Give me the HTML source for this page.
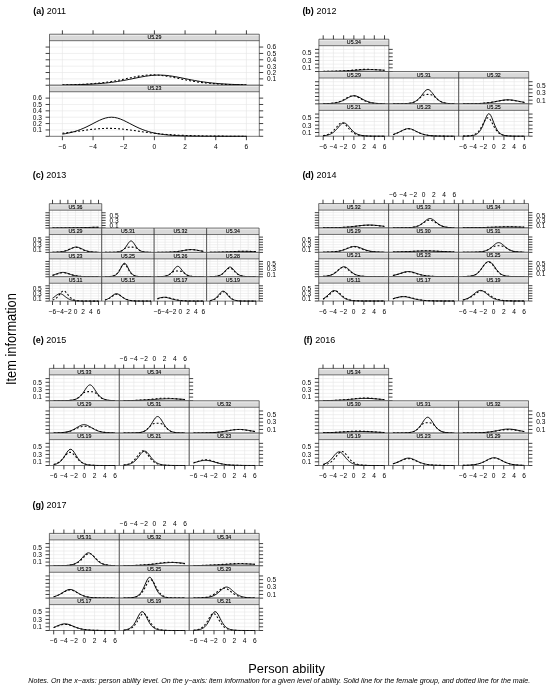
<!DOCTYPE html>
<html lang="en">
<head>
<meta charset="utf-8">
<title>Item information by person ability, 2011-2017</title>
<style>
html,body{margin:0;padding:0;background:#fff;}
body{width:550px;height:689px;overflow:hidden;}
svg{display:block;font-family:'Liberation Sans', Arial, Helvetica, sans-serif;}
</style>
</head>
<body>
<svg width="550" height="689" viewBox="0 0 550 689">
<rect width="550" height="689" fill="#fff"/>
<text x="49.6" y="13.6" font-size="9" fill="#000" text-anchor="middle"><tspan font-weight="bold">(a)</tspan> 2011</text>
<g><rect x="49.5" y="40.7" width="209.8" height="44.55" fill="#fff"/>
<path d="M62.38 40.7V85.25M93.05 40.7V85.25M123.73 40.7V85.25M154.4 40.7V85.25M185.07 40.7V85.25M215.75 40.7V85.25M246.42 40.7V85.25M49.5 78.89H259.3M49.5 72.52H259.3M49.5 66.16H259.3M49.5 59.79H259.3M49.5 53.43H259.3M49.5 47.06H259.3" stroke="#e6e6e6" stroke-width="0.6" fill="none"/>
<rect x="49.5" y="34.2" width="209.8" height="6.5" fill="#d9d9d9"/>
<rect x="49.5" y="34.2" width="209.8" height="1.7" fill="#ececec"/>
<text x="154.4" y="39.34" font-size="5.25" text-anchor="middle" fill="#000" stroke="#000" stroke-width="0.12">U5.29</text>
<polyline points="62.38,84.9 65.45,84.84 68.52,84.77 71.58,84.69 74.65,84.6 77.72,84.49 80.79,84.36 83.85,84.21 86.92,84.04 89.99,83.84 93.05,83.61 96.12,83.35 99.19,83.06 102.26,82.72 105.32,82.35 108.39,81.93 111.46,81.46 114.53,80.95 117.59,80.4 120.66,79.81 123.73,79.2 126.79,78.56 129.86,77.91 132.93,77.28 136,76.68 139.06,76.13 142.13,75.66 145.2,75.29 148.27,75.03 151.33,74.89 154.4,74.89 157.47,75.03 160.53,75.29 163.6,75.66 166.67,76.13 169.74,76.68 172.8,77.28 175.87,77.91 178.94,78.56 182.01,79.2 185.07,79.81 188.14,80.4 191.21,80.95 194.27,81.46 197.34,81.93 200.41,82.35 203.48,82.72 206.54,83.06 209.61,83.35 212.68,83.61 215.75,83.84 218.81,84.04 221.88,84.21 224.95,84.36 228.01,84.49 231.08,84.6 234.15,84.69 237.22,84.77 240.28,84.84 243.35,84.9 246.42,84.95" fill="none" stroke="#000" stroke-width="1.05" stroke-dasharray="1.9 2.1"/>
<polyline points="62.38,84.99 65.45,84.95 68.52,84.89 71.58,84.83 74.65,84.76 77.72,84.68 80.79,84.58 83.85,84.47 86.92,84.34 89.99,84.2 93.05,84.02 96.12,83.83 99.19,83.6 102.26,83.34 105.32,83.05 108.39,82.72 111.46,82.35 114.53,81.93 117.59,81.47 120.66,80.97 123.73,80.43 126.79,79.86 129.86,79.25 132.93,78.63 136,78 139.06,77.39 142.13,76.81 145.2,76.28 148.27,75.83 151.33,75.46 154.4,75.21 157.47,75.08 160.53,75.08 163.6,75.21 166.67,75.46 169.74,75.83 172.8,76.28 175.87,76.81 178.94,77.39 182.01,78 185.07,78.63 188.14,79.25 191.21,79.86 194.27,80.43 197.34,80.97 200.41,81.47 203.48,81.93 206.54,82.35 209.61,82.72 212.68,83.05 215.75,83.34 218.81,83.6 221.88,83.83 224.95,84.02 228.01,84.2 231.08,84.34 234.15,84.47 237.22,84.58 240.28,84.68 243.35,84.76 246.42,84.83" fill="none" stroke="#000" stroke-width="0.95"/>
<path d="M49.5 34.2H259.3V85.25H49.5ZM49.5 40.7H259.3" fill="none" stroke="#1a1a1a" stroke-width="0.6"/>
<text x="267" y="81.26" font-size="6.6" text-anchor="start">0.1</text>
<text x="267" y="74.9" font-size="6.6" text-anchor="start">0.2</text>
<text x="267" y="68.53" font-size="6.6" text-anchor="start">0.3</text>
<text x="267" y="62.17" font-size="6.6" text-anchor="start">0.4</text>
<text x="267" y="55.8" font-size="6.6" text-anchor="start">0.5</text>
<text x="267" y="49.44" font-size="6.6" text-anchor="start">0.6</text>
<path d="M62.38 34.2v-3.9M93.05 34.2v-3.9M123.73 34.2v-3.9M154.4 34.2v-3.9M185.07 34.2v-3.9M215.75 34.2v-3.9M246.42 34.2v-3.9M49.5 85.25h-3.9M49.5 78.89h-3.9M49.5 72.52h-3.9M49.5 66.16h-3.9M49.5 59.79h-3.9M49.5 53.43h-3.9M49.5 47.06h-3.9M259.3 85.25h3.9M259.3 78.89h3.9M259.3 72.52h3.9M259.3 66.16h3.9M259.3 59.79h3.9M259.3 53.43h3.9M259.3 47.06h3.9" fill="none" stroke="#000" stroke-width="0.75"/>
<rect x="49.5" y="91.75" width="209.8" height="44.55" fill="#fff"/>
<path d="M62.38 91.75V136.3M93.05 91.75V136.3M123.73 91.75V136.3M154.4 91.75V136.3M185.07 91.75V136.3M215.75 91.75V136.3M246.42 91.75V136.3M49.5 129.94H259.3M49.5 123.57H259.3M49.5 117.21H259.3M49.5 110.84H259.3M49.5 104.48H259.3M49.5 98.11H259.3" stroke="#e6e6e6" stroke-width="0.6" fill="none"/>
<rect x="49.5" y="85.25" width="209.8" height="6.5" fill="#d9d9d9"/>
<rect x="49.5" y="85.25" width="209.8" height="1.7" fill="#ececec"/>
<text x="154.4" y="90.39" font-size="5.25" text-anchor="middle" fill="#000" stroke="#000" stroke-width="0.12">U5.23</text>
<polyline points="62.38,133.26 65.45,132.91 68.52,132.53 71.58,132.14 74.65,131.72 77.72,131.29 80.79,130.86 83.85,130.43 86.92,130.01 89.99,129.62 93.05,129.26 96.12,128.95 99.19,128.69 102.26,128.5 105.32,128.38 108.39,128.34 111.46,128.38 114.53,128.5 117.59,128.69 120.66,128.95 123.73,129.26 126.79,129.62 129.86,130.01 132.93,130.43 136,130.86 139.06,131.29 142.13,131.72 145.2,132.14 148.27,132.53 151.33,132.91 154.4,133.26 157.47,133.58 160.53,133.88 163.6,134.15 166.67,134.4 169.74,134.62 172.8,134.82 175.87,135 178.94,135.16 182.01,135.3 185.07,135.42 188.14,135.53 191.21,135.63 194.27,135.72 197.34,135.79 200.41,135.86 203.48,135.91 206.54,135.96 209.61,136.01 212.68,136.04 215.75,136.08 218.81,136.11 221.88,136.13 224.95,136.15 228.01,136.17 231.08,136.19 234.15,136.2 237.22,136.22 240.28,136.23 243.35,136.24 246.42,136.25" fill="none" stroke="#000" stroke-width="1.05" stroke-dasharray="1.9 2.1"/>
<polyline points="62.38,134.14 65.45,133.65 68.52,133.05 71.58,132.35 74.65,131.51 77.72,130.52 80.79,129.39 83.85,128.11 86.92,126.69 89.99,125.15 93.05,123.55 96.12,121.96 99.19,120.45 102.26,119.13 105.32,118.1 108.39,117.43 111.46,117.21 114.53,117.43 117.59,118.1 120.66,119.13 123.73,120.45 126.79,121.96 129.86,123.55 132.93,125.15 136,126.69 139.06,128.11 142.13,129.39 145.2,130.52 148.27,131.51 151.33,132.35 154.4,133.05 157.47,133.65 160.53,134.14 163.6,134.54 166.67,134.88 169.74,135.15 172.8,135.37 175.87,135.55 178.94,135.69 182.01,135.81 185.07,135.91 188.14,135.98 191.21,136.05 194.27,136.1 197.34,136.14 200.41,136.17 203.48,136.19 206.54,136.21 209.61,136.23 212.68,136.24 215.75,136.26 218.81,136.26 221.88,136.27 224.95,136.28 228.01,136.28 231.08,136.29 234.15,136.29 237.22,136.29 240.28,136.29 243.35,136.29 246.42,136.3" fill="none" stroke="#000" stroke-width="0.95"/>
<path d="M49.5 85.25H259.3V136.3H49.5ZM49.5 91.75H259.3" fill="none" stroke="#1a1a1a" stroke-width="0.6"/>
<text x="62.38" y="148.95" font-size="6.6" text-anchor="middle">−6</text>
<text x="93.05" y="148.95" font-size="6.6" text-anchor="middle">−4</text>
<text x="123.73" y="148.95" font-size="6.6" text-anchor="middle">−2</text>
<text x="154.4" y="148.95" font-size="6.6" text-anchor="middle">0</text>
<text x="185.07" y="148.95" font-size="6.6" text-anchor="middle">2</text>
<text x="215.75" y="148.95" font-size="6.6" text-anchor="middle">4</text>
<text x="246.42" y="148.95" font-size="6.6" text-anchor="middle">6</text>
<text x="42" y="132.31" font-size="6.6" text-anchor="end">0.1</text>
<text x="42" y="125.95" font-size="6.6" text-anchor="end">0.2</text>
<text x="42" y="119.58" font-size="6.6" text-anchor="end">0.3</text>
<text x="42" y="113.22" font-size="6.6" text-anchor="end">0.4</text>
<text x="42" y="106.85" font-size="6.6" text-anchor="end">0.5</text>
<text x="42" y="100.49" font-size="6.6" text-anchor="end">0.6</text>
<path d="M62.38 136.3v3.9M93.05 136.3v3.9M123.73 136.3v3.9M154.4 136.3v3.9M185.07 136.3v3.9M215.75 136.3v3.9M246.42 136.3v3.9M49.5 136.3h-3.9M49.5 129.94h-3.9M49.5 123.57h-3.9M49.5 117.21h-3.9M49.5 110.84h-3.9M49.5 104.48h-3.9M49.5 98.11h-3.9M259.3 136.3h3.9M259.3 129.94h3.9M259.3 123.57h3.9M259.3 117.21h3.9M259.3 110.84h3.9M259.3 104.48h3.9M259.3 98.11h3.9" fill="none" stroke="#000" stroke-width="0.75"/></g>
<text x="319.4" y="13.6" font-size="9" fill="#000" text-anchor="middle"><tspan font-weight="bold">(b)</tspan> 2012</text>
<g><rect x="318.9" y="45.7" width="69.93" height="25.83" fill="#fff"/>
<path d="M323.19 45.7V71.53M333.42 45.7V71.53M343.64 45.7V71.53M353.87 45.7V71.53M364.09 45.7V71.53M374.32 45.7V71.53M384.54 45.7V71.53M318.9 67.84H388.83M318.9 64.15H388.83M318.9 60.46H388.83M318.9 56.77H388.83M318.9 53.08H388.83M318.9 49.39H388.83" stroke="#e6e6e6" stroke-width="0.6" fill="none"/>
<rect x="318.9" y="39.2" width="69.93" height="6.5" fill="#d9d9d9"/>
<rect x="318.9" y="39.2" width="69.93" height="1.7" fill="#ececec"/>
<text x="353.87" y="44.34" font-size="5.25" text-anchor="middle" fill="#000" stroke="#000" stroke-width="0.12">U5.34</text>
<polyline points="323.19,71.41 324.22,71.39 325.24,71.38 326.26,71.36 327.28,71.35 328.31,71.33 329.33,71.31 330.35,71.29 331.37,71.26 332.4,71.24 333.42,71.21 334.44,71.18 335.46,71.15 336.49,71.11 337.51,71.07 338.53,71.03 339.55,70.99 340.58,70.94 341.6,70.89 342.62,70.83 343.64,70.77 344.66,70.71 345.69,70.64 346.71,70.57 347.73,70.5 348.75,70.43 349.78,70.35 350.8,70.27 351.82,70.19 352.84,70.1 353.87,70.02 354.89,69.94 355.91,69.86 356.93,69.78 357.96,69.7 358.98,69.63 360,69.56 361.02,69.5 362.05,69.45 363.07,69.4 364.09,69.37 365.11,69.34 366.14,69.32 367.16,69.32 368.18,69.32 369.2,69.34 370.23,69.37 371.25,69.4 372.27,69.45 373.29,69.5 374.32,69.56 375.34,69.63 376.36,69.7 377.38,69.78 378.4,69.86 379.43,69.94 380.45,70.02 381.47,70.1 382.49,70.19 383.52,70.27 384.54,70.35" fill="none" stroke="#000" stroke-width="1.05" stroke-dasharray="1.9 2.1"/>
<polyline points="323.19,71.42 324.22,71.41 325.24,71.39 326.26,71.38 327.28,71.37 328.31,71.35 329.33,71.34 330.35,71.32 331.37,71.3 332.4,71.28 333.42,71.26 334.44,71.24 335.46,71.21 336.49,71.18 337.51,71.16 338.53,71.12 339.55,71.09 340.58,71.06 341.6,71.02 342.62,70.98 343.64,70.93 344.66,70.89 345.69,70.84 346.71,70.79 347.73,70.74 348.75,70.68 349.78,70.63 350.8,70.57 351.82,70.51 352.84,70.45 353.87,70.38 354.89,70.32 355.91,70.26 356.93,70.19 357.96,70.13 358.98,70.07 360,70.01 361.02,69.96 362.05,69.91 363.07,69.86 364.09,69.81 365.11,69.78 366.14,69.75 367.16,69.72 368.18,69.7 369.2,69.69 370.23,69.69 371.25,69.69 372.27,69.7 373.29,69.72 374.32,69.75 375.34,69.78 376.36,69.81 377.38,69.86 378.4,69.91 379.43,69.96 380.45,70.01 381.47,70.07 382.49,70.13 383.52,70.19 384.54,70.26" fill="none" stroke="#000" stroke-width="0.95"/>
<path d="M318.9 39.2H388.83V71.53H318.9ZM318.9 45.7H388.83" fill="none" stroke="#1a1a1a" stroke-width="0.6"/>
<text x="311.4" y="70.22" font-size="6.6" text-anchor="end">0.1</text>
<text x="311.4" y="62.84" font-size="6.6" text-anchor="end">0.3</text>
<text x="311.4" y="55.46" font-size="6.6" text-anchor="end">0.5</text>
<path d="M323.19 39.2v-3.9M333.42 39.2v-3.9M343.64 39.2v-3.9M353.87 39.2v-3.9M364.09 39.2v-3.9M374.32 39.2v-3.9M384.54 39.2v-3.9M318.9 71.53h-3.9M318.9 67.84h-3.9M318.9 64.15h-3.9M318.9 60.46h-3.9M318.9 56.77h-3.9M318.9 53.08h-3.9M318.9 49.39h-3.9M388.83 71.53h3.9M388.83 67.84h3.9M388.83 64.15h3.9M388.83 60.46h3.9M388.83 56.77h3.9M388.83 53.08h3.9M388.83 49.39h3.9" fill="none" stroke="#000" stroke-width="0.75"/>
<rect x="318.9" y="78.03" width="69.93" height="25.83" fill="#fff"/>
<path d="M323.19 78.03V103.87M333.42 78.03V103.87M343.64 78.03V103.87M353.87 78.03V103.87M364.09 78.03V103.87M374.32 78.03V103.87M384.54 78.03V103.87M318.9 100.18H388.83M318.9 96.49H388.83M318.9 92.8H388.83M318.9 89.1H388.83M318.9 85.41H388.83M318.9 81.72H388.83" stroke="#e6e6e6" stroke-width="0.6" fill="none"/>
<rect x="318.9" y="71.53" width="69.93" height="6.5" fill="#d9d9d9"/>
<rect x="318.9" y="71.53" width="69.93" height="1.7" fill="#ececec"/>
<text x="353.87" y="76.67" font-size="5.25" text-anchor="middle" fill="#000" stroke="#000" stroke-width="0.12">U5.29</text>
<polyline points="323.19,103.73 324.22,103.71 325.24,103.67 326.26,103.63 327.28,103.59 328.31,103.53 329.33,103.46 330.35,103.38 331.37,103.29 332.4,103.17 333.42,103.04 334.44,102.87 335.46,102.68 336.49,102.46 337.51,102.2 338.53,101.91 339.55,101.56 340.58,101.17 341.6,100.74 342.62,100.25 343.64,99.73 344.66,99.17 345.69,98.59 346.71,98 347.73,97.44 348.75,96.91 349.78,96.46 350.8,96.1 351.82,95.86 352.84,95.75 353.87,95.79 354.89,95.96 355.91,96.26 356.93,96.67 357.96,97.17 358.98,97.72 360,98.3 361.02,98.88 362.05,99.45 363.07,100 364.09,100.5 365.11,100.96 366.14,101.37 367.16,101.74 368.18,102.06 369.2,102.34 370.23,102.58 371.25,102.78 372.27,102.96 373.29,103.11 374.32,103.23 375.34,103.34 376.36,103.42 377.38,103.5 378.4,103.56 379.43,103.61 380.45,103.65 381.47,103.69 382.49,103.72 383.52,103.75 384.54,103.77" fill="none" stroke="#000" stroke-width="1.05" stroke-dasharray="1.9 2.1"/>
<polyline points="323.19,103.76 324.22,103.73 325.24,103.71 326.26,103.67 327.28,103.63 328.31,103.59 329.33,103.53 330.35,103.46 331.37,103.38 332.4,103.29 333.42,103.17 334.44,103.04 335.46,102.87 336.49,102.68 337.51,102.46 338.53,102.2 339.55,101.91 340.58,101.56 341.6,101.17 342.62,100.74 343.64,100.25 344.66,99.73 345.69,99.17 346.71,98.59 347.73,98 348.75,97.44 349.78,96.91 350.8,96.46 351.82,96.1 352.84,95.86 353.87,95.75 354.89,95.79 355.91,95.96 356.93,96.26 357.96,96.67 358.98,97.17 360,97.72 361.02,98.3 362.05,98.88 363.07,99.45 364.09,100 365.11,100.5 366.14,100.96 367.16,101.37 368.18,101.74 369.2,102.06 370.23,102.34 371.25,102.58 372.27,102.78 373.29,102.96 374.32,103.11 375.34,103.23 376.36,103.34 377.38,103.42 378.4,103.5 379.43,103.56 380.45,103.61 381.47,103.65 382.49,103.69 383.52,103.72 384.54,103.75" fill="none" stroke="#000" stroke-width="0.95"/>
<path d="M318.9 71.53H388.83V103.87H318.9ZM318.9 78.03H388.83" fill="none" stroke="#1a1a1a" stroke-width="0.6"/>
<path d="M318.9 103.87h-3.9M318.9 100.18h-3.9M318.9 96.49h-3.9M318.9 92.8h-3.9M318.9 89.1h-3.9M318.9 85.41h-3.9M318.9 81.72h-3.9" fill="none" stroke="#000" stroke-width="0.75"/>
<rect x="388.83" y="78.03" width="69.93" height="25.83" fill="#fff"/>
<path d="M393.13 78.03V103.87M403.35 78.03V103.87M413.58 78.03V103.87M423.8 78.03V103.87M434.02 78.03V103.87M444.25 78.03V103.87M454.47 78.03V103.87M388.83 100.18H458.77M388.83 96.49H458.77M388.83 92.8H458.77M388.83 89.1H458.77M388.83 85.41H458.77M388.83 81.72H458.77" stroke="#e6e6e6" stroke-width="0.6" fill="none"/>
<rect x="388.83" y="71.53" width="69.93" height="6.5" fill="#d9d9d9"/>
<rect x="388.83" y="71.53" width="69.93" height="1.7" fill="#ececec"/>
<text x="423.8" y="76.67" font-size="5.25" text-anchor="middle" fill="#000" stroke="#000" stroke-width="0.12">U5.31</text>
<polyline points="393.13,103.85 394.15,103.85 395.17,103.85 396.19,103.84 397.22,103.83 398.24,103.83 399.26,103.81 400.28,103.8 401.31,103.78 402.33,103.76 403.35,103.72 404.37,103.68 405.4,103.63 406.42,103.57 407.44,103.48 408.46,103.38 409.49,103.24 410.51,103.07 411.53,102.85 412.55,102.57 413.58,102.22 414.6,101.79 415.62,101.26 416.64,100.62 417.67,99.85 418.69,98.97 419.71,98 420.73,97.04 421.76,96.17 422.78,95.48 423.8,95.01 424.82,94.7 425.84,94.52 426.87,94.43 427.89,94.4 428.91,94.43 429.93,94.52 430.96,94.7 431.98,95.01 433,95.48 434.02,96.17 435.05,97.04 436.07,98 437.09,98.97 438.11,99.85 439.14,100.62 440.16,101.26 441.18,101.79 442.2,102.22 443.23,102.57 444.25,102.85 445.27,103.07 446.29,103.24 447.32,103.38 448.34,103.48 449.36,103.57 450.38,103.63 451.41,103.68 452.43,103.72 453.45,103.76 454.47,103.78" fill="none" stroke="#000" stroke-width="1.05" stroke-dasharray="1.9 2.1"/>
<polyline points="393.13,103.85 394.15,103.85 395.17,103.85 396.19,103.84 397.22,103.83 398.24,103.83 399.26,103.81 400.28,103.8 401.31,103.78 402.33,103.76 403.35,103.72 404.37,103.68 405.4,103.63 406.42,103.57 407.44,103.48 408.46,103.38 409.49,103.24 410.51,103.07 411.53,102.85 412.55,102.57 413.58,102.22 414.6,101.79 415.62,101.26 416.64,100.61 417.67,99.82 418.69,98.89 419.71,97.81 420.73,96.6 421.76,95.27 422.78,93.9 423.8,92.54 424.82,91.32 425.84,90.34 426.87,89.7 427.89,89.47 428.91,89.7 429.93,90.34 430.96,91.32 431.98,92.54 433,93.9 434.02,95.27 435.05,96.6 436.07,97.81 437.09,98.89 438.11,99.82 439.14,100.61 440.16,101.26 441.18,101.79 442.2,102.22 443.23,102.57 444.25,102.85 445.27,103.07 446.29,103.24 447.32,103.38 448.34,103.48 449.36,103.57 450.38,103.63 451.41,103.68 452.43,103.72 453.45,103.76 454.47,103.78" fill="none" stroke="#000" stroke-width="0.95"/>
<path d="M388.83 71.53H458.77V103.87H388.83ZM388.83 78.03H458.77" fill="none" stroke="#1a1a1a" stroke-width="0.6"/>
<path d="" fill="none" stroke="#000" stroke-width="0.75"/>
<rect x="458.77" y="78.03" width="69.93" height="25.83" fill="#fff"/>
<path d="M463.06 78.03V103.87M473.28 78.03V103.87M483.51 78.03V103.87M493.73 78.03V103.87M503.96 78.03V103.87M514.18 78.03V103.87M524.41 78.03V103.87M458.77 100.18H528.7M458.77 96.49H528.7M458.77 92.8H528.7M458.77 89.1H528.7M458.77 85.41H528.7M458.77 81.72H528.7" stroke="#e6e6e6" stroke-width="0.6" fill="none"/>
<rect x="458.77" y="71.53" width="69.93" height="6.5" fill="#d9d9d9"/>
<rect x="458.77" y="71.53" width="69.93" height="1.7" fill="#ececec"/>
<text x="493.73" y="76.67" font-size="5.25" text-anchor="middle" fill="#000" stroke="#000" stroke-width="0.12">U5.32</text>
<polyline points="463.06,103.81 464.08,103.8 465.11,103.8 466.13,103.79 467.15,103.78 468.17,103.76 469.2,103.75 470.22,103.73 471.24,103.71 472.26,103.69 473.28,103.67 474.31,103.64 475.33,103.61 476.35,103.58 477.37,103.54 478.4,103.5 479.42,103.45 480.44,103.4 481.46,103.34 482.49,103.27 483.51,103.2 484.53,103.11 485.55,103.02 486.58,102.92 487.6,102.81 488.62,102.68 489.64,102.55 490.67,102.41 491.69,102.25 492.71,102.09 493.73,101.91 494.76,101.73 495.78,101.54 496.8,101.35 497.82,101.16 498.85,100.96 499.87,100.78 500.89,100.61 501.91,100.45 502.94,100.3 503.96,100.18 504.98,100.09 506,100.03 507.02,100 508.05,100 509.07,100.03 510.09,100.09 511.11,100.18 512.14,100.3 513.16,100.45 514.18,100.61 515.2,100.78 516.23,100.96 517.25,101.16 518.27,101.35 519.29,101.54 520.32,101.73 521.34,101.91 522.36,102.09 523.38,102.25 524.41,102.41" fill="none" stroke="#000" stroke-width="1.05" stroke-dasharray="1.9 2.1"/>
<polyline points="463.06,103.82 464.08,103.81 465.11,103.81 466.13,103.8 467.15,103.79 468.17,103.78 469.2,103.76 470.22,103.75 471.24,103.73 472.26,103.71 473.28,103.69 474.31,103.67 475.33,103.64 476.35,103.61 477.37,103.57 478.4,103.53 479.42,103.49 480.44,103.44 481.46,103.38 482.49,103.32 483.51,103.25 484.53,103.17 485.55,103.08 486.58,102.98 487.6,102.87 488.62,102.75 489.64,102.62 490.67,102.47 491.69,102.32 492.71,102.15 493.73,101.97 494.76,101.78 495.78,101.59 496.8,101.38 497.82,101.18 498.85,100.97 499.87,100.77 500.89,100.57 501.91,100.39 502.94,100.22 503.96,100.08 504.98,99.96 506,99.88 507.02,99.82 508.05,99.81 509.07,99.82 510.09,99.88 511.11,99.96 512.14,100.08 513.16,100.22 514.18,100.39 515.2,100.57 516.23,100.77 517.25,100.97 518.27,101.18 519.29,101.38 520.32,101.59 521.34,101.78 522.36,101.97 523.38,102.15 524.41,102.32" fill="none" stroke="#000" stroke-width="0.95"/>
<path d="M458.77 71.53H528.7V103.87H458.77ZM458.77 78.03H528.7" fill="none" stroke="#1a1a1a" stroke-width="0.6"/>
<text x="536.4" y="102.55" font-size="6.6" text-anchor="start">0.1</text>
<text x="536.4" y="95.17" font-size="6.6" text-anchor="start">0.3</text>
<text x="536.4" y="87.79" font-size="6.6" text-anchor="start">0.5</text>
<path d="M528.7 103.87h3.9M528.7 100.18h3.9M528.7 96.49h3.9M528.7 92.8h3.9M528.7 89.1h3.9M528.7 85.41h3.9M528.7 81.72h3.9" fill="none" stroke="#000" stroke-width="0.75"/>
<rect x="318.9" y="110.37" width="69.93" height="25.83" fill="#fff"/>
<path d="M323.19 110.37V136.2M333.42 110.37V136.2M343.64 110.37V136.2M353.87 110.37V136.2M364.09 110.37V136.2M374.32 110.37V136.2M384.54 110.37V136.2M318.9 132.51H388.83M318.9 128.82H388.83M318.9 125.13H388.83M318.9 121.44H388.83M318.9 117.75H388.83M318.9 114.06H388.83" stroke="#e6e6e6" stroke-width="0.6" fill="none"/>
<rect x="318.9" y="103.87" width="69.93" height="6.5" fill="#d9d9d9"/>
<rect x="318.9" y="103.87" width="69.93" height="1.7" fill="#ececec"/>
<text x="353.87" y="109.01" font-size="5.25" text-anchor="middle" fill="#000" stroke="#000" stroke-width="0.12">U5.21</text>
<polyline points="323.19,135.6 324.22,135.44 325.24,135.24 326.26,134.99 327.28,134.67 328.31,134.29 329.33,133.81 330.35,133.23 331.37,132.54 332.4,131.72 333.42,130.77 334.44,129.7 335.46,128.52 336.49,127.28 337.51,126.04 338.53,124.88 339.55,123.89 340.58,123.16 341.6,122.78 342.62,122.78 343.64,123.16 344.66,123.89 345.69,124.88 346.71,126.04 347.73,127.28 348.75,128.52 349.78,129.7 350.8,130.77 351.82,131.72 352.84,132.54 353.87,133.23 354.89,133.81 355.91,134.29 356.93,134.67 357.96,134.99 358.98,135.24 360,135.44 361.02,135.6 362.05,135.72 363.07,135.83 364.09,135.9 365.11,135.97 366.14,136.02 367.16,136.06 368.18,136.09 369.2,136.11 370.23,136.13 371.25,136.15 372.27,136.16 373.29,136.17 374.32,136.17 375.34,136.18 376.36,136.18 377.38,136.19 378.4,136.19 379.43,136.19 380.45,136.19 381.47,136.2 382.49,136.2 383.52,136.2 384.54,136.2" fill="none" stroke="#000" stroke-width="1.05" stroke-dasharray="1.9 2.1"/>
<polyline points="323.19,135.79 324.22,135.69 325.24,135.55 326.26,135.38 327.28,135.17 328.31,134.9 329.33,134.57 330.35,134.16 331.37,133.67 332.4,133.06 333.42,132.35 334.44,131.5 335.46,130.53 336.49,129.45 337.51,128.27 338.53,127.05 339.55,125.85 340.58,124.75 341.6,123.84 342.62,123.21 343.64,122.93 344.66,123.02 345.69,123.48 346.71,124.26 347.73,125.28 348.75,126.44 349.78,127.67 350.8,128.87 351.82,130.01 352.84,131.03 353.87,131.94 354.89,132.72 355.91,133.38 356.93,133.93 357.96,134.38 358.98,134.74 360,135.04 361.02,135.28 362.05,135.47 363.07,135.62 364.09,135.74 365.11,135.84 366.14,135.92 367.16,135.98 368.18,136.02 369.2,136.06 370.23,136.09 371.25,136.11 372.27,136.13 373.29,136.15 374.32,136.16 375.34,136.17 376.36,136.17 377.38,136.18 378.4,136.18 379.43,136.19 380.45,136.19 381.47,136.19 382.49,136.19 383.52,136.2 384.54,136.2" fill="none" stroke="#000" stroke-width="0.95"/>
<path d="M318.9 103.87H388.83V136.2H318.9ZM318.9 110.37H388.83" fill="none" stroke="#1a1a1a" stroke-width="0.6"/>
<text x="323.19" y="148.85" font-size="6.6" text-anchor="middle">−6</text>
<text x="333.42" y="148.85" font-size="6.6" text-anchor="middle">−4</text>
<text x="343.64" y="148.85" font-size="6.6" text-anchor="middle">−2</text>
<text x="353.87" y="148.85" font-size="6.6" text-anchor="middle">0</text>
<text x="364.09" y="148.85" font-size="6.6" text-anchor="middle">2</text>
<text x="374.32" y="148.85" font-size="6.6" text-anchor="middle">4</text>
<text x="384.54" y="148.85" font-size="6.6" text-anchor="middle">6</text>
<text x="311.4" y="134.89" font-size="6.6" text-anchor="end">0.1</text>
<text x="311.4" y="127.5" font-size="6.6" text-anchor="end">0.3</text>
<text x="311.4" y="120.12" font-size="6.6" text-anchor="end">0.5</text>
<path d="M323.19 136.2v3.9M333.42 136.2v3.9M343.64 136.2v3.9M353.87 136.2v3.9M364.09 136.2v3.9M374.32 136.2v3.9M384.54 136.2v3.9M318.9 136.2h-3.9M318.9 132.51h-3.9M318.9 128.82h-3.9M318.9 125.13h-3.9M318.9 121.44h-3.9M318.9 117.75h-3.9M318.9 114.06h-3.9" fill="none" stroke="#000" stroke-width="0.75"/>
<rect x="388.83" y="110.37" width="69.93" height="25.83" fill="#fff"/>
<path d="M393.13 110.37V136.2M403.35 110.37V136.2M413.58 110.37V136.2M423.8 110.37V136.2M434.02 110.37V136.2M444.25 110.37V136.2M454.47 110.37V136.2M388.83 132.51H458.77M388.83 128.82H458.77M388.83 125.13H458.77M388.83 121.44H458.77M388.83 117.75H458.77M388.83 114.06H458.77" stroke="#e6e6e6" stroke-width="0.6" fill="none"/>
<rect x="388.83" y="103.87" width="69.93" height="6.5" fill="#d9d9d9"/>
<rect x="388.83" y="103.87" width="69.93" height="1.7" fill="#ececec"/>
<text x="423.8" y="109.01" font-size="5.25" text-anchor="middle" fill="#000" stroke="#000" stroke-width="0.12">U5.23</text>
<polyline points="393.13,134.43 394.15,134.14 395.17,133.81 396.19,133.43 397.22,133.02 398.24,132.58 399.26,132.1 400.28,131.6 401.31,131.1 402.33,130.59 403.35,130.12 404.37,129.69 405.4,129.33 406.42,129.05 407.44,128.88 408.46,128.82 409.49,128.88 410.51,129.05 411.53,129.33 412.55,129.69 413.58,130.12 414.6,130.59 415.62,131.1 416.64,131.6 417.67,132.1 418.69,132.58 419.71,133.02 420.73,133.43 421.76,133.81 422.78,134.14 423.8,134.43 424.82,134.69 425.84,134.91 426.87,135.11 427.89,135.28 428.91,135.42 429.93,135.54 430.96,135.65 431.98,135.73 433,135.81 434.02,135.87 435.05,135.92 436.07,135.97 437.09,136.01 438.11,136.04 439.14,136.06 440.16,136.09 441.18,136.1 442.2,136.12 443.23,136.13 444.25,136.14 445.27,136.15 446.29,136.16 447.32,136.17 448.34,136.17 449.36,136.18 450.38,136.18 451.41,136.18 452.43,136.19 453.45,136.19 454.47,136.19" fill="none" stroke="#000" stroke-width="1.05" stroke-dasharray="1.9 2.1"/>
<polyline points="393.13,134.44 394.15,134.14 395.17,133.8 396.19,133.42 397.22,133 398.24,132.55 399.26,132.05 400.28,131.54 401.31,131.01 402.33,130.49 403.35,130 404.37,129.55 405.4,129.17 406.42,128.88 407.44,128.7 408.46,128.63 409.49,128.7 410.51,128.88 411.53,129.17 412.55,129.55 413.58,130 414.6,130.49 415.62,131.01 416.64,131.54 417.67,132.05 418.69,132.55 419.71,133 420.73,133.42 421.76,133.8 422.78,134.14 423.8,134.44 424.82,134.7 425.84,134.93 426.87,135.12 427.89,135.29 428.91,135.43 429.93,135.55 430.96,135.66 431.98,135.74 433,135.82 434.02,135.88 435.05,135.93 436.07,135.98 437.09,136.01 438.11,136.04 439.14,136.07 440.16,136.09 441.18,136.11 442.2,136.12 443.23,136.14 444.25,136.15 445.27,136.16 446.29,136.16 447.32,136.17 448.34,136.17 449.36,136.18 450.38,136.18 451.41,136.18 452.43,136.19 453.45,136.19 454.47,136.19" fill="none" stroke="#000" stroke-width="0.95"/>
<path d="M388.83 103.87H458.77V136.2H388.83ZM388.83 110.37H458.77" fill="none" stroke="#1a1a1a" stroke-width="0.6"/>
<path d="M393.13 136.2v3.9M403.35 136.2v3.9M413.58 136.2v3.9M423.8 136.2v3.9M434.02 136.2v3.9M444.25 136.2v3.9M454.47 136.2v3.9" fill="none" stroke="#000" stroke-width="0.75"/>
<rect x="458.77" y="110.37" width="69.93" height="25.83" fill="#fff"/>
<path d="M463.06 110.37V136.2M473.28 110.37V136.2M483.51 110.37V136.2M493.73 110.37V136.2M503.96 110.37V136.2M514.18 110.37V136.2M524.41 110.37V136.2M458.77 132.51H528.7M458.77 128.82H528.7M458.77 125.13H528.7M458.77 121.44H528.7M458.77 117.75H528.7M458.77 114.06H528.7" stroke="#e6e6e6" stroke-width="0.6" fill="none"/>
<rect x="458.77" y="103.87" width="69.93" height="6.5" fill="#d9d9d9"/>
<rect x="458.77" y="103.87" width="69.93" height="1.7" fill="#ececec"/>
<text x="493.73" y="109.01" font-size="5.25" text-anchor="middle" fill="#000" stroke="#000" stroke-width="0.12">U5.25</text>
<polyline points="463.06,136.12 464.08,136.1 465.11,136.06 466.13,136.02 467.15,135.96 468.17,135.88 469.2,135.78 470.22,135.65 471.24,135.47 472.26,135.24 473.28,134.93 474.31,134.54 475.33,134.03 476.35,133.38 477.37,132.55 478.4,131.52 479.42,130.25 480.44,128.75 481.46,127.01 482.49,125.09 483.51,123.08 484.53,121.16 485.55,119.5 486.58,118.31 487.6,117.77 488.62,117.95 489.64,118.83 490.67,120.28 491.69,122.1 492.71,124.09 493.73,126.06 494.76,127.9 495.78,129.53 496.8,130.91 497.82,132.06 498.85,132.99 499.87,133.72 500.89,134.3 501.91,134.75 502.94,135.1 503.96,135.36 504.98,135.56 506,135.72 507.02,135.84 508.05,135.93 509.07,135.99 510.09,136.04 511.11,136.08 512.14,136.11 513.16,136.13 514.18,136.15 515.2,136.16 516.23,136.17 517.25,136.18 518.27,136.18 519.29,136.19 520.32,136.19 521.34,136.19 522.36,136.19 523.38,136.2 524.41,136.2" fill="none" stroke="#000" stroke-width="1.05" stroke-dasharray="1.9 2.1"/>
<polyline points="463.06,136.17 464.08,136.15 465.11,136.14 466.13,136.11 467.15,136.08 468.17,136.04 469.2,135.98 470.22,135.9 471.24,135.79 472.26,135.64 473.28,135.44 474.31,135.17 475.33,134.81 476.35,134.32 477.37,133.67 478.4,132.82 479.42,131.71 480.44,130.29 481.46,128.53 482.49,126.4 483.51,123.95 484.53,121.29 485.55,118.62 486.58,116.25 487.6,114.53 488.62,113.72 489.64,113.99 490.67,115.29 491.69,117.38 492.71,119.94 493.73,122.63 494.76,125.21 495.78,127.51 496.8,129.45 497.82,131.04 498.85,132.3 499.87,133.27 500.89,134.02 501.91,134.58 502.94,135.01 503.96,135.32 504.98,135.55 506,135.72 507.02,135.85 508.05,135.94 509.07,136.01 510.09,136.06 511.11,136.1 512.14,136.13 513.16,136.15 514.18,136.16 515.2,136.17 516.23,136.18 517.25,136.18 518.27,136.19 519.29,136.19 520.32,136.19 521.34,136.2 522.36,136.2 523.38,136.2 524.41,136.2" fill="none" stroke="#000" stroke-width="0.95"/>
<path d="M458.77 103.87H528.7V136.2H458.77ZM458.77 110.37H528.7" fill="none" stroke="#1a1a1a" stroke-width="0.6"/>
<text x="463.06" y="148.85" font-size="6.6" text-anchor="middle">−6</text>
<text x="473.28" y="148.85" font-size="6.6" text-anchor="middle">−4</text>
<text x="483.51" y="148.85" font-size="6.6" text-anchor="middle">−2</text>
<text x="493.73" y="148.85" font-size="6.6" text-anchor="middle">0</text>
<text x="503.96" y="148.85" font-size="6.6" text-anchor="middle">2</text>
<text x="514.18" y="148.85" font-size="6.6" text-anchor="middle">4</text>
<text x="524.41" y="148.85" font-size="6.6" text-anchor="middle">6</text>
<path d="M463.06 136.2v3.9M473.28 136.2v3.9M483.51 136.2v3.9M493.73 136.2v3.9M503.96 136.2v3.9M514.18 136.2v3.9M524.41 136.2v3.9M528.7 136.2h3.9M528.7 132.51h3.9M528.7 128.82h3.9M528.7 125.13h3.9M528.7 121.44h3.9M528.7 117.75h3.9M528.7 114.06h3.9" fill="none" stroke="#000" stroke-width="0.75"/></g>
<text x="49.6" y="178" font-size="9" fill="#000" text-anchor="middle"><tspan font-weight="bold">(c)</tspan> 2013</text>
<g><rect x="49.3" y="210.2" width="52.45" height="17.85" fill="#fff"/>
<path d="M52.52 210.2V228.05M60.19 210.2V228.05M67.86 210.2V228.05M75.53 210.2V228.05M83.19 210.2V228.05M90.86 210.2V228.05M98.53 210.2V228.05M49.3 225.5H101.75M49.3 222.95H101.75M49.3 220.4H101.75M49.3 217.85H101.75M49.3 215.3H101.75M49.3 212.75H101.75" stroke="#e6e6e6" stroke-width="0.6" fill="none"/>
<rect x="49.3" y="203.7" width="52.45" height="6.5" fill="#d9d9d9"/>
<rect x="49.3" y="203.7" width="52.45" height="1.7" fill="#ececec"/>
<text x="75.53" y="208.84" font-size="5.25" text-anchor="middle" fill="#000" stroke="#000" stroke-width="0.12">U5.36</text>
<polyline points="52.52,228.01 53.29,228.01 54.05,228.01 54.82,228 55.59,228 56.35,228 57.12,227.99 57.89,227.99 58.66,227.98 59.42,227.98 60.19,227.97 60.96,227.97 61.72,227.96 62.49,227.96 63.26,227.95 64.02,227.94 64.79,227.94 65.56,227.93 66.32,227.92 67.09,227.91 67.86,227.9 68.62,227.9 69.39,227.89 70.16,227.88 70.92,227.86 71.69,227.85 72.46,227.84 73.22,227.83 73.99,227.81 74.76,227.8 75.53,227.79 76.29,227.77 77.06,227.76 77.83,227.74 78.59,227.72 79.36,227.71 80.13,227.69 80.89,227.67 81.66,227.65 82.43,227.63 83.19,227.61 83.96,227.59 84.73,227.57 85.49,227.55 86.26,227.53 87.03,227.51 87.79,227.49 88.56,227.47 89.33,227.45 90.09,227.43 90.86,227.41 91.63,227.39 92.39,227.38 93.16,227.36 93.93,227.35 94.7,227.33 95.46,227.32 96.23,227.31 97,227.3 97.76,227.3 98.53,227.29" fill="none" stroke="#000" stroke-width="1.05" stroke-dasharray="1.9 2.1"/>
<polyline points="52.52,228.01 53.29,228.01 54.05,228.01 54.82,228 55.59,228 56.35,228 57.12,227.99 57.89,227.99 58.66,227.98 59.42,227.98 60.19,227.97 60.96,227.97 61.72,227.96 62.49,227.96 63.26,227.95 64.02,227.94 64.79,227.94 65.56,227.93 66.32,227.92 67.09,227.91 67.86,227.9 68.62,227.9 69.39,227.89 70.16,227.88 70.92,227.86 71.69,227.85 72.46,227.84 73.22,227.83 73.99,227.81 74.76,227.8 75.53,227.79 76.29,227.77 77.06,227.76 77.83,227.74 78.59,227.72 79.36,227.71 80.13,227.69 80.89,227.67 81.66,227.65 82.43,227.63 83.19,227.61 83.96,227.59 84.73,227.57 85.49,227.55 86.26,227.53 87.03,227.51 87.79,227.49 88.56,227.47 89.33,227.45 90.09,227.43 90.86,227.41 91.63,227.39 92.39,227.38 93.16,227.36 93.93,227.35 94.7,227.33 95.46,227.32 96.23,227.31 97,227.3 97.76,227.3 98.53,227.29" fill="none" stroke="#000" stroke-width="0.95"/>
<path d="M49.3 203.7H101.75V228.05H49.3ZM49.3 210.2H101.75" fill="none" stroke="#1a1a1a" stroke-width="0.6"/>
<text x="109.45" y="227.88" font-size="6.6" text-anchor="start">0.1</text>
<text x="109.45" y="222.78" font-size="6.6" text-anchor="start">0.3</text>
<text x="109.45" y="217.68" font-size="6.6" text-anchor="start">0.5</text>
<path d="M52.52 203.7v-3.9M60.19 203.7v-3.9M67.86 203.7v-3.9M75.53 203.7v-3.9M83.19 203.7v-3.9M90.86 203.7v-3.9M98.53 203.7v-3.9M49.3 228.05h-3.9M49.3 225.5h-3.9M49.3 222.95h-3.9M49.3 220.4h-3.9M49.3 217.85h-3.9M49.3 215.3h-3.9M49.3 212.75h-3.9M101.75 228.05h3.9M101.75 225.5h3.9M101.75 222.95h3.9M101.75 220.4h3.9M101.75 217.85h3.9M101.75 215.3h3.9M101.75 212.75h3.9" fill="none" stroke="#000" stroke-width="0.75"/>
<rect x="49.3" y="234.55" width="52.45" height="17.85" fill="#fff"/>
<path d="M52.52 234.55V252.4M60.19 234.55V252.4M67.86 234.55V252.4M75.53 234.55V252.4M83.19 234.55V252.4M90.86 234.55V252.4M98.53 234.55V252.4M49.3 249.85H101.75M49.3 247.3H101.75M49.3 244.75H101.75M49.3 242.2H101.75M49.3 239.65H101.75M49.3 237.1H101.75" stroke="#e6e6e6" stroke-width="0.6" fill="none"/>
<rect x="49.3" y="228.05" width="52.45" height="6.5" fill="#d9d9d9"/>
<rect x="49.3" y="228.05" width="52.45" height="1.7" fill="#ececec"/>
<text x="75.53" y="233.19" font-size="5.25" text-anchor="middle" fill="#000" stroke="#000" stroke-width="0.12">U5.29</text>
<polyline points="52.52,252.31 53.29,252.29 54.05,252.27 54.82,252.24 55.59,252.21 56.35,252.17 57.12,252.13 57.89,252.08 58.66,252.02 59.42,251.94 60.19,251.86 60.96,251.76 61.72,251.65 62.49,251.51 63.26,251.36 64.02,251.18 64.79,250.98 65.56,250.75 66.32,250.49 67.09,250.21 67.86,249.9 68.62,249.57 69.39,249.22 70.16,248.87 70.92,248.53 71.69,248.2 72.46,247.9 73.22,247.65 73.99,247.46 74.76,247.34 75.53,247.3 76.29,247.34 77.06,247.46 77.83,247.65 78.59,247.9 79.36,248.2 80.13,248.53 80.89,248.87 81.66,249.22 82.43,249.57 83.19,249.9 83.96,250.21 84.73,250.49 85.49,250.75 86.26,250.98 87.03,251.18 87.79,251.36 88.56,251.51 89.33,251.65 90.09,251.76 90.86,251.86 91.63,251.94 92.39,252.02 93.16,252.08 93.93,252.13 94.7,252.17 95.46,252.21 96.23,252.24 97,252.27 97.76,252.29 98.53,252.31" fill="none" stroke="#000" stroke-width="1.05" stroke-dasharray="1.9 2.1"/>
<polyline points="52.52,252.33 53.29,252.31 54.05,252.3 54.82,252.28 55.59,252.25 56.35,252.22 57.12,252.19 57.89,252.14 58.66,252.09 59.42,252.03 60.19,251.96 60.96,251.88 61.72,251.78 62.49,251.66 63.26,251.53 64.02,251.37 64.79,251.19 65.56,250.98 66.32,250.74 67.09,250.48 67.86,250.18 68.62,249.85 69.39,249.5 70.16,249.14 70.92,248.76 71.69,248.39 72.46,248.03 73.22,247.7 73.99,247.43 74.76,247.22 75.53,247.09 76.29,247.04 77.06,247.09 77.83,247.22 78.59,247.43 79.36,247.7 80.13,248.03 80.89,248.39 81.66,248.76 82.43,249.14 83.19,249.5 83.96,249.85 84.73,250.18 85.49,250.48 86.26,250.74 87.03,250.98 87.79,251.19 88.56,251.37 89.33,251.53 90.09,251.66 90.86,251.78 91.63,251.88 92.39,251.96 93.16,252.03 93.93,252.09 94.7,252.14 95.46,252.19 96.23,252.22 97,252.25 97.76,252.28 98.53,252.3" fill="none" stroke="#000" stroke-width="0.95"/>
<path d="M49.3 228.05H101.75V252.4H49.3ZM49.3 234.55H101.75" fill="none" stroke="#1a1a1a" stroke-width="0.6"/>
<text x="41.8" y="252.23" font-size="6.6" text-anchor="end">0.1</text>
<text x="41.8" y="247.13" font-size="6.6" text-anchor="end">0.3</text>
<text x="41.8" y="242.03" font-size="6.6" text-anchor="end">0.5</text>
<path d="M49.3 252.4h-3.9M49.3 249.85h-3.9M49.3 247.3h-3.9M49.3 244.75h-3.9M49.3 242.2h-3.9M49.3 239.65h-3.9M49.3 237.1h-3.9" fill="none" stroke="#000" stroke-width="0.75"/>
<rect x="101.75" y="234.55" width="52.45" height="17.85" fill="#fff"/>
<path d="M104.97 234.55V252.4M112.64 234.55V252.4M120.31 234.55V252.4M127.97 234.55V252.4M135.64 234.55V252.4M143.31 234.55V252.4M150.98 234.55V252.4M101.75 249.85H154.2M101.75 247.3H154.2M101.75 244.75H154.2M101.75 242.2H154.2M101.75 239.65H154.2M101.75 237.1H154.2" stroke="#e6e6e6" stroke-width="0.6" fill="none"/>
<rect x="101.75" y="228.05" width="52.45" height="6.5" fill="#d9d9d9"/>
<rect x="101.75" y="228.05" width="52.45" height="1.7" fill="#ececec"/>
<text x="127.97" y="233.19" font-size="5.25" text-anchor="middle" fill="#000" stroke="#000" stroke-width="0.12">U5.31</text>
<polyline points="104.97,252.39 105.74,252.39 106.5,252.39 107.27,252.39 108.04,252.39 108.8,252.38 109.57,252.37 110.34,252.37 111.11,252.36 111.87,252.34 112.64,252.33 113.41,252.3 114.17,252.28 114.94,252.24 115.71,252.19 116.47,252.12 117.24,252.04 118.01,251.93 118.77,251.79 119.54,251.61 120.31,251.38 121.07,251.08 121.84,250.71 122.61,250.25 123.37,249.7 124.14,249.08 124.91,248.46 125.67,247.93 126.44,247.56 127.21,247.34 127.97,247.22 128.74,247.16 129.51,247.13 130.28,247.11 131.04,247.11 131.81,247.11 132.58,247.13 133.34,247.16 134.11,247.22 134.88,247.34 135.64,247.56 136.41,247.93 137.18,248.46 137.94,249.08 138.71,249.7 139.48,250.25 140.24,250.71 141.01,251.08 141.78,251.38 142.54,251.61 143.31,251.79 144.08,251.93 144.84,252.04 145.61,252.12 146.38,252.19 147.15,252.24 147.91,252.28 148.68,252.3 149.45,252.33 150.21,252.34 150.98,252.36" fill="none" stroke="#000" stroke-width="1.05" stroke-dasharray="1.9 2.1"/>
<polyline points="104.97,252.39 105.74,252.39 106.5,252.39 107.27,252.39 108.04,252.39 108.8,252.38 109.57,252.37 110.34,252.37 111.11,252.36 111.87,252.34 112.64,252.33 113.41,252.3 114.17,252.28 114.94,252.24 115.71,252.19 116.47,252.12 117.24,252.04 118.01,251.93 118.77,251.79 119.54,251.61 120.31,251.38 121.07,251.08 121.84,250.7 122.61,250.23 123.37,249.65 124.14,248.94 124.91,248.1 125.67,247.12 126.44,246.03 127.21,244.86 127.97,243.69 128.74,242.6 129.51,241.71 130.28,241.13 131.04,240.92 131.81,241.13 132.58,241.71 133.34,242.6 134.11,243.69 134.88,244.86 135.64,246.03 136.41,247.12 137.18,248.1 137.94,248.94 138.71,249.65 139.48,250.23 140.24,250.7 141.01,251.08 141.78,251.38 142.54,251.61 143.31,251.79 144.08,251.93 144.84,252.04 145.61,252.12 146.38,252.19 147.15,252.24 147.91,252.28 148.68,252.3 149.45,252.33 150.21,252.34 150.98,252.36" fill="none" stroke="#000" stroke-width="0.95"/>
<path d="M101.75 228.05H154.2V252.4H101.75ZM101.75 234.55H154.2" fill="none" stroke="#1a1a1a" stroke-width="0.6"/>
<path d="" fill="none" stroke="#000" stroke-width="0.75"/>
<rect x="154.2" y="234.55" width="52.45" height="17.85" fill="#fff"/>
<path d="M157.42 234.55V252.4M165.09 234.55V252.4M172.76 234.55V252.4M180.42 234.55V252.4M188.09 234.55V252.4M195.76 234.55V252.4M203.43 234.55V252.4M154.2 249.85H206.65M154.2 247.3H206.65M154.2 244.75H206.65M154.2 242.2H206.65M154.2 239.65H206.65M154.2 237.1H206.65" stroke="#e6e6e6" stroke-width="0.6" fill="none"/>
<rect x="154.2" y="228.05" width="52.45" height="6.5" fill="#d9d9d9"/>
<rect x="154.2" y="228.05" width="52.45" height="1.7" fill="#ececec"/>
<text x="180.42" y="233.19" font-size="5.25" text-anchor="middle" fill="#000" stroke="#000" stroke-width="0.12">U5.32</text>
<polyline points="157.42,252.37 158.19,252.36 158.95,252.36 159.72,252.35 160.49,252.34 161.25,252.34 162.02,252.33 162.79,252.32 163.56,252.31 164.32,252.29 165.09,252.28 165.86,252.26 166.62,252.24 167.39,252.22 168.16,252.2 168.92,252.17 169.69,252.14 170.46,252.1 171.22,252.07 171.99,252.02 172.76,251.97 173.52,251.92 174.29,251.85 175.06,251.79 175.82,251.71 176.59,251.63 177.36,251.54 178.12,251.44 178.89,251.33 179.66,251.21 180.42,251.09 181.19,250.96 181.96,250.82 182.73,250.68 183.49,250.54 184.26,250.4 185.03,250.26 185.79,250.12 186.56,250 187.33,249.88 188.09,249.78 188.86,249.7 189.63,249.64 190.39,249.61 191.16,249.59 191.93,249.61 192.69,249.64 193.46,249.7 194.23,249.78 194.99,249.88 195.76,250 196.53,250.12 197.29,250.26 198.06,250.4 198.83,250.54 199.6,250.68 200.36,250.82 201.13,250.96 201.9,251.09 202.66,251.21 203.43,251.33" fill="none" stroke="#000" stroke-width="1.05" stroke-dasharray="1.9 2.1"/>
<polyline points="157.42,252.37 158.19,252.36 158.95,252.36 159.72,252.35 160.49,252.34 161.25,252.34 162.02,252.33 162.79,252.32 163.56,252.31 164.32,252.29 165.09,252.28 165.86,252.26 166.62,252.24 167.39,252.22 168.16,252.2 168.92,252.17 169.69,252.14 170.46,252.1 171.22,252.07 171.99,252.02 172.76,251.97 173.52,251.92 174.29,251.85 175.06,251.79 175.82,251.71 176.59,251.63 177.36,251.54 178.12,251.44 178.89,251.33 179.66,251.21 180.42,251.09 181.19,250.96 181.96,250.82 182.73,250.68 183.49,250.54 184.26,250.4 185.03,250.26 185.79,250.12 186.56,250 187.33,249.88 188.09,249.78 188.86,249.7 189.63,249.64 190.39,249.61 191.16,249.59 191.93,249.61 192.69,249.64 193.46,249.7 194.23,249.78 194.99,249.88 195.76,250 196.53,250.12 197.29,250.26 198.06,250.4 198.83,250.54 199.6,250.68 200.36,250.82 201.13,250.96 201.9,251.09 202.66,251.21 203.43,251.33" fill="none" stroke="#000" stroke-width="0.95"/>
<path d="M154.2 228.05H206.65V252.4H154.2ZM154.2 234.55H206.65" fill="none" stroke="#1a1a1a" stroke-width="0.6"/>
<path d="" fill="none" stroke="#000" stroke-width="0.75"/>
<rect x="206.65" y="234.55" width="52.45" height="17.85" fill="#fff"/>
<path d="M209.87 234.55V252.4M217.54 234.55V252.4M225.21 234.55V252.4M232.88 234.55V252.4M240.54 234.55V252.4M248.21 234.55V252.4M255.88 234.55V252.4M206.65 249.85H259.1M206.65 247.3H259.1M206.65 244.75H259.1M206.65 242.2H259.1M206.65 239.65H259.1M206.65 237.1H259.1" stroke="#e6e6e6" stroke-width="0.6" fill="none"/>
<rect x="206.65" y="228.05" width="52.45" height="6.5" fill="#d9d9d9"/>
<rect x="206.65" y="228.05" width="52.45" height="1.7" fill="#ececec"/>
<text x="232.88" y="233.19" font-size="5.25" text-anchor="middle" fill="#000" stroke="#000" stroke-width="0.12">U5.34</text>
<polyline points="209.87,252.3 210.64,252.3 211.4,252.29 212.17,252.28 212.94,252.27 213.7,252.26 214.47,252.24 215.24,252.23 216.01,252.22 216.77,252.2 217.54,252.19 218.31,252.17 219.07,252.15 219.84,252.13 220.61,252.11 221.37,252.09 222.14,252.07 222.91,252.04 223.67,252.02 224.44,251.99 225.21,251.96 225.97,251.93 226.74,251.9 227.51,251.87 228.27,251.83 229.04,251.8 229.81,251.76 230.57,251.73 231.34,251.69 232.11,251.65 232.88,251.62 233.64,251.58 234.41,251.54 235.18,251.51 235.94,251.47 236.71,251.44 237.48,251.4 238.24,251.38 239.01,251.35 239.78,251.32 240.54,251.3 241.31,251.28 242.08,251.27 242.84,251.26 243.61,251.25 244.38,251.25 245.14,251.25 245.91,251.26 246.68,251.27 247.44,251.28 248.21,251.3 248.98,251.32 249.74,251.35 250.51,251.38 251.28,251.4 252.05,251.44 252.81,251.47 253.58,251.51 254.35,251.54 255.11,251.58 255.88,251.62" fill="none" stroke="#000" stroke-width="1.05" stroke-dasharray="1.9 2.1"/>
<polyline points="209.87,252.29 210.64,252.29 211.4,252.28 212.17,252.27 212.94,252.26 213.7,252.25 214.47,252.23 215.24,252.22 216.01,252.21 216.77,252.19 217.54,252.18 218.31,252.16 219.07,252.15 219.84,252.13 220.61,252.11 221.37,252.09 222.14,252.07 222.91,252.05 223.67,252.02 224.44,252 225.21,251.97 225.97,251.95 226.74,251.92 227.51,251.89 228.27,251.86 229.04,251.83 229.81,251.8 230.57,251.77 231.34,251.74 232.11,251.71 232.88,251.67 233.64,251.64 234.41,251.61 235.18,251.58 235.94,251.55 236.71,251.53 237.48,251.5 238.24,251.48 239.01,251.46 239.78,251.44 240.54,251.42 241.31,251.41 242.08,251.39 242.84,251.39 243.61,251.38 244.38,251.38 245.14,251.38 245.91,251.39 246.68,251.39 247.44,251.41 248.21,251.42 248.98,251.44 249.74,251.46 250.51,251.48 251.28,251.5 252.05,251.53 252.81,251.55 253.58,251.58 254.35,251.61 255.11,251.64 255.88,251.67" fill="none" stroke="#000" stroke-width="0.95"/>
<path d="M206.65 228.05H259.1V252.4H206.65ZM206.65 234.55H259.1" fill="none" stroke="#1a1a1a" stroke-width="0.6"/>
<path d="M259.1 252.4h3.9M259.1 249.85h3.9M259.1 247.3h3.9M259.1 244.75h3.9M259.1 242.2h3.9M259.1 239.65h3.9M259.1 237.1h3.9" fill="none" stroke="#000" stroke-width="0.75"/>
<rect x="49.3" y="258.9" width="52.45" height="17.85" fill="#fff"/>
<path d="M52.52 258.9V276.75M60.19 258.9V276.75M67.86 258.9V276.75M75.53 258.9V276.75M83.19 258.9V276.75M90.86 258.9V276.75M98.53 258.9V276.75M49.3 274.2H101.75M49.3 271.65H101.75M49.3 269.1H101.75M49.3 266.55H101.75M49.3 264H101.75M49.3 261.45H101.75" stroke="#e6e6e6" stroke-width="0.6" fill="none"/>
<rect x="49.3" y="252.4" width="52.45" height="6.5" fill="#d9d9d9"/>
<rect x="49.3" y="252.4" width="52.45" height="1.7" fill="#ececec"/>
<text x="75.53" y="257.54" font-size="5.25" text-anchor="middle" fill="#000" stroke="#000" stroke-width="0.12">U5.23</text>
<polyline points="52.52,275.33 53.29,275.14 54.05,274.93 54.82,274.71 55.59,274.47 56.35,274.22 57.12,273.97 57.89,273.72 58.66,273.48 59.42,273.26 60.19,273.06 60.96,272.9 61.72,272.77 62.49,272.7 63.26,272.67 64.02,272.7 64.79,272.77 65.56,272.9 66.32,273.06 67.09,273.26 67.86,273.48 68.62,273.72 69.39,273.97 70.16,274.22 70.92,274.47 71.69,274.71 72.46,274.93 73.22,275.14 73.99,275.33 74.76,275.51 75.53,275.66 76.29,275.8 77.06,275.93 77.83,276.04 78.59,276.14 79.36,276.22 80.13,276.29 80.89,276.36 81.66,276.41 82.43,276.46 83.19,276.5 83.96,276.54 84.73,276.57 85.49,276.6 86.26,276.62 87.03,276.64 87.79,276.65 88.56,276.67 89.33,276.68 90.09,276.69 90.86,276.7 91.63,276.71 92.39,276.71 93.16,276.72 93.93,276.72 94.7,276.73 95.46,276.73 96.23,276.73 97,276.74 97.76,276.74 98.53,276.74" fill="none" stroke="#000" stroke-width="1.05" stroke-dasharray="1.9 2.1"/>
<polyline points="52.52,275.23 53.29,275.01 54.05,274.78 54.82,274.53 55.59,274.27 56.35,274 57.12,273.73 57.89,273.46 58.66,273.2 59.42,272.96 60.19,272.76 60.96,272.59 61.72,272.48 62.49,272.42 63.26,272.42 64.02,272.48 64.79,272.59 65.56,272.76 66.32,272.96 67.09,273.2 67.86,273.46 68.62,273.73 69.39,274 70.16,274.27 70.92,274.53 71.69,274.78 72.46,275.01 73.22,275.23 73.99,275.42 74.76,275.59 75.53,275.75 76.29,275.88 77.06,276 77.83,276.11 78.59,276.2 79.36,276.28 80.13,276.35 80.89,276.4 81.66,276.46 82.43,276.5 83.19,276.54 83.96,276.57 84.73,276.6 85.49,276.62 86.26,276.64 87.03,276.65 87.79,276.67 88.56,276.68 89.33,276.69 90.09,276.7 90.86,276.71 91.63,276.71 92.39,276.72 93.16,276.72 93.93,276.73 94.7,276.73 95.46,276.73 96.23,276.74 97,276.74 97.76,276.74 98.53,276.74" fill="none" stroke="#000" stroke-width="0.95"/>
<path d="M49.3 252.4H101.75V276.75H49.3ZM49.3 258.9H101.75" fill="none" stroke="#1a1a1a" stroke-width="0.6"/>
<path d="M49.3 276.75h-3.9M49.3 274.2h-3.9M49.3 271.65h-3.9M49.3 269.1h-3.9M49.3 266.55h-3.9M49.3 264h-3.9M49.3 261.45h-3.9" fill="none" stroke="#000" stroke-width="0.75"/>
<rect x="101.75" y="258.9" width="52.45" height="17.85" fill="#fff"/>
<path d="M104.97 258.9V276.75M112.64 258.9V276.75M120.31 258.9V276.75M127.97 258.9V276.75M135.64 258.9V276.75M143.31 258.9V276.75M150.98 258.9V276.75M101.75 274.2H154.2M101.75 271.65H154.2M101.75 269.1H154.2M101.75 266.55H154.2M101.75 264H154.2M101.75 261.45H154.2" stroke="#e6e6e6" stroke-width="0.6" fill="none"/>
<rect x="101.75" y="252.4" width="52.45" height="6.5" fill="#d9d9d9"/>
<rect x="101.75" y="252.4" width="52.45" height="1.7" fill="#ececec"/>
<text x="127.97" y="257.54" font-size="5.25" text-anchor="middle" fill="#000" stroke="#000" stroke-width="0.12">U5.25</text>
<polyline points="104.97,276.71 105.74,276.69 106.5,276.67 107.27,276.65 108.04,276.62 108.8,276.57 109.57,276.52 110.34,276.44 111.11,276.34 111.87,276.21 112.64,276.04 113.41,275.81 114.17,275.52 114.94,275.15 115.71,274.67 116.47,274.06 117.24,273.31 118.01,272.4 118.77,271.31 119.54,270.08 120.31,268.73 121.07,267.34 121.84,266.05 122.61,264.97 123.37,264.25 124.14,264 124.91,264.25 125.67,264.97 126.44,266.05 127.21,267.34 127.97,268.73 128.74,270.08 129.51,271.31 130.28,272.4 131.04,273.31 131.81,274.06 132.58,274.67 133.34,275.15 134.11,275.52 134.88,275.81 135.64,276.04 136.41,276.21 137.18,276.34 137.94,276.44 138.71,276.52 139.48,276.57 140.24,276.62 141.01,276.65 141.78,276.67 142.54,276.69 143.31,276.71 144.08,276.72 144.84,276.73 145.61,276.73 146.38,276.74 147.15,276.74 147.91,276.74 148.68,276.74 149.45,276.75 150.21,276.75 150.98,276.75" fill="none" stroke="#000" stroke-width="1.05" stroke-dasharray="1.9 2.1"/>
<polyline points="104.97,276.72 105.74,276.71 106.5,276.69 107.27,276.67 108.04,276.65 108.8,276.61 109.57,276.57 110.34,276.5 111.11,276.42 111.87,276.31 112.64,276.17 113.41,275.98 114.17,275.73 114.94,275.4 115.71,274.98 116.47,274.43 117.24,273.74 118.01,272.88 118.77,271.83 119.54,270.6 120.31,269.2 121.07,267.71 121.84,266.22 122.61,264.88 123.37,263.86 124.14,263.31 124.91,263.31 125.67,263.86 126.44,264.88 127.21,266.22 127.97,267.71 128.74,269.2 129.51,270.6 130.28,271.83 131.04,272.88 131.81,273.74 132.58,274.43 133.34,274.98 134.11,275.4 134.88,275.73 135.64,275.98 136.41,276.17 137.18,276.31 137.94,276.42 138.71,276.5 139.48,276.57 140.24,276.61 141.01,276.65 141.78,276.67 142.54,276.69 143.31,276.71 144.08,276.72 144.84,276.73 145.61,276.73 146.38,276.74 147.15,276.74 147.91,276.74 148.68,276.74 149.45,276.75 150.21,276.75 150.98,276.75" fill="none" stroke="#000" stroke-width="0.95"/>
<path d="M101.75 252.4H154.2V276.75H101.75ZM101.75 258.9H154.2" fill="none" stroke="#1a1a1a" stroke-width="0.6"/>
<path d="" fill="none" stroke="#000" stroke-width="0.75"/>
<rect x="154.2" y="258.9" width="52.45" height="17.85" fill="#fff"/>
<path d="M157.42 258.9V276.75M165.09 258.9V276.75M172.76 258.9V276.75M180.42 258.9V276.75M188.09 258.9V276.75M195.76 258.9V276.75M203.43 258.9V276.75M154.2 274.2H206.65M154.2 271.65H206.65M154.2 269.1H206.65M154.2 266.55H206.65M154.2 264H206.65M154.2 261.45H206.65" stroke="#e6e6e6" stroke-width="0.6" fill="none"/>
<rect x="154.2" y="252.4" width="52.45" height="6.5" fill="#d9d9d9"/>
<rect x="154.2" y="252.4" width="52.45" height="1.7" fill="#ececec"/>
<text x="180.42" y="257.54" font-size="5.25" text-anchor="middle" fill="#000" stroke="#000" stroke-width="0.12">U5.26</text>
<polyline points="157.42,276.7 158.19,276.69 158.95,276.67 159.72,276.65 160.49,276.62 161.25,276.58 162.02,276.53 162.79,276.47 163.56,276.39 164.32,276.29 165.09,276.16 165.86,275.99 166.62,275.78 167.39,275.51 168.16,275.18 168.92,274.77 169.69,274.28 170.46,273.71 171.22,273.08 171.99,272.46 172.76,271.94 173.52,271.55 174.29,271.31 175.06,271.16 175.82,271.08 176.59,271.04 177.36,271.02 178.12,271.02 178.89,271.04 179.66,271.08 180.42,271.16 181.19,271.31 181.96,271.55 182.73,271.94 183.49,272.46 184.26,273.08 185.03,273.71 185.79,274.28 186.56,274.77 187.33,275.18 188.09,275.51 188.86,275.78 189.63,275.99 190.39,276.16 191.16,276.29 191.93,276.39 192.69,276.47 193.46,276.53 194.23,276.58 194.99,276.62 195.76,276.65 196.53,276.67 197.29,276.69 198.06,276.7 198.83,276.71 199.6,276.72 200.36,276.73 201.13,276.73 201.9,276.74 202.66,276.74 203.43,276.74" fill="none" stroke="#000" stroke-width="1.05" stroke-dasharray="1.9 2.1"/>
<polyline points="157.42,276.7 158.19,276.69 158.95,276.67 159.72,276.65 160.49,276.62 161.25,276.58 162.02,276.53 162.79,276.47 163.56,276.39 164.32,276.29 165.09,276.16 165.86,275.99 166.62,275.78 167.39,275.51 168.16,275.18 168.92,274.77 169.69,274.26 170.46,273.65 171.22,272.93 171.99,272.09 172.76,271.15 173.52,270.15 174.29,269.12 175.06,268.14 175.82,267.3 176.59,266.67 177.36,266.34 178.12,266.34 178.89,266.67 179.66,267.3 180.42,268.14 181.19,269.12 181.96,270.15 182.73,271.15 183.49,272.09 184.26,272.93 185.03,273.65 185.79,274.26 186.56,274.77 187.33,275.18 188.09,275.51 188.86,275.78 189.63,275.99 190.39,276.16 191.16,276.29 191.93,276.39 192.69,276.47 193.46,276.53 194.23,276.58 194.99,276.62 195.76,276.65 196.53,276.67 197.29,276.69 198.06,276.7 198.83,276.71 199.6,276.72 200.36,276.73 201.13,276.73 201.9,276.74 202.66,276.74 203.43,276.74" fill="none" stroke="#000" stroke-width="0.95"/>
<path d="M154.2 252.4H206.65V276.75H154.2ZM154.2 258.9H206.65" fill="none" stroke="#1a1a1a" stroke-width="0.6"/>
<path d="" fill="none" stroke="#000" stroke-width="0.75"/>
<rect x="206.65" y="258.9" width="52.45" height="17.85" fill="#fff"/>
<path d="M209.87 258.9V276.75M217.54 258.9V276.75M225.21 258.9V276.75M232.88 258.9V276.75M240.54 258.9V276.75M248.21 258.9V276.75M255.88 258.9V276.75M206.65 274.2H259.1M206.65 271.65H259.1M206.65 269.1H259.1M206.65 266.55H259.1M206.65 264H259.1M206.65 261.45H259.1" stroke="#e6e6e6" stroke-width="0.6" fill="none"/>
<rect x="206.65" y="252.4" width="52.45" height="6.5" fill="#d9d9d9"/>
<rect x="206.65" y="252.4" width="52.45" height="1.7" fill="#ececec"/>
<text x="232.88" y="257.54" font-size="5.25" text-anchor="middle" fill="#000" stroke="#000" stroke-width="0.12">U5.28</text>
<polyline points="209.87,276.67 210.64,276.65 211.4,276.62 212.17,276.59 212.94,276.55 213.7,276.5 214.47,276.43 215.24,276.35 216.01,276.24 216.77,276.12 217.54,275.96 218.31,275.76 219.07,275.52 219.84,275.23 220.61,274.87 221.37,274.45 222.14,273.95 222.91,273.38 223.67,272.73 224.44,272.01 225.21,271.24 225.97,270.47 226.74,269.72 227.51,269.06 228.27,268.54 229.04,268.2 229.81,268.08 230.57,268.2 231.34,268.54 232.11,269.06 232.88,269.72 233.64,270.47 234.41,271.24 235.18,272.01 235.94,272.73 236.71,273.38 237.48,273.95 238.24,274.45 239.01,274.87 239.78,275.23 240.54,275.52 241.31,275.76 242.08,275.96 242.84,276.12 243.61,276.24 244.38,276.35 245.14,276.43 245.91,276.5 246.68,276.55 247.44,276.59 248.21,276.62 248.98,276.65 249.74,276.67 250.51,276.69 251.28,276.7 252.05,276.71 252.81,276.72 253.58,276.72 254.35,276.73 255.11,276.73 255.88,276.74" fill="none" stroke="#000" stroke-width="1.05" stroke-dasharray="1.9 2.1"/>
<polyline points="209.87,276.69 210.64,276.67 211.4,276.65 212.17,276.63 212.94,276.59 213.7,276.55 214.47,276.49 215.24,276.42 216.01,276.33 216.77,276.21 217.54,276.07 218.31,275.89 219.07,275.66 219.84,275.38 220.61,275.03 221.37,274.61 222.14,274.1 222.91,273.49 223.67,272.79 224.44,271.99 225.21,271.12 225.97,270.21 226.74,269.3 227.51,268.46 228.27,267.77 229.04,267.29 229.81,267.07 230.57,267.14 231.34,267.5 232.11,268.09 232.88,268.87 233.64,269.75 234.41,270.67 235.18,271.56 235.94,272.4 236.71,273.15 237.48,273.8 238.24,274.36 239.01,274.83 239.78,275.21 240.54,275.53 241.31,275.78 242.08,275.98 242.84,276.15 243.61,276.27 244.38,276.38 245.14,276.46 245.91,276.52 246.68,276.57 247.44,276.61 248.21,276.64 248.98,276.66 249.74,276.68 250.51,276.7 251.28,276.71 252.05,276.72 252.81,276.72 253.58,276.73 254.35,276.73 255.11,276.74 255.88,276.74" fill="none" stroke="#000" stroke-width="0.95"/>
<path d="M206.65 252.4H259.1V276.75H206.65ZM206.65 258.9H259.1" fill="none" stroke="#1a1a1a" stroke-width="0.6"/>
<text x="266.8" y="276.58" font-size="6.6" text-anchor="start">0.1</text>
<text x="266.8" y="271.48" font-size="6.6" text-anchor="start">0.3</text>
<text x="266.8" y="266.38" font-size="6.6" text-anchor="start">0.5</text>
<path d="M259.1 276.75h3.9M259.1 274.2h3.9M259.1 271.65h3.9M259.1 269.1h3.9M259.1 266.55h3.9M259.1 264h3.9M259.1 261.45h3.9" fill="none" stroke="#000" stroke-width="0.75"/>
<rect x="49.3" y="283.25" width="52.45" height="17.85" fill="#fff"/>
<path d="M52.52 283.25V301.1M60.19 283.25V301.1M67.86 283.25V301.1M75.53 283.25V301.1M83.19 283.25V301.1M90.86 283.25V301.1M98.53 283.25V301.1M49.3 298.55H101.75M49.3 296H101.75M49.3 293.45H101.75M49.3 290.9H101.75M49.3 288.35H101.75M49.3 285.8H101.75" stroke="#e6e6e6" stroke-width="0.6" fill="none"/>
<rect x="49.3" y="276.75" width="52.45" height="6.5" fill="#d9d9d9"/>
<rect x="49.3" y="276.75" width="52.45" height="1.7" fill="#ececec"/>
<text x="75.53" y="281.89" font-size="5.25" text-anchor="middle" fill="#000" stroke="#000" stroke-width="0.12">U5.11</text>
<polyline points="52.52,300.11 53.29,299.84 54.05,299.51 54.82,299.1 55.59,298.6 56.35,298 57.12,297.29 57.89,296.47 58.66,295.56 59.42,294.59 60.19,293.6 60.96,292.66 61.72,291.86 62.49,291.26 63.26,290.94 64.02,290.94 64.79,291.26 65.56,291.86 66.32,292.66 67.09,293.6 67.86,294.59 68.62,295.56 69.39,296.47 70.16,297.29 70.92,298 71.69,298.6 72.46,299.1 73.22,299.51 73.99,299.84 74.76,300.11 75.53,300.32 76.29,300.49 77.06,300.62 77.83,300.73 78.59,300.81 79.36,300.87 80.13,300.92 80.89,300.96 81.66,300.99 82.43,301.02 83.19,301.04 83.96,301.05 84.73,301.06 85.49,301.07 86.26,301.08 87.03,301.08 87.79,301.09 88.56,301.09 89.33,301.09 90.09,301.09 90.86,301.09 91.63,301.1 92.39,301.1 93.16,301.1 93.93,301.1 94.7,301.1 95.46,301.1 96.23,301.1 97,301.1 97.76,301.1 98.53,301.1" fill="none" stroke="#000" stroke-width="1.05" stroke-dasharray="1.9 2.1"/>
<polyline points="52.52,298.23 53.29,297.71 54.05,297.15 54.82,296.56 55.59,295.95 56.35,295.35 57.12,294.79 57.89,294.32 58.66,293.96 59.42,293.75 60.19,293.71 60.96,293.84 61.72,294.12 62.49,294.54 63.26,295.06 64.02,295.64 64.79,296.25 65.56,296.86 66.32,297.44 67.09,297.98 67.86,298.46 68.62,298.89 69.39,299.26 70.16,299.58 70.92,299.85 71.69,300.07 72.46,300.26 73.22,300.41 73.99,300.54 74.76,300.65 75.53,300.73 76.29,300.8 77.06,300.86 77.83,300.9 78.59,300.94 79.36,300.97 80.13,301 80.89,301.02 81.66,301.03 82.43,301.05 83.19,301.06 83.96,301.06 84.73,301.07 85.49,301.08 86.26,301.08 87.03,301.09 87.79,301.09 88.56,301.09 89.33,301.09 90.09,301.09 90.86,301.09 91.63,301.1 92.39,301.1 93.16,301.1 93.93,301.1 94.7,301.1 95.46,301.1 96.23,301.1 97,301.1 97.76,301.1 98.53,301.1" fill="none" stroke="#000" stroke-width="0.95"/>
<path d="M49.3 276.75H101.75V301.1H49.3ZM49.3 283.25H101.75" fill="none" stroke="#1a1a1a" stroke-width="0.6"/>
<text x="52.52" y="313.75" font-size="6.6" text-anchor="middle">−6</text>
<text x="60.19" y="313.75" font-size="6.6" text-anchor="middle">−4</text>
<text x="67.86" y="313.75" font-size="6.6" text-anchor="middle">−2</text>
<text x="75.53" y="313.75" font-size="6.6" text-anchor="middle">0</text>
<text x="83.19" y="313.75" font-size="6.6" text-anchor="middle">2</text>
<text x="90.86" y="313.75" font-size="6.6" text-anchor="middle">4</text>
<text x="98.53" y="313.75" font-size="6.6" text-anchor="middle">6</text>
<text x="41.8" y="300.93" font-size="6.6" text-anchor="end">0.1</text>
<text x="41.8" y="295.83" font-size="6.6" text-anchor="end">0.3</text>
<text x="41.8" y="290.73" font-size="6.6" text-anchor="end">0.5</text>
<path d="M52.52 301.1v3.9M60.19 301.1v3.9M67.86 301.1v3.9M75.53 301.1v3.9M83.19 301.1v3.9M90.86 301.1v3.9M98.53 301.1v3.9M49.3 301.1h-3.9M49.3 298.55h-3.9M49.3 296h-3.9M49.3 293.45h-3.9M49.3 290.9h-3.9M49.3 288.35h-3.9M49.3 285.8h-3.9" fill="none" stroke="#000" stroke-width="0.75"/>
<rect x="101.75" y="283.25" width="52.45" height="17.85" fill="#fff"/>
<path d="M104.97 283.25V301.1M112.64 283.25V301.1M120.31 283.25V301.1M127.97 283.25V301.1M135.64 283.25V301.1M143.31 283.25V301.1M150.98 283.25V301.1M101.75 298.55H154.2M101.75 296H154.2M101.75 293.45H154.2M101.75 290.9H154.2M101.75 288.35H154.2M101.75 285.8H154.2" stroke="#e6e6e6" stroke-width="0.6" fill="none"/>
<rect x="101.75" y="276.75" width="52.45" height="6.5" fill="#d9d9d9"/>
<rect x="101.75" y="276.75" width="52.45" height="1.7" fill="#ececec"/>
<text x="127.97" y="281.89" font-size="5.25" text-anchor="middle" fill="#000" stroke="#000" stroke-width="0.12">U5.15</text>
<polyline points="104.97,300.08 105.74,299.87 106.5,299.62 107.27,299.32 108.04,298.98 108.8,298.59 109.57,298.15 110.34,297.67 111.11,297.15 111.87,296.6 112.64,296.05 113.41,295.53 114.17,295.05 114.94,294.66 115.71,294.38 116.47,294.23 117.24,294.23 118.01,294.38 118.77,294.66 119.54,295.05 120.31,295.53 121.07,296.05 121.84,296.6 122.61,297.15 123.37,297.67 124.14,298.15 124.91,298.59 125.67,298.98 126.44,299.32 127.21,299.62 127.97,299.87 128.74,300.08 129.51,300.26 130.28,300.41 131.04,300.54 131.81,300.64 132.58,300.72 133.34,300.79 134.11,300.85 134.88,300.89 135.64,300.93 136.41,300.96 137.18,300.99 137.94,301.01 138.71,301.03 139.48,301.04 140.24,301.05 141.01,301.06 141.78,301.07 142.54,301.07 143.31,301.08 144.08,301.08 144.84,301.09 145.61,301.09 146.38,301.09 147.15,301.09 147.91,301.09 148.68,301.1 149.45,301.1 150.21,301.1 150.98,301.1" fill="none" stroke="#000" stroke-width="1.05" stroke-dasharray="1.9 2.1"/>
<polyline points="104.97,300.02 105.74,299.78 106.5,299.5 107.27,299.17 108.04,298.79 108.8,298.34 109.57,297.85 110.34,297.3 111.11,296.71 111.87,296.1 112.64,295.49 113.41,294.92 114.17,294.43 114.94,294.04 115.71,293.79 116.47,293.71 117.24,293.79 118.01,294.04 118.77,294.43 119.54,294.92 120.31,295.49 121.07,296.1 121.84,296.71 122.61,297.3 123.37,297.85 124.14,298.34 124.91,298.79 125.67,299.17 126.44,299.5 127.21,299.78 127.97,300.02 128.74,300.21 129.51,300.38 130.28,300.51 131.04,300.62 131.81,300.71 132.58,300.79 133.34,300.85 134.11,300.89 134.88,300.93 135.64,300.97 136.41,300.99 137.18,301.01 137.94,301.03 138.71,301.04 139.48,301.05 140.24,301.06 141.01,301.07 141.78,301.08 142.54,301.08 143.31,301.08 144.08,301.09 144.84,301.09 145.61,301.09 146.38,301.09 147.15,301.09 147.91,301.1 148.68,301.1 149.45,301.1 150.21,301.1 150.98,301.1" fill="none" stroke="#000" stroke-width="0.95"/>
<path d="M101.75 276.75H154.2V301.1H101.75ZM101.75 283.25H154.2" fill="none" stroke="#1a1a1a" stroke-width="0.6"/>
<path d="M104.97 301.1v3.9M112.64 301.1v3.9M120.31 301.1v3.9M127.97 301.1v3.9M135.64 301.1v3.9M143.31 301.1v3.9M150.98 301.1v3.9" fill="none" stroke="#000" stroke-width="0.75"/>
<rect x="154.2" y="283.25" width="52.45" height="17.85" fill="#fff"/>
<path d="M157.42 283.25V301.1M165.09 283.25V301.1M172.76 283.25V301.1M180.42 283.25V301.1M188.09 283.25V301.1M195.76 283.25V301.1M203.43 283.25V301.1M154.2 298.55H206.65M154.2 296H206.65M154.2 293.45H206.65M154.2 290.9H206.65M154.2 288.35H206.65M154.2 285.8H206.65" stroke="#e6e6e6" stroke-width="0.6" fill="none"/>
<rect x="154.2" y="276.75" width="52.45" height="6.5" fill="#d9d9d9"/>
<rect x="154.2" y="276.75" width="52.45" height="1.7" fill="#ececec"/>
<text x="180.42" y="281.89" font-size="5.25" text-anchor="middle" fill="#000" stroke="#000" stroke-width="0.12">U5.17</text>
<polyline points="157.42,298.89 158.19,298.66 158.95,298.44 159.72,298.21 160.49,298 161.25,297.8 162.02,297.62 162.79,297.47 163.56,297.37 164.32,297.3 165.09,297.28 165.86,297.3 166.62,297.37 167.39,297.47 168.16,297.62 168.92,297.8 169.69,298 170.46,298.21 171.22,298.44 171.99,298.66 172.76,298.89 173.52,299.11 174.29,299.32 175.06,299.51 175.82,299.69 176.59,299.86 177.36,300.01 178.12,300.14 178.89,300.26 179.66,300.37 180.42,300.47 181.19,300.55 181.96,300.63 182.73,300.69 183.49,300.75 184.26,300.79 185.03,300.84 185.79,300.87 186.56,300.91 187.33,300.93 188.09,300.96 188.86,300.98 189.63,300.99 190.39,301.01 191.16,301.02 191.93,301.03 192.69,301.04 193.46,301.05 194.23,301.06 194.99,301.06 195.76,301.07 196.53,301.07 197.29,301.08 198.06,301.08 198.83,301.08 199.6,301.09 200.36,301.09 201.13,301.09 201.9,301.09 202.66,301.09 203.43,301.09" fill="none" stroke="#000" stroke-width="1.05" stroke-dasharray="1.9 2.1"/>
<polyline points="157.42,298.55 158.19,298.32 158.95,298.1 159.72,297.89 160.49,297.7 161.25,297.54 162.02,297.41 162.79,297.33 163.56,297.28 164.32,297.28 165.09,297.33 165.86,297.41 166.62,297.54 167.39,297.7 168.16,297.89 168.92,298.1 169.69,298.32 170.46,298.55 171.22,298.78 171.99,299 172.76,299.21 173.52,299.41 174.29,299.6 175.06,299.78 175.82,299.93 176.59,300.08 177.36,300.21 178.12,300.32 178.89,300.42 179.66,300.51 180.42,300.59 181.19,300.66 181.96,300.72 182.73,300.77 183.49,300.82 184.26,300.86 185.03,300.89 185.79,300.92 186.56,300.94 187.33,300.97 188.09,300.99 188.86,301 189.63,301.02 190.39,301.03 191.16,301.04 191.93,301.05 192.69,301.05 193.46,301.06 194.23,301.07 194.99,301.07 195.76,301.08 196.53,301.08 197.29,301.08 198.06,301.08 198.83,301.09 199.6,301.09 200.36,301.09 201.13,301.09 201.9,301.09 202.66,301.09 203.43,301.09" fill="none" stroke="#000" stroke-width="0.95"/>
<path d="M154.2 276.75H206.65V301.1H154.2ZM154.2 283.25H206.65" fill="none" stroke="#1a1a1a" stroke-width="0.6"/>
<text x="157.42" y="313.75" font-size="6.6" text-anchor="middle">−6</text>
<text x="165.09" y="313.75" font-size="6.6" text-anchor="middle">−4</text>
<text x="172.76" y="313.75" font-size="6.6" text-anchor="middle">−2</text>
<text x="180.42" y="313.75" font-size="6.6" text-anchor="middle">0</text>
<text x="188.09" y="313.75" font-size="6.6" text-anchor="middle">2</text>
<text x="195.76" y="313.75" font-size="6.6" text-anchor="middle">4</text>
<text x="203.43" y="313.75" font-size="6.6" text-anchor="middle">6</text>
<path d="M157.42 301.1v3.9M165.09 301.1v3.9M172.76 301.1v3.9M180.42 301.1v3.9M188.09 301.1v3.9M195.76 301.1v3.9M203.43 301.1v3.9" fill="none" stroke="#000" stroke-width="0.75"/>
<rect x="206.65" y="283.25" width="52.45" height="17.85" fill="#fff"/>
<path d="M209.87 283.25V301.1M217.54 283.25V301.1M225.21 283.25V301.1M232.88 283.25V301.1M240.54 283.25V301.1M248.21 283.25V301.1M255.88 283.25V301.1M206.65 298.55H259.1M206.65 296H259.1M206.65 293.45H259.1M206.65 290.9H259.1M206.65 288.35H259.1M206.65 285.8H259.1" stroke="#e6e6e6" stroke-width="0.6" fill="none"/>
<rect x="206.65" y="276.75" width="52.45" height="6.5" fill="#d9d9d9"/>
<rect x="206.65" y="276.75" width="52.45" height="1.7" fill="#ececec"/>
<text x="232.88" y="281.89" font-size="5.25" text-anchor="middle" fill="#000" stroke="#000" stroke-width="0.12">U5.19</text>
<polyline points="209.87,300.67 210.64,300.55 211.4,300.4 212.17,300.22 212.94,299.99 213.7,299.71 214.47,299.36 215.24,298.94 216.01,298.44 216.77,297.85 217.54,297.16 218.31,296.39 219.07,295.55 219.84,294.67 220.61,293.8 221.37,293 222.14,292.34 222.91,291.88 223.67,291.67 224.44,291.74 225.21,292.08 225.97,292.65 226.74,293.39 227.51,294.23 228.27,295.11 229.04,295.97 229.81,296.78 230.57,297.51 231.34,298.16 232.11,298.7 232.88,299.16 233.64,299.55 234.41,299.86 235.18,300.11 235.94,300.32 236.71,300.48 237.48,300.61 238.24,300.71 239.01,300.8 239.78,300.86 240.54,300.91 241.31,300.95 242.08,300.98 242.84,301.01 243.61,301.03 244.38,301.04 245.14,301.06 245.91,301.07 246.68,301.07 247.44,301.08 248.21,301.08 248.98,301.09 249.74,301.09 250.51,301.09 251.28,301.09 252.05,301.1 252.81,301.1 253.58,301.1 254.35,301.1 255.11,301.1 255.88,301.1" fill="none" stroke="#000" stroke-width="1.05" stroke-dasharray="1.9 2.1"/>
<polyline points="209.87,300.58 210.64,300.44 211.4,300.26 212.17,300.03 212.94,299.75 213.7,299.4 214.47,298.97 215.24,298.45 216.01,297.83 216.77,297.11 217.54,296.3 218.31,295.4 219.07,294.45 219.84,293.5 220.61,292.63 221.37,291.9 222.14,291.39 222.91,291.16 223.67,291.24 224.44,291.62 225.21,292.24 225.97,293.05 226.74,293.97 227.51,294.93 228.27,295.85 229.04,296.72 229.81,297.49 230.57,298.16 231.34,298.72 232.11,299.19 232.88,299.58 233.64,299.9 234.41,300.15 235.18,300.35 235.94,300.51 236.71,300.64 237.48,300.74 238.24,300.82 239.01,300.88 239.78,300.93 240.54,300.97 241.31,301 242.08,301.02 242.84,301.04 243.61,301.05 244.38,301.06 245.14,301.07 245.91,301.08 246.68,301.08 247.44,301.09 248.21,301.09 248.98,301.09 249.74,301.09 250.51,301.09 251.28,301.1 252.05,301.1 252.81,301.1 253.58,301.1 254.35,301.1 255.11,301.1 255.88,301.1" fill="none" stroke="#000" stroke-width="0.95"/>
<path d="M206.65 276.75H259.1V301.1H206.65ZM206.65 283.25H259.1" fill="none" stroke="#1a1a1a" stroke-width="0.6"/>
<path d="M209.87 301.1v3.9M217.54 301.1v3.9M225.21 301.1v3.9M232.88 301.1v3.9M240.54 301.1v3.9M248.21 301.1v3.9M255.88 301.1v3.9M259.1 301.1h3.9M259.1 298.55h3.9M259.1 296h3.9M259.1 293.45h3.9M259.1 290.9h3.9M259.1 288.35h3.9M259.1 285.8h3.9" fill="none" stroke="#000" stroke-width="0.75"/></g>
<text x="319.4" y="178" font-size="9" fill="#000" text-anchor="middle"><tspan font-weight="bold">(d)</tspan> 2014</text>
<g><rect x="318.7" y="210.1" width="69.93" height="17.85" fill="#fff"/>
<path d="M322.99 210.1V227.95M333.22 210.1V227.95M343.44 210.1V227.95M353.67 210.1V227.95M363.89 210.1V227.95M374.12 210.1V227.95M384.34 210.1V227.95M318.7 225.4H388.63M318.7 222.85H388.63M318.7 220.3H388.63M318.7 217.75H388.63M318.7 215.2H388.63M318.7 212.65H388.63" stroke="#e6e6e6" stroke-width="0.6" fill="none"/>
<rect x="318.7" y="203.6" width="69.93" height="6.5" fill="#d9d9d9"/>
<rect x="318.7" y="203.6" width="69.93" height="1.7" fill="#ececec"/>
<text x="353.67" y="208.74" font-size="5.25" text-anchor="middle" fill="#000" stroke="#000" stroke-width="0.12">U5.32</text>
<polyline points="322.99,227.88 324.02,227.87 325.04,227.86 326.06,227.85 327.08,227.84 328.11,227.83 329.13,227.81 330.15,227.8 331.17,227.78 332.2,227.76 333.22,227.74 334.24,227.71 335.26,227.68 336.29,227.66 337.31,227.62 338.33,227.59 339.35,227.55 340.38,227.5 341.4,227.45 342.42,227.4 343.44,227.34 344.46,227.28 345.49,227.21 346.51,227.14 347.53,227.06 348.55,226.97 349.58,226.88 350.6,226.79 351.62,226.68 352.64,226.58 353.67,226.46 354.69,226.35 355.71,226.23 356.73,226.11 357.76,225.99 358.78,225.87 359.8,225.75 360.82,225.64 361.85,225.54 362.87,225.44 363.89,225.35 364.91,225.28 365.94,225.22 366.96,225.18 367.98,225.15 369,225.14 370.03,225.15 371.05,225.18 372.07,225.22 373.09,225.28 374.12,225.35 375.14,225.44 376.16,225.54 377.18,225.64 378.2,225.75 379.23,225.87 380.25,225.99 381.27,226.11 382.29,226.23 383.32,226.35 384.34,226.46" fill="none" stroke="#000" stroke-width="1.05" stroke-dasharray="1.9 2.1"/>
<polyline points="322.99,227.88 324.02,227.87 325.04,227.86 326.06,227.85 327.08,227.84 328.11,227.83 329.13,227.81 330.15,227.8 331.17,227.78 332.2,227.76 333.22,227.74 334.24,227.71 335.26,227.69 336.29,227.66 337.31,227.62 338.33,227.59 339.35,227.55 340.38,227.51 341.4,227.46 342.42,227.4 343.44,227.35 344.46,227.28 345.49,227.22 346.51,227.14 347.53,227.06 348.55,226.98 349.58,226.88 350.6,226.78 351.62,226.68 352.64,226.57 353.67,226.46 354.69,226.34 355.71,226.21 356.73,226.09 357.76,225.96 358.78,225.84 359.8,225.71 360.82,225.59 361.85,225.48 362.87,225.37 363.89,225.28 364.91,225.2 365.94,225.13 366.96,225.07 367.98,225.04 369,225.02 370.03,225.02 371.05,225.04 372.07,225.07 373.09,225.13 374.12,225.2 375.14,225.28 376.16,225.37 377.18,225.48 378.2,225.59 379.23,225.71 380.25,225.84 381.27,225.96 382.29,226.09 383.32,226.21 384.34,226.34" fill="none" stroke="#000" stroke-width="0.95"/>
<path d="M318.7 203.6H388.63V227.95H318.7ZM318.7 210.1H388.63" fill="none" stroke="#1a1a1a" stroke-width="0.6"/>
<path d="M322.99 203.6v-3.9M333.22 203.6v-3.9M343.44 203.6v-3.9M353.67 203.6v-3.9M363.89 203.6v-3.9M374.12 203.6v-3.9M384.34 203.6v-3.9M318.7 227.95h-3.9M318.7 225.4h-3.9M318.7 222.85h-3.9M318.7 220.3h-3.9M318.7 217.75h-3.9M318.7 215.2h-3.9M318.7 212.65h-3.9" fill="none" stroke="#000" stroke-width="0.75"/>
<rect x="388.63" y="210.1" width="69.93" height="17.85" fill="#fff"/>
<path d="M392.93 210.1V227.95M403.15 210.1V227.95M413.38 210.1V227.95M423.6 210.1V227.95M433.82 210.1V227.95M444.05 210.1V227.95M454.27 210.1V227.95M388.63 225.4H458.57M388.63 222.85H458.57M388.63 220.3H458.57M388.63 217.75H458.57M388.63 215.2H458.57M388.63 212.65H458.57" stroke="#e6e6e6" stroke-width="0.6" fill="none"/>
<rect x="388.63" y="203.6" width="69.93" height="6.5" fill="#d9d9d9"/>
<rect x="388.63" y="203.6" width="69.93" height="1.7" fill="#ececec"/>
<text x="423.6" y="208.74" font-size="5.25" text-anchor="middle" fill="#000" stroke="#000" stroke-width="0.12">U5.33</text>
<polyline points="392.93,227.94 393.95,227.94 394.97,227.93 395.99,227.93 397.02,227.92 398.04,227.92 399.06,227.91 400.08,227.9 401.11,227.89 402.13,227.87 403.15,227.85 404.17,227.83 405.2,227.8 406.22,227.76 407.24,227.72 408.26,227.66 409.29,227.59 410.31,227.5 411.33,227.4 412.35,227.26 413.38,227.1 414.4,226.91 415.42,226.67 416.44,226.38 417.47,226.04 418.49,225.64 419.51,225.17 420.53,224.64 421.56,224.05 422.58,223.41 423.6,222.74 424.62,222.07 425.64,221.43 426.67,220.87 427.69,220.42 428.71,220.14 429.73,220.04 430.76,220.14 431.78,220.42 432.8,220.87 433.82,221.43 434.85,222.07 435.87,222.74 436.89,223.41 437.91,224.05 438.94,224.64 439.96,225.17 440.98,225.64 442,226.04 443.03,226.38 444.05,226.67 445.07,226.91 446.09,227.1 447.12,227.26 448.14,227.4 449.16,227.5 450.18,227.59 451.21,227.66 452.23,227.72 453.25,227.76 454.27,227.8" fill="none" stroke="#000" stroke-width="1.05" stroke-dasharray="1.9 2.1"/>
<polyline points="392.93,227.94 393.95,227.94 394.97,227.94 395.99,227.94 397.02,227.94 398.04,227.93 399.06,227.93 400.08,227.92 401.11,227.91 402.13,227.9 403.15,227.89 404.17,227.87 405.2,227.85 406.22,227.82 407.24,227.78 408.26,227.74 409.29,227.68 410.31,227.61 411.33,227.52 412.35,227.4 413.38,227.25 414.4,227.07 415.42,226.84 416.44,226.56 417.47,226.21 418.49,225.79 419.51,225.29 420.53,224.7 421.56,224.01 422.58,223.24 423.6,222.4 424.62,221.52 425.64,220.65 426.67,219.85 427.69,219.19 428.71,218.73 429.73,218.52 430.76,218.59 431.78,218.93 432.8,219.5 433.82,220.24 434.85,221.08 435.87,221.96 436.89,222.82 437.91,223.63 438.94,224.36 439.96,225.01 440.98,225.55 442,226.01 443.03,226.4 444.05,226.71 445.07,226.96 446.09,227.17 447.12,227.33 448.14,227.46 449.16,227.56 450.18,227.65 451.21,227.71 452.23,227.76 453.25,227.8 454.27,227.83" fill="none" stroke="#000" stroke-width="0.95"/>
<path d="M388.63 203.6H458.57V227.95H388.63ZM388.63 210.1H458.57" fill="none" stroke="#1a1a1a" stroke-width="0.6"/>
<text x="392.93" y="197" font-size="6.6" text-anchor="middle">−6</text>
<text x="403.15" y="197" font-size="6.6" text-anchor="middle">−4</text>
<text x="413.38" y="197" font-size="6.6" text-anchor="middle">−2</text>
<text x="423.6" y="197" font-size="6.6" text-anchor="middle">0</text>
<text x="433.82" y="197" font-size="6.6" text-anchor="middle">2</text>
<text x="444.05" y="197" font-size="6.6" text-anchor="middle">4</text>
<text x="454.27" y="197" font-size="6.6" text-anchor="middle">6</text>
<path d="M392.93 203.6v-3.9M403.15 203.6v-3.9M413.38 203.6v-3.9M423.6 203.6v-3.9M433.82 203.6v-3.9M444.05 203.6v-3.9M454.27 203.6v-3.9" fill="none" stroke="#000" stroke-width="0.75"/>
<rect x="458.57" y="210.1" width="69.93" height="17.85" fill="#fff"/>
<path d="M462.86 210.1V227.95M473.08 210.1V227.95M483.31 210.1V227.95M493.53 210.1V227.95M503.76 210.1V227.95M513.98 210.1V227.95M524.21 210.1V227.95M458.57 225.4H528.5M458.57 222.85H528.5M458.57 220.3H528.5M458.57 217.75H528.5M458.57 215.2H528.5M458.57 212.65H528.5" stroke="#e6e6e6" stroke-width="0.6" fill="none"/>
<rect x="458.57" y="203.6" width="69.93" height="6.5" fill="#d9d9d9"/>
<rect x="458.57" y="203.6" width="69.93" height="1.7" fill="#ececec"/>
<text x="493.53" y="208.74" font-size="5.25" text-anchor="middle" fill="#000" stroke="#000" stroke-width="0.12">U5.34</text>
<polyline points="462.86,227.85 463.88,227.85 464.91,227.84 465.93,227.83 466.95,227.82 467.97,227.81 469,227.79 470.02,227.78 471.04,227.77 472.06,227.75 473.08,227.74 474.11,227.72 475.13,227.7 476.15,227.68 477.17,227.66 478.2,227.64 479.22,227.62 480.24,227.59 481.26,227.57 482.29,227.54 483.31,227.51 484.33,227.48 485.35,227.45 486.38,227.42 487.4,227.38 488.42,227.35 489.44,227.31 490.47,227.28 491.49,227.24 492.51,227.2 493.53,227.17 494.56,227.13 495.58,227.09 496.6,227.06 497.62,227.02 498.65,226.99 499.67,226.95 500.69,226.93 501.71,226.9 502.74,226.87 503.76,226.85 504.78,226.83 505.8,226.82 506.82,226.81 507.85,226.8 508.87,226.8 509.89,226.8 510.91,226.81 511.94,226.82 512.96,226.83 513.98,226.85 515,226.87 516.03,226.9 517.05,226.93 518.07,226.95 519.09,226.99 520.12,227.02 521.14,227.06 522.16,227.09 523.18,227.13 524.21,227.17" fill="none" stroke="#000" stroke-width="1.05" stroke-dasharray="1.9 2.1"/>
<polyline points="462.86,227.84 463.88,227.84 464.91,227.83 465.93,227.82 466.95,227.81 467.97,227.8 469,227.78 470.02,227.77 471.04,227.76 472.06,227.74 473.08,227.73 474.11,227.71 475.13,227.7 476.15,227.68 477.17,227.66 478.2,227.64 479.22,227.62 480.24,227.6 481.26,227.57 482.29,227.55 483.31,227.52 484.33,227.5 485.35,227.47 486.38,227.44 487.4,227.41 488.42,227.38 489.44,227.35 490.47,227.32 491.49,227.29 492.51,227.26 493.53,227.22 494.56,227.19 495.58,227.16 496.6,227.13 497.62,227.1 498.65,227.08 499.67,227.05 500.69,227.03 501.71,227.01 502.74,226.99 503.76,226.97 504.78,226.96 505.8,226.94 506.82,226.94 507.85,226.93 508.87,226.93 509.89,226.93 510.91,226.94 511.94,226.94 512.96,226.96 513.98,226.97 515,226.99 516.03,227.01 517.05,227.03 518.07,227.05 519.09,227.08 520.12,227.1 521.14,227.13 522.16,227.16 523.18,227.19 524.21,227.22" fill="none" stroke="#000" stroke-width="0.95"/>
<path d="M458.57 203.6H528.5V227.95H458.57ZM458.57 210.1H528.5" fill="none" stroke="#1a1a1a" stroke-width="0.6"/>
<text x="536.2" y="227.78" font-size="6.6" text-anchor="start">0.1</text>
<text x="536.2" y="222.68" font-size="6.6" text-anchor="start">0.3</text>
<text x="536.2" y="217.58" font-size="6.6" text-anchor="start">0.5</text>
<path d="M462.86 203.6v-3.9M473.08 203.6v-3.9M483.31 203.6v-3.9M493.53 203.6v-3.9M503.76 203.6v-3.9M513.98 203.6v-3.9M524.21 203.6v-3.9M528.5 227.95h3.9M528.5 225.4h3.9M528.5 222.85h3.9M528.5 220.3h3.9M528.5 217.75h3.9M528.5 215.2h3.9M528.5 212.65h3.9" fill="none" stroke="#000" stroke-width="0.75"/>
<rect x="318.7" y="234.45" width="69.93" height="17.85" fill="#fff"/>
<path d="M322.99 234.45V252.3M333.22 234.45V252.3M343.44 234.45V252.3M353.67 234.45V252.3M363.89 234.45V252.3M374.12 234.45V252.3M384.34 234.45V252.3M318.7 249.75H388.63M318.7 247.2H388.63M318.7 244.65H388.63M318.7 242.1H388.63M318.7 239.55H388.63M318.7 237H388.63" stroke="#e6e6e6" stroke-width="0.6" fill="none"/>
<rect x="318.7" y="227.95" width="69.93" height="6.5" fill="#d9d9d9"/>
<rect x="318.7" y="227.95" width="69.93" height="1.7" fill="#ececec"/>
<text x="353.67" y="233.09" font-size="5.25" text-anchor="middle" fill="#000" stroke="#000" stroke-width="0.12">U5.29</text>
<polyline points="322.99,252.22 324.02,252.2 325.04,252.18 326.06,252.16 327.08,252.13 328.11,252.1 329.13,252.06 330.15,252.01 331.17,251.95 332.2,251.88 333.22,251.8 334.24,251.7 335.26,251.58 336.29,251.45 337.31,251.29 338.33,251.1 339.35,250.89 340.38,250.64 341.4,250.37 342.42,250.06 343.44,249.72 344.46,249.35 345.49,248.96 346.51,248.55 347.53,248.15 348.55,247.76 349.58,247.41 350.6,247.11 351.62,246.88 352.64,246.74 353.67,246.69 354.69,246.74 355.71,246.88 356.73,247.11 357.76,247.41 358.78,247.76 359.8,248.15 360.82,248.55 361.85,248.96 362.87,249.35 363.89,249.72 364.91,250.06 365.94,250.37 366.96,250.64 367.98,250.89 369,251.1 370.03,251.29 371.05,251.45 372.07,251.58 373.09,251.7 374.12,251.8 375.14,251.88 376.16,251.95 377.18,252.01 378.2,252.06 379.23,252.1 380.25,252.13 381.27,252.16 382.29,252.18 383.32,252.2 384.34,252.22" fill="none" stroke="#000" stroke-width="1.05" stroke-dasharray="1.9 2.1"/>
<polyline points="322.99,252.24 324.02,252.23 325.04,252.21 326.06,252.19 327.08,252.17 328.11,252.14 329.13,252.11 330.15,252.07 331.17,252.02 332.2,251.97 333.22,251.9 334.24,251.82 335.26,251.72 336.29,251.6 337.31,251.47 338.33,251.3 339.35,251.12 340.38,250.9 341.4,250.65 342.42,250.36 343.44,250.04 344.46,249.68 345.49,249.29 346.51,248.88 347.53,248.45 348.55,248.02 349.58,247.6 350.6,247.22 351.62,246.9 352.64,246.65 353.67,246.49 354.69,246.43 355.71,246.49 356.73,246.65 357.76,246.9 358.78,247.22 359.8,247.6 360.82,248.02 361.85,248.45 362.87,248.88 363.89,249.29 364.91,249.68 365.94,250.04 366.96,250.36 367.98,250.65 369,250.9 370.03,251.12 371.05,251.3 372.07,251.47 373.09,251.6 374.12,251.72 375.14,251.82 376.16,251.9 377.18,251.97 378.2,252.02 379.23,252.07 380.25,252.11 381.27,252.14 382.29,252.17 383.32,252.19 384.34,252.21" fill="none" stroke="#000" stroke-width="0.95"/>
<path d="M318.7 227.95H388.63V252.3H318.7ZM318.7 234.45H388.63" fill="none" stroke="#1a1a1a" stroke-width="0.6"/>
<text x="311.2" y="252.13" font-size="6.6" text-anchor="end">0.1</text>
<text x="311.2" y="247.03" font-size="6.6" text-anchor="end">0.3</text>
<text x="311.2" y="241.93" font-size="6.6" text-anchor="end">0.5</text>
<path d="M318.7 252.3h-3.9M318.7 249.75h-3.9M318.7 247.2h-3.9M318.7 244.65h-3.9M318.7 242.1h-3.9M318.7 239.55h-3.9M318.7 237h-3.9" fill="none" stroke="#000" stroke-width="0.75"/>
<rect x="388.63" y="234.45" width="69.93" height="17.85" fill="#fff"/>
<path d="M392.93 234.45V252.3M403.15 234.45V252.3M413.38 234.45V252.3M423.6 234.45V252.3M433.82 234.45V252.3M444.05 234.45V252.3M454.27 234.45V252.3M388.63 249.75H458.57M388.63 247.2H458.57M388.63 244.65H458.57M388.63 242.1H458.57M388.63 239.55H458.57M388.63 237H458.57" stroke="#e6e6e6" stroke-width="0.6" fill="none"/>
<rect x="388.63" y="227.95" width="69.93" height="6.5" fill="#d9d9d9"/>
<rect x="388.63" y="227.95" width="69.93" height="1.7" fill="#ececec"/>
<text x="423.6" y="233.09" font-size="5.25" text-anchor="middle" fill="#000" stroke="#000" stroke-width="0.12">U5.30</text>
<polyline points="392.93,252.07 393.95,252.04 394.97,252.02 395.99,251.99 397.02,251.97 398.04,251.94 399.06,251.9 400.08,251.87 401.11,251.83 402.13,251.79 403.15,251.75 404.17,251.71 405.2,251.66 406.22,251.61 407.24,251.56 408.26,251.51 409.29,251.45 410.31,251.4 411.33,251.34 412.35,251.28 413.38,251.23 414.4,251.17 415.42,251.11 416.44,251.06 417.47,251.01 418.49,250.96 419.51,250.92 420.53,250.88 421.56,250.84 422.58,250.81 423.6,250.79 424.62,250.78 425.64,250.77 426.67,250.77 427.69,250.78 428.71,250.79 429.73,250.81 430.76,250.84 431.78,250.88 432.8,250.92 433.82,250.96 434.85,251.01 435.87,251.06 436.89,251.11 437.91,251.17 438.94,251.23 439.96,251.28 440.98,251.34 442,251.4 443.03,251.45 444.05,251.51 445.07,251.56 446.09,251.61 447.12,251.66 448.14,251.71 449.16,251.75 450.18,251.79 451.21,251.83 452.23,251.87 453.25,251.9 454.27,251.94" fill="none" stroke="#000" stroke-width="1.05" stroke-dasharray="1.9 2.1"/>
<polyline points="392.93,252.05 393.95,252.03 394.97,252.01 395.99,251.98 397.02,251.96 398.04,251.93 399.06,251.9 400.08,251.87 401.11,251.84 402.13,251.81 403.15,251.77 404.17,251.73 405.2,251.69 406.22,251.65 407.24,251.61 408.26,251.57 409.29,251.53 410.31,251.48 411.33,251.44 412.35,251.4 413.38,251.35 414.4,251.31 415.42,251.27 416.44,251.23 417.47,251.19 418.49,251.16 419.51,251.13 420.53,251.1 421.56,251.08 422.58,251.06 423.6,251.04 424.62,251.03 425.64,251.03 426.67,251.03 427.69,251.03 428.71,251.04 429.73,251.06 430.76,251.08 431.78,251.1 432.8,251.13 433.82,251.16 434.85,251.19 435.87,251.23 436.89,251.27 437.91,251.31 438.94,251.35 439.96,251.4 440.98,251.44 442,251.48 443.03,251.53 444.05,251.57 445.07,251.61 446.09,251.65 447.12,251.69 448.14,251.73 449.16,251.77 450.18,251.81 451.21,251.84 452.23,251.87 453.25,251.9 454.27,251.93" fill="none" stroke="#000" stroke-width="0.95"/>
<path d="M388.63 227.95H458.57V252.3H388.63ZM388.63 234.45H458.57" fill="none" stroke="#1a1a1a" stroke-width="0.6"/>
<path d="" fill="none" stroke="#000" stroke-width="0.75"/>
<rect x="458.57" y="234.45" width="69.93" height="17.85" fill="#fff"/>
<path d="M462.86 234.45V252.3M473.08 234.45V252.3M483.31 234.45V252.3M493.53 234.45V252.3M503.76 234.45V252.3M513.98 234.45V252.3M524.21 234.45V252.3M458.57 249.75H528.5M458.57 247.2H528.5M458.57 244.65H528.5M458.57 242.1H528.5M458.57 239.55H528.5M458.57 237H528.5" stroke="#e6e6e6" stroke-width="0.6" fill="none"/>
<rect x="458.57" y="227.95" width="69.93" height="6.5" fill="#d9d9d9"/>
<rect x="458.57" y="227.95" width="69.93" height="1.7" fill="#ececec"/>
<text x="493.53" y="233.09" font-size="5.25" text-anchor="middle" fill="#000" stroke="#000" stroke-width="0.12">U5.31</text>
<polyline points="462.86,252.29 463.88,252.29 464.91,252.29 465.93,252.29 466.95,252.28 467.97,252.28 469,252.27 470.02,252.26 471.04,252.25 472.06,252.24 473.08,252.22 474.11,252.2 475.13,252.17 476.15,252.13 477.17,252.08 478.2,252.02 479.22,251.95 480.24,251.85 481.26,251.73 482.29,251.58 483.31,251.39 484.33,251.15 485.35,250.85 486.38,250.48 487.4,250.04 488.42,249.52 489.44,248.92 490.47,248.27 491.49,247.62 492.51,247.03 493.53,246.56 494.56,246.22 495.58,246.01 496.6,245.88 497.62,245.82 498.65,245.79 499.67,245.82 500.69,245.88 501.71,246.01 502.74,246.22 503.76,246.56 504.78,247.03 505.8,247.62 506.82,248.27 507.85,248.92 508.87,249.52 509.89,250.04 510.91,250.48 511.94,250.85 512.96,251.15 513.98,251.39 515,251.58 516.03,251.73 517.05,251.85 518.07,251.95 519.09,252.02 520.12,252.08 521.14,252.13 522.16,252.17 523.18,252.2 524.21,252.22" fill="none" stroke="#000" stroke-width="1.05" stroke-dasharray="1.9 2.1"/>
<polyline points="462.86,252.29 463.88,252.29 464.91,252.29 465.93,252.29 466.95,252.28 467.97,252.28 469,252.27 470.02,252.26 471.04,252.25 472.06,252.24 473.08,252.22 474.11,252.2 475.13,252.17 476.15,252.13 477.17,252.08 478.2,252.02 479.22,251.95 480.24,251.85 481.26,251.73 482.29,251.58 483.31,251.39 484.33,251.15 485.35,250.85 486.38,250.48 487.4,250.04 488.42,249.5 489.44,248.87 490.47,248.15 491.49,247.33 492.51,246.44 493.53,245.53 494.56,244.63 495.58,243.82 496.6,243.18 497.62,242.76 498.65,242.61 499.67,242.76 500.69,243.18 501.71,243.82 502.74,244.63 503.76,245.53 504.78,246.44 505.8,247.33 506.82,248.15 507.85,248.87 508.87,249.5 509.89,250.04 510.91,250.48 511.94,250.85 512.96,251.15 513.98,251.39 515,251.58 516.03,251.73 517.05,251.85 518.07,251.95 519.09,252.02 520.12,252.08 521.14,252.13 522.16,252.17 523.18,252.2 524.21,252.22" fill="none" stroke="#000" stroke-width="0.95"/>
<path d="M458.57 227.95H528.5V252.3H458.57ZM458.57 234.45H528.5" fill="none" stroke="#1a1a1a" stroke-width="0.6"/>
<path d="M528.5 252.3h3.9M528.5 249.75h3.9M528.5 247.2h3.9M528.5 244.65h3.9M528.5 242.1h3.9M528.5 239.55h3.9M528.5 237h3.9" fill="none" stroke="#000" stroke-width="0.75"/>
<rect x="318.7" y="258.8" width="69.93" height="17.85" fill="#fff"/>
<path d="M322.99 258.8V276.65M333.22 258.8V276.65M343.44 258.8V276.65M353.67 258.8V276.65M363.89 258.8V276.65M374.12 258.8V276.65M384.34 258.8V276.65M318.7 274.1H388.63M318.7 271.55H388.63M318.7 269H388.63M318.7 266.45H388.63M318.7 263.9H388.63M318.7 261.35H388.63" stroke="#e6e6e6" stroke-width="0.6" fill="none"/>
<rect x="318.7" y="252.3" width="69.93" height="6.5" fill="#d9d9d9"/>
<rect x="318.7" y="252.3" width="69.93" height="1.7" fill="#ececec"/>
<text x="353.67" y="257.44" font-size="5.25" text-anchor="middle" fill="#000" stroke="#000" stroke-width="0.12">U5.21</text>
<polyline points="322.99,276.36 324.02,276.29 325.04,276.19 326.06,276.07 327.08,275.91 328.11,275.72 329.13,275.48 330.15,275.18 331.17,274.82 332.2,274.38 333.22,273.85 334.24,273.23 335.26,272.52 336.29,271.73 337.31,270.88 338.33,270 339.35,269.14 340.38,268.37 341.4,267.75 342.42,267.35 343.44,267.22 344.46,267.35 345.49,267.75 346.51,268.37 347.53,269.14 348.55,270 349.58,270.88 350.6,271.73 351.62,272.52 352.64,273.23 353.67,273.85 354.69,274.38 355.71,274.82 356.73,275.18 357.76,275.48 358.78,275.72 359.8,275.91 360.82,276.07 361.85,276.19 362.87,276.29 363.89,276.36 364.91,276.42 365.94,276.47 366.96,276.51 367.98,276.54 369,276.56 370.03,276.58 371.05,276.6 372.07,276.61 373.09,276.62 374.12,276.62 375.14,276.63 376.16,276.63 377.18,276.64 378.2,276.64 379.23,276.64 380.25,276.64 381.27,276.65 382.29,276.65 383.32,276.65 384.34,276.65" fill="none" stroke="#000" stroke-width="1.05" stroke-dasharray="1.9 2.1"/>
<polyline points="322.99,276.42 324.02,276.35 325.04,276.27 326.06,276.16 327.08,276.03 328.11,275.86 329.13,275.64 330.15,275.37 331.17,275.04 332.2,274.63 333.22,274.14 334.24,273.55 335.26,272.85 336.29,272.06 337.31,271.18 338.33,270.24 339.35,269.29 340.38,268.39 341.4,267.61 342.42,267.05 343.44,266.74 344.46,266.74 345.49,267.05 346.51,267.61 347.53,268.39 348.55,269.29 349.58,270.24 350.6,271.18 351.62,272.06 352.64,272.85 353.67,273.55 354.69,274.14 355.71,274.63 356.73,275.04 357.76,275.37 358.78,275.64 359.8,275.86 360.82,276.03 361.85,276.16 362.87,276.27 363.89,276.35 364.91,276.42 365.94,276.47 366.96,276.51 367.98,276.54 369,276.56 370.03,276.58 371.05,276.6 372.07,276.61 373.09,276.62 374.12,276.62 375.14,276.63 376.16,276.63 377.18,276.64 378.2,276.64 379.23,276.64 380.25,276.64 381.27,276.65 382.29,276.65 383.32,276.65 384.34,276.65" fill="none" stroke="#000" stroke-width="0.95"/>
<path d="M318.7 252.3H388.63V276.65H318.7ZM318.7 258.8H388.63" fill="none" stroke="#1a1a1a" stroke-width="0.6"/>
<path d="M318.7 276.65h-3.9M318.7 274.1h-3.9M318.7 271.55h-3.9M318.7 269h-3.9M318.7 266.45h-3.9M318.7 263.9h-3.9M318.7 261.35h-3.9" fill="none" stroke="#000" stroke-width="0.75"/>
<rect x="388.63" y="258.8" width="69.93" height="17.85" fill="#fff"/>
<path d="M392.93 258.8V276.65M403.15 258.8V276.65M413.38 258.8V276.65M423.6 258.8V276.65M433.82 258.8V276.65M444.05 258.8V276.65M454.27 258.8V276.65M388.63 274.1H458.57M388.63 271.55H458.57M388.63 269H458.57M388.63 266.45H458.57M388.63 263.9H458.57M388.63 261.35H458.57" stroke="#e6e6e6" stroke-width="0.6" fill="none"/>
<rect x="388.63" y="252.3" width="69.93" height="6.5" fill="#d9d9d9"/>
<rect x="388.63" y="252.3" width="69.93" height="1.7" fill="#ececec"/>
<text x="423.6" y="257.44" font-size="5.25" text-anchor="middle" fill="#000" stroke="#000" stroke-width="0.12">U5.23</text>
<polyline points="392.93,275.42 393.95,275.22 394.97,275 395.99,274.75 397.02,274.49 398.04,274.19 399.06,273.89 400.08,273.57 401.11,273.24 402.13,272.92 403.15,272.62 404.17,272.35 405.2,272.12 406.22,271.95 407.24,271.84 408.26,271.81 409.29,271.84 410.31,271.95 411.33,272.12 412.35,272.35 413.38,272.62 414.4,272.92 415.42,273.24 416.44,273.57 417.47,273.89 418.49,274.19 419.51,274.49 420.53,274.75 421.56,275 422.58,275.22 423.6,275.42 424.62,275.59 425.64,275.75 426.67,275.88 427.69,275.99 428.71,276.09 429.73,276.18 430.76,276.25 431.78,276.31 432.8,276.36 433.82,276.41 434.85,276.45 435.87,276.48 436.89,276.51 437.91,276.53 438.94,276.55 439.96,276.56 440.98,276.58 442,276.59 443.03,276.6 444.05,276.61 445.07,276.61 446.09,276.62 447.12,276.62 448.14,276.63 449.16,276.63 450.18,276.63 451.21,276.64 452.23,276.64 453.25,276.64 454.27,276.64" fill="none" stroke="#000" stroke-width="1.05" stroke-dasharray="1.9 2.1"/>
<polyline points="392.93,275.48 393.95,275.28 394.97,275.06 395.99,274.81 397.02,274.53 398.04,274.23 399.06,273.9 400.08,273.56 401.11,273.21 402.13,272.86 403.15,272.53 404.17,272.22 405.2,271.96 406.22,271.75 407.24,271.61 408.26,271.55 409.29,271.57 410.31,271.67 411.33,271.85 412.35,272.08 413.38,272.37 414.4,272.69 415.42,273.04 416.44,273.39 417.47,273.73 418.49,274.07 419.51,274.38 420.53,274.67 421.56,274.93 422.58,275.17 423.6,275.38 424.62,275.56 425.64,275.73 426.67,275.86 427.69,275.98 428.71,276.09 429.73,276.18 430.76,276.25 431.78,276.31 432.8,276.37 433.82,276.41 434.85,276.45 435.87,276.48 436.89,276.51 437.91,276.53 438.94,276.55 439.96,276.57 440.98,276.58 442,276.59 443.03,276.6 444.05,276.61 445.07,276.62 446.09,276.62 447.12,276.63 448.14,276.63 449.16,276.63 450.18,276.64 451.21,276.64 452.23,276.64 453.25,276.64 454.27,276.64" fill="none" stroke="#000" stroke-width="0.95"/>
<path d="M388.63 252.3H458.57V276.65H388.63ZM388.63 258.8H458.57" fill="none" stroke="#1a1a1a" stroke-width="0.6"/>
<path d="" fill="none" stroke="#000" stroke-width="0.75"/>
<rect x="458.57" y="258.8" width="69.93" height="17.85" fill="#fff"/>
<path d="M462.86 258.8V276.65M473.08 258.8V276.65M483.31 258.8V276.65M493.53 258.8V276.65M503.76 258.8V276.65M513.98 258.8V276.65M524.21 258.8V276.65M458.57 274.1H528.5M458.57 271.55H528.5M458.57 269H528.5M458.57 266.45H528.5M458.57 263.9H528.5M458.57 261.35H528.5" stroke="#e6e6e6" stroke-width="0.6" fill="none"/>
<rect x="458.57" y="252.3" width="69.93" height="6.5" fill="#d9d9d9"/>
<rect x="458.57" y="252.3" width="69.93" height="1.7" fill="#ececec"/>
<text x="493.53" y="257.44" font-size="5.25" text-anchor="middle" fill="#000" stroke="#000" stroke-width="0.12">U5.25</text>
<polyline points="462.86,276.59 463.88,276.56 464.91,276.53 465.93,276.5 466.95,276.45 467.97,276.38 469,276.29 470.02,276.17 471.04,276.01 472.06,275.8 473.08,275.53 474.11,275.17 475.13,274.72 476.15,274.14 477.17,273.42 478.2,272.53 479.22,271.47 480.24,270.24 481.26,268.88 482.29,267.44 483.31,266 484.33,264.68 485.35,263.56 486.38,262.71 487.4,262.19 488.42,262.02 489.44,262.19 490.47,262.71 491.49,263.56 492.51,264.68 493.53,266 494.56,267.44 495.58,268.88 496.6,270.24 497.62,271.47 498.65,272.53 499.67,273.42 500.69,274.14 501.71,274.72 502.74,275.17 503.76,275.53 504.78,275.8 505.8,276.01 506.82,276.17 507.85,276.29 508.87,276.38 509.89,276.45 510.91,276.5 511.94,276.53 512.96,276.56 513.98,276.59 515,276.6 516.03,276.61 517.05,276.62 518.07,276.63 519.09,276.63 520.12,276.64 521.14,276.64 522.16,276.64 523.18,276.65 524.21,276.65" fill="none" stroke="#000" stroke-width="1.05" stroke-dasharray="1.9 2.1"/>
<polyline points="462.86,276.59 463.88,276.57 464.91,276.54 465.93,276.5 466.95,276.45 467.97,276.39 469,276.3 470.02,276.19 471.04,276.03 472.06,275.83 473.08,275.57 474.11,275.23 475.13,274.79 476.15,274.23 477.17,273.52 478.2,272.65 479.22,271.6 480.24,270.38 481.26,269 482.29,267.53 483.31,266.05 484.33,264.64 485.35,263.43 486.38,262.48 487.4,261.86 488.42,261.59 489.44,261.68 490.47,262.13 491.49,262.92 492.51,264.01 493.53,265.33 494.56,266.79 495.58,268.28 496.6,269.71 497.62,271.01 498.65,272.15 499.67,273.11 500.69,273.89 501.71,274.53 502.74,275.02 503.76,275.41 504.78,275.71 505.8,275.94 506.82,276.12 507.85,276.25 508.87,276.35 509.89,276.42 510.91,276.48 511.94,276.52 512.96,276.55 513.98,276.58 515,276.6 516.03,276.61 517.05,276.62 518.07,276.63 519.09,276.63 520.12,276.64 521.14,276.64 522.16,276.64 523.18,276.64 524.21,276.65" fill="none" stroke="#000" stroke-width="0.95"/>
<path d="M458.57 252.3H528.5V276.65H458.57ZM458.57 258.8H528.5" fill="none" stroke="#1a1a1a" stroke-width="0.6"/>
<text x="536.2" y="276.48" font-size="6.6" text-anchor="start">0.1</text>
<text x="536.2" y="271.38" font-size="6.6" text-anchor="start">0.3</text>
<text x="536.2" y="266.28" font-size="6.6" text-anchor="start">0.5</text>
<path d="M528.5 276.65h3.9M528.5 274.1h3.9M528.5 271.55h3.9M528.5 269h3.9M528.5 266.45h3.9M528.5 263.9h3.9M528.5 261.35h3.9" fill="none" stroke="#000" stroke-width="0.75"/>
<rect x="318.7" y="283.15" width="69.93" height="17.85" fill="#fff"/>
<path d="M322.99 283.15V301M333.22 283.15V301M343.44 283.15V301M353.67 283.15V301M363.89 283.15V301M374.12 283.15V301M384.34 283.15V301M318.7 298.45H388.63M318.7 295.9H388.63M318.7 293.35H388.63M318.7 290.8H388.63M318.7 288.25H388.63M318.7 285.7H388.63" stroke="#e6e6e6" stroke-width="0.6" fill="none"/>
<rect x="318.7" y="276.65" width="69.93" height="6.5" fill="#d9d9d9"/>
<rect x="318.7" y="276.65" width="69.93" height="1.7" fill="#ececec"/>
<text x="353.67" y="281.79" font-size="5.25" text-anchor="middle" fill="#000" stroke="#000" stroke-width="0.12">U5.11</text>
<polyline points="322.99,299.22 324.02,298.76 325.04,298.21 326.06,297.56 327.08,296.79 328.11,295.93 329.13,294.98 330.15,294 331.17,293.02 332.2,292.14 333.22,291.43 334.24,290.96 335.26,290.8 336.29,290.96 337.31,291.43 338.33,292.14 339.35,293.02 340.38,294 341.4,294.98 342.42,295.93 343.44,296.79 344.46,297.56 345.49,298.21 346.51,298.76 347.53,299.22 348.55,299.59 349.58,299.88 350.6,300.12 351.62,300.31 352.64,300.46 353.67,300.58 354.69,300.67 355.71,300.74 356.73,300.8 357.76,300.85 358.78,300.88 359.8,300.91 360.82,300.93 361.85,300.94 362.87,300.96 363.89,300.97 364.91,300.97 365.94,300.98 366.96,300.98 367.98,300.99 369,300.99 370.03,300.99 371.05,300.99 372.07,301 373.09,301 374.12,301 375.14,301 376.16,301 377.18,301 378.2,301 379.23,301 380.25,301 381.27,301 382.29,301 383.32,301 384.34,301" fill="none" stroke="#000" stroke-width="1.05" stroke-dasharray="1.9 2.1"/>
<polyline points="322.99,298.77 324.02,298.22 325.04,297.55 326.06,296.77 327.08,295.88 328.11,294.91 329.13,293.88 330.15,292.87 331.17,291.95 332.2,291.2 333.22,290.71 334.24,290.55 335.26,290.71 336.29,291.2 337.31,291.95 338.33,292.87 339.35,293.88 340.38,294.91 341.4,295.88 342.42,296.77 343.44,297.55 344.46,298.22 345.49,298.77 346.51,299.23 347.53,299.6 348.55,299.9 349.58,300.14 350.6,300.33 351.62,300.48 352.64,300.59 353.67,300.68 354.69,300.75 355.71,300.81 356.73,300.85 357.76,300.89 358.78,300.91 359.8,300.93 360.82,300.95 361.85,300.96 362.87,300.97 363.89,300.98 364.91,300.98 365.94,300.99 366.96,300.99 367.98,300.99 369,300.99 370.03,300.99 371.05,301 372.07,301 373.09,301 374.12,301 375.14,301 376.16,301 377.18,301 378.2,301 379.23,301 380.25,301 381.27,301 382.29,301 383.32,301 384.34,301" fill="none" stroke="#000" stroke-width="0.95"/>
<path d="M318.7 276.65H388.63V301H318.7ZM318.7 283.15H388.63" fill="none" stroke="#1a1a1a" stroke-width="0.6"/>
<text x="322.99" y="313.65" font-size="6.6" text-anchor="middle">−6</text>
<text x="333.22" y="313.65" font-size="6.6" text-anchor="middle">−4</text>
<text x="343.44" y="313.65" font-size="6.6" text-anchor="middle">−2</text>
<text x="353.67" y="313.65" font-size="6.6" text-anchor="middle">0</text>
<text x="363.89" y="313.65" font-size="6.6" text-anchor="middle">2</text>
<text x="374.12" y="313.65" font-size="6.6" text-anchor="middle">4</text>
<text x="384.34" y="313.65" font-size="6.6" text-anchor="middle">6</text>
<text x="311.2" y="300.83" font-size="6.6" text-anchor="end">0.1</text>
<text x="311.2" y="295.73" font-size="6.6" text-anchor="end">0.3</text>
<text x="311.2" y="290.63" font-size="6.6" text-anchor="end">0.5</text>
<path d="M322.99 301v3.9M333.22 301v3.9M343.44 301v3.9M353.67 301v3.9M363.89 301v3.9M374.12 301v3.9M384.34 301v3.9M318.7 301h-3.9M318.7 298.45h-3.9M318.7 295.9h-3.9M318.7 293.35h-3.9M318.7 290.8h-3.9M318.7 288.25h-3.9M318.7 285.7h-3.9" fill="none" stroke="#000" stroke-width="0.75"/>
<rect x="388.63" y="283.15" width="69.93" height="17.85" fill="#fff"/>
<path d="M392.93 283.15V301M403.15 283.15V301M413.38 283.15V301M423.6 283.15V301M433.82 283.15V301M444.05 283.15V301M454.27 283.15V301M388.63 298.45H458.57M388.63 295.9H458.57M388.63 293.35H458.57M388.63 290.8H458.57M388.63 288.25H458.57M388.63 285.7H458.57" stroke="#e6e6e6" stroke-width="0.6" fill="none"/>
<rect x="388.63" y="276.65" width="69.93" height="6.5" fill="#d9d9d9"/>
<rect x="388.63" y="276.65" width="69.93" height="1.7" fill="#ececec"/>
<text x="423.6" y="281.79" font-size="5.25" text-anchor="middle" fill="#000" stroke="#000" stroke-width="0.12">U5.17</text>
<polyline points="392.93,298.87 393.95,298.6 394.97,298.31 395.99,298.01 397.02,297.71 398.04,297.42 399.06,297.15 400.08,296.9 401.11,296.7 402.13,296.54 403.15,296.44 404.17,296.41 405.2,296.44 406.22,296.54 407.24,296.7 408.26,296.9 409.29,297.15 410.31,297.42 411.33,297.71 412.35,298.01 413.38,298.31 414.4,298.6 415.42,298.87 416.44,299.13 417.47,299.36 418.49,299.57 419.51,299.76 420.53,299.93 421.56,300.08 422.58,300.21 423.6,300.32 424.62,300.42 425.64,300.51 426.67,300.58 427.69,300.64 428.71,300.7 429.73,300.74 430.76,300.78 431.78,300.82 432.8,300.84 433.82,300.87 434.85,300.89 435.87,300.91 436.89,300.92 437.91,300.93 438.94,300.94 439.96,300.95 440.98,300.96 442,300.97 443.03,300.97 444.05,300.98 445.07,300.98 446.09,300.98 447.12,300.99 448.14,300.99 449.16,300.99 450.18,300.99 451.21,300.99 452.23,300.99 453.25,300.99 454.27,301" fill="none" stroke="#000" stroke-width="1.05" stroke-dasharray="1.9 2.1"/>
<polyline points="392.93,298.66 393.95,298.39 394.97,298.11 395.99,297.84 397.02,297.57 398.04,297.33 399.06,297.1 400.08,296.92 401.11,296.78 402.13,296.69 403.15,296.67 404.17,296.69 405.2,296.78 406.22,296.92 407.24,297.1 408.26,297.33 409.29,297.57 410.31,297.84 411.33,298.11 412.35,298.39 413.38,298.66 414.4,298.91 415.42,299.15 416.44,299.37 417.47,299.57 418.49,299.76 419.51,299.92 420.53,300.07 421.56,300.19 422.58,300.31 423.6,300.4 424.62,300.49 425.64,300.56 426.67,300.63 427.69,300.68 428.71,300.73 429.73,300.77 430.76,300.8 431.78,300.83 432.8,300.86 433.82,300.88 434.85,300.9 435.87,300.91 436.89,300.93 437.91,300.94 438.94,300.95 439.96,300.95 440.98,300.96 442,300.97 443.03,300.97 444.05,300.98 445.07,300.98 446.09,300.98 447.12,300.99 448.14,300.99 449.16,300.99 450.18,300.99 451.21,300.99 452.23,300.99 453.25,300.99 454.27,301" fill="none" stroke="#000" stroke-width="0.95"/>
<path d="M388.63 276.65H458.57V301H388.63ZM388.63 283.15H458.57" fill="none" stroke="#1a1a1a" stroke-width="0.6"/>
<path d="M392.93 301v3.9M403.15 301v3.9M413.38 301v3.9M423.6 301v3.9M433.82 301v3.9M444.05 301v3.9M454.27 301v3.9" fill="none" stroke="#000" stroke-width="0.75"/>
<rect x="458.57" y="283.15" width="69.93" height="17.85" fill="#fff"/>
<path d="M462.86 283.15V301M473.08 283.15V301M483.31 283.15V301M493.53 283.15V301M503.76 283.15V301M513.98 283.15V301M524.21 283.15V301M458.57 298.45H528.5M458.57 295.9H528.5M458.57 293.35H528.5M458.57 290.8H528.5M458.57 288.25H528.5M458.57 285.7H528.5" stroke="#e6e6e6" stroke-width="0.6" fill="none"/>
<rect x="458.57" y="276.65" width="69.93" height="6.5" fill="#d9d9d9"/>
<rect x="458.57" y="276.65" width="69.93" height="1.7" fill="#ececec"/>
<text x="493.53" y="281.79" font-size="5.25" text-anchor="middle" fill="#000" stroke="#000" stroke-width="0.12">U5.19</text>
<polyline points="462.86,300.04 463.88,299.84 464.91,299.6 465.93,299.32 466.95,298.98 467.97,298.59 469,298.14 470.02,297.62 471.04,297.03 472.06,296.38 473.08,295.67 474.11,294.91 475.13,294.13 476.15,293.36 477.17,292.62 478.2,291.95 479.22,291.41 480.24,291.03 481.26,290.83 482.29,290.83 483.31,291.03 484.33,291.41 485.35,291.95 486.38,292.62 487.4,293.36 488.42,294.13 489.44,294.91 490.47,295.67 491.49,296.38 492.51,297.03 493.53,297.62 494.56,298.14 495.58,298.59 496.6,298.98 497.62,299.32 498.65,299.6 499.67,299.84 500.69,300.04 501.71,300.21 502.74,300.35 503.76,300.46 504.78,300.56 505.8,300.64 506.82,300.7 507.85,300.75 508.87,300.8 509.89,300.83 510.91,300.86 511.94,300.89 512.96,300.91 513.98,300.93 515,300.94 516.03,300.95 517.05,300.96 518.07,300.97 519.09,300.97 520.12,300.98 521.14,300.98 522.16,300.98 523.18,300.99 524.21,300.99" fill="none" stroke="#000" stroke-width="1.05" stroke-dasharray="1.9 2.1"/>
<polyline points="462.86,299.93 463.88,299.69 464.91,299.41 465.93,299.07 466.95,298.68 467.97,298.21 469,297.67 470.02,297.05 471.04,296.36 472.06,295.59 473.08,294.78 474.11,293.93 475.13,293.08 476.15,292.27 477.17,291.56 478.2,290.99 479.22,290.6 480.24,290.42 481.26,290.48 482.29,290.77 483.31,291.25 484.33,291.9 485.35,292.67 486.38,293.5 487.4,294.35 488.42,295.19 489.44,295.98 490.47,296.71 491.49,297.37 492.51,297.95 493.53,298.45 494.56,298.88 495.58,299.25 496.6,299.56 497.62,299.82 498.65,300.03 499.67,300.21 500.69,300.35 501.71,300.47 502.74,300.57 503.76,300.65 504.78,300.72 505.8,300.77 506.82,300.81 507.85,300.85 508.87,300.88 509.89,300.9 510.91,300.92 511.94,300.93 512.96,300.95 513.98,300.96 515,300.96 516.03,300.97 517.05,300.98 518.07,300.98 519.09,300.98 520.12,300.99 521.14,300.99 522.16,300.99 523.18,300.99 524.21,300.99" fill="none" stroke="#000" stroke-width="0.95"/>
<path d="M458.57 276.65H528.5V301H458.57ZM458.57 283.15H528.5" fill="none" stroke="#1a1a1a" stroke-width="0.6"/>
<text x="462.86" y="313.65" font-size="6.6" text-anchor="middle">−6</text>
<text x="473.08" y="313.65" font-size="6.6" text-anchor="middle">−4</text>
<text x="483.31" y="313.65" font-size="6.6" text-anchor="middle">−2</text>
<text x="493.53" y="313.65" font-size="6.6" text-anchor="middle">0</text>
<text x="503.76" y="313.65" font-size="6.6" text-anchor="middle">2</text>
<text x="513.98" y="313.65" font-size="6.6" text-anchor="middle">4</text>
<text x="524.21" y="313.65" font-size="6.6" text-anchor="middle">6</text>
<path d="M462.86 301v3.9M473.08 301v3.9M483.31 301v3.9M493.53 301v3.9M503.76 301v3.9M513.98 301v3.9M524.21 301v3.9M528.5 301h3.9M528.5 298.45h3.9M528.5 295.9h3.9M528.5 293.35h3.9M528.5 290.8h3.9M528.5 288.25h3.9M528.5 285.7h3.9" fill="none" stroke="#000" stroke-width="0.75"/></g>
<text x="49.6" y="342.8" font-size="9" fill="#000" text-anchor="middle"><tspan font-weight="bold">(e)</tspan> 2015</text>
<g><rect x="49.4" y="374.9" width="69.93" height="25.87" fill="#fff"/>
<path d="M53.69 374.9V400.77M63.92 374.9V400.77M74.14 374.9V400.77M84.37 374.9V400.77M94.59 374.9V400.77M104.82 374.9V400.77M115.04 374.9V400.77M49.4 397.07H119.33M49.4 393.38H119.33M49.4 389.68H119.33M49.4 385.99H119.33M49.4 382.29H119.33M49.4 378.6H119.33" stroke="#e6e6e6" stroke-width="0.6" fill="none"/>
<rect x="49.4" y="368.4" width="69.93" height="6.5" fill="#d9d9d9"/>
<rect x="49.4" y="368.4" width="69.93" height="1.7" fill="#ececec"/>
<text x="84.37" y="373.54" font-size="5.25" text-anchor="middle" fill="#000" stroke="#000" stroke-width="0.12">U5.33</text>
<polyline points="53.69,400.76 54.72,400.76 55.74,400.76 56.76,400.75 57.78,400.75 58.81,400.74 59.83,400.74 60.85,400.73 61.87,400.71 62.9,400.7 63.92,400.68 64.94,400.65 65.96,400.61 66.99,400.57 68.01,400.51 69.03,400.44 70.05,400.34 71.08,400.21 72.1,400.05 73.12,399.84 74.14,399.57 75.16,399.23 76.19,398.8 77.21,398.26 78.23,397.59 79.25,396.79 80.28,395.85 81.3,394.84 82.32,393.85 83.34,393.01 84.37,392.41 85.39,392.03 86.41,391.81 87.43,391.69 88.46,391.63 89.48,391.61 90.5,391.63 91.52,391.69 92.55,391.81 93.57,392.03 94.59,392.41 95.61,393.01 96.64,393.85 97.66,394.84 98.68,395.85 99.7,396.79 100.73,397.59 101.75,398.26 102.77,398.8 103.79,399.23 104.82,399.57 105.84,399.84 106.86,400.05 107.88,400.21 108.9,400.34 109.93,400.44 110.95,400.51 111.97,400.57 112.99,400.61 114.02,400.65 115.04,400.68" fill="none" stroke="#000" stroke-width="1.05" stroke-dasharray="1.9 2.1"/>
<polyline points="53.69,400.76 54.72,400.76 55.74,400.76 56.76,400.75 57.78,400.75 58.81,400.75 59.83,400.74 60.85,400.73 61.87,400.72 62.9,400.71 63.92,400.69 64.94,400.66 65.96,400.63 66.99,400.59 68.01,400.54 69.03,400.48 70.05,400.39 71.08,400.28 72.1,400.13 73.12,399.95 74.14,399.71 75.16,399.41 76.19,399.03 77.21,398.54 78.23,397.94 79.25,397.19 80.28,396.28 81.3,395.19 82.32,393.93 83.34,392.49 84.37,390.94 85.39,389.34 86.41,387.81 87.43,386.47 88.46,385.48 89.48,384.95 90.5,384.95 91.52,385.48 92.55,386.47 93.57,387.81 94.59,389.34 95.61,390.94 96.64,392.49 97.66,393.93 98.68,395.19 99.7,396.28 100.73,397.19 101.75,397.94 102.77,398.54 103.79,399.03 104.82,399.41 105.84,399.71 106.86,399.95 107.88,400.13 108.9,400.28 109.93,400.39 110.95,400.48 111.97,400.54 112.99,400.59 114.02,400.63 115.04,400.66" fill="none" stroke="#000" stroke-width="0.95"/>
<path d="M49.4 368.4H119.33V400.77H49.4ZM49.4 374.9H119.33" fill="none" stroke="#1a1a1a" stroke-width="0.6"/>
<text x="41.9" y="399.45" font-size="6.6" text-anchor="end">0.1</text>
<text x="41.9" y="392.06" font-size="6.6" text-anchor="end">0.3</text>
<text x="41.9" y="384.67" font-size="6.6" text-anchor="end">0.5</text>
<path d="M53.69 368.4v-3.9M63.92 368.4v-3.9M74.14 368.4v-3.9M84.37 368.4v-3.9M94.59 368.4v-3.9M104.82 368.4v-3.9M115.04 368.4v-3.9M49.4 400.77h-3.9M49.4 397.07h-3.9M49.4 393.38h-3.9M49.4 389.68h-3.9M49.4 385.99h-3.9M49.4 382.29h-3.9M49.4 378.6h-3.9" fill="none" stroke="#000" stroke-width="0.75"/>
<rect x="119.33" y="374.9" width="69.93" height="25.87" fill="#fff"/>
<path d="M123.63 374.9V400.77M133.85 374.9V400.77M144.08 374.9V400.77M154.3 374.9V400.77M164.52 374.9V400.77M174.75 374.9V400.77M184.97 374.9V400.77M119.33 397.07H189.27M119.33 393.38H189.27M119.33 389.68H189.27M119.33 385.99H189.27M119.33 382.29H189.27M119.33 378.6H189.27" stroke="#e6e6e6" stroke-width="0.6" fill="none"/>
<rect x="119.33" y="368.4" width="69.93" height="6.5" fill="#d9d9d9"/>
<rect x="119.33" y="368.4" width="69.93" height="1.7" fill="#ececec"/>
<text x="154.3" y="373.54" font-size="5.25" text-anchor="middle" fill="#000" stroke="#000" stroke-width="0.12">U5.34</text>
<polyline points="123.63,400.64 124.65,400.62 125.67,400.61 126.69,400.59 127.72,400.57 128.74,400.55 129.76,400.52 130.78,400.5 131.81,400.47 132.83,400.44 133.85,400.41 134.87,400.37 135.9,400.33 136.92,400.28 137.94,400.24 138.96,400.18 139.99,400.13 141.01,400.07 142.03,400 143.05,399.93 144.08,399.85 145.1,399.77 146.12,399.69 147.14,399.6 148.17,399.51 149.19,399.41 150.21,399.31 151.23,399.21 152.26,399.1 153.28,399 154.3,398.89 155.32,398.79 156.34,398.69 157.37,398.59 158.39,398.5 159.41,398.42 160.43,398.35 161.46,398.29 162.48,398.24 163.5,398.21 164.52,398.19 165.55,398.18 166.57,398.19 167.59,398.21 168.61,398.24 169.64,398.29 170.66,398.35 171.68,398.42 172.7,398.5 173.73,398.59 174.75,398.69 175.77,398.79 176.79,398.89 177.82,399 178.84,399.1 179.86,399.21 180.88,399.31 181.91,399.41 182.93,399.51 183.95,399.6 184.97,399.69" fill="none" stroke="#000" stroke-width="1.05" stroke-dasharray="1.9 2.1"/>
<polyline points="123.63,400.65 124.65,400.64 125.67,400.63 126.69,400.61 127.72,400.6 128.74,400.58 129.76,400.57 130.78,400.55 131.81,400.53 132.83,400.51 133.85,400.48 134.87,400.46 135.9,400.43 136.92,400.4 137.94,400.37 138.96,400.33 139.99,400.3 141.01,400.26 142.03,400.21 143.05,400.17 144.08,400.12 145.1,400.07 146.12,400.01 147.14,399.95 148.17,399.89 149.19,399.83 150.21,399.76 151.23,399.7 152.26,399.63 153.28,399.55 154.3,399.48 155.32,399.41 156.34,399.34 157.37,399.26 158.39,399.19 159.41,399.12 160.43,399.06 161.46,399 162.48,398.94 163.5,398.89 164.52,398.84 165.55,398.8 166.57,398.77 167.59,398.75 168.61,398.74 169.64,398.73 170.66,398.74 171.68,398.75 172.7,398.77 173.73,398.8 174.75,398.84 175.77,398.89 176.79,398.94 177.82,399 178.84,399.06 179.86,399.12 180.88,399.19 181.91,399.26 182.93,399.34 183.95,399.41 184.97,399.48" fill="none" stroke="#000" stroke-width="0.95"/>
<path d="M119.33 368.4H189.27V400.77H119.33ZM119.33 374.9H189.27" fill="none" stroke="#1a1a1a" stroke-width="0.6"/>
<text x="123.63" y="361.3" font-size="6.6" text-anchor="middle">−6</text>
<text x="133.85" y="361.3" font-size="6.6" text-anchor="middle">−4</text>
<text x="144.08" y="361.3" font-size="6.6" text-anchor="middle">−2</text>
<text x="154.3" y="361.3" font-size="6.6" text-anchor="middle">0</text>
<text x="164.52" y="361.3" font-size="6.6" text-anchor="middle">2</text>
<text x="174.75" y="361.3" font-size="6.6" text-anchor="middle">4</text>
<text x="184.97" y="361.3" font-size="6.6" text-anchor="middle">6</text>
<path d="M123.63 368.4v-3.9M133.85 368.4v-3.9M144.08 368.4v-3.9M154.3 368.4v-3.9M164.52 368.4v-3.9M174.75 368.4v-3.9M184.97 368.4v-3.9M189.27 400.77h3.9M189.27 397.07h3.9M189.27 393.38h3.9M189.27 389.68h3.9M189.27 385.99h3.9M189.27 382.29h3.9M189.27 378.6h3.9" fill="none" stroke="#000" stroke-width="0.75"/>
<rect x="49.4" y="407.27" width="69.93" height="25.87" fill="#fff"/>
<path d="M53.69 407.27V433.13M63.92 407.27V433.13M74.14 407.27V433.13M84.37 407.27V433.13M94.59 407.27V433.13M104.82 407.27V433.13M115.04 407.27V433.13M49.4 429.44H119.33M49.4 425.74H119.33M49.4 422.05H119.33M49.4 418.35H119.33M49.4 414.66H119.33M49.4 410.96H119.33" stroke="#e6e6e6" stroke-width="0.6" fill="none"/>
<rect x="49.4" y="400.77" width="69.93" height="6.5" fill="#d9d9d9"/>
<rect x="49.4" y="400.77" width="69.93" height="1.7" fill="#ececec"/>
<text x="84.37" y="405.91" font-size="5.25" text-anchor="middle" fill="#000" stroke="#000" stroke-width="0.12">U5.29</text>
<polyline points="53.69,433.04 54.72,433.02 55.74,432.99 56.76,432.96 57.78,432.93 58.81,432.88 59.83,432.83 60.85,432.77 61.87,432.69 62.9,432.6 63.92,432.49 64.94,432.36 65.96,432.21 66.99,432.03 68.01,431.81 69.03,431.56 70.05,431.27 71.08,430.93 72.1,430.54 73.12,430.11 74.14,429.64 75.16,429.13 76.19,428.62 77.21,428.11 78.23,427.65 79.25,427.24 80.28,426.92 81.3,426.67 82.32,426.5 83.34,426.39 84.37,426.34 85.39,426.34 86.41,426.39 87.43,426.5 88.46,426.67 89.48,426.92 90.5,427.24 91.52,427.65 92.55,428.11 93.57,428.62 94.59,429.13 95.61,429.64 96.64,430.11 97.66,430.54 98.68,430.93 99.7,431.27 100.73,431.56 101.75,431.81 102.77,432.03 103.79,432.21 104.82,432.36 105.84,432.49 106.86,432.6 107.88,432.69 108.9,432.77 109.93,432.83 110.95,432.88 111.97,432.93 112.99,432.96 114.02,432.99 115.04,433.02" fill="none" stroke="#000" stroke-width="1.05" stroke-dasharray="1.9 2.1"/>
<polyline points="53.69,433.02 54.72,433 55.74,432.97 56.76,432.93 57.78,432.89 58.81,432.84 59.83,432.78 60.85,432.71 61.87,432.63 62.9,432.52 63.92,432.4 64.94,432.25 65.96,432.08 66.99,431.87 68.01,431.63 69.03,431.34 70.05,431.02 71.08,430.64 72.1,430.21 73.12,429.73 74.14,429.2 75.16,428.63 76.19,428.02 77.21,427.4 78.23,426.77 79.25,426.18 80.28,425.65 81.3,425.2 82.32,424.87 83.34,424.68 84.37,424.64 85.39,424.76 86.41,425.02 87.43,425.41 88.46,425.9 89.48,426.47 90.5,427.08 91.52,427.71 92.55,428.33 93.57,428.92 94.59,429.47 95.61,429.98 96.64,430.43 97.66,430.83 98.68,431.19 99.7,431.49 100.73,431.75 101.75,431.98 102.77,432.17 103.79,432.33 104.82,432.46 105.84,432.58 106.86,432.67 107.88,432.75 108.9,432.82 109.93,432.87 110.95,432.92 111.97,432.95 112.99,432.98 114.02,433.01 115.04,433.03" fill="none" stroke="#000" stroke-width="0.95"/>
<path d="M49.4 400.77H119.33V433.13H49.4ZM49.4 407.27H119.33" fill="none" stroke="#1a1a1a" stroke-width="0.6"/>
<path d="M49.4 433.13h-3.9M49.4 429.44h-3.9M49.4 425.74h-3.9M49.4 422.05h-3.9M49.4 418.35h-3.9M49.4 414.66h-3.9M49.4 410.96h-3.9" fill="none" stroke="#000" stroke-width="0.75"/>
<rect x="119.33" y="407.27" width="69.93" height="25.87" fill="#fff"/>
<path d="M123.63 407.27V433.13M133.85 407.27V433.13M144.08 407.27V433.13M154.3 407.27V433.13M164.52 407.27V433.13M174.75 407.27V433.13M184.97 407.27V433.13M119.33 429.44H189.27M119.33 425.74H189.27M119.33 422.05H189.27M119.33 418.35H189.27M119.33 414.66H189.27M119.33 410.96H189.27" stroke="#e6e6e6" stroke-width="0.6" fill="none"/>
<rect x="119.33" y="400.77" width="69.93" height="6.5" fill="#d9d9d9"/>
<rect x="119.33" y="400.77" width="69.93" height="1.7" fill="#ececec"/>
<text x="154.3" y="405.91" font-size="5.25" text-anchor="middle" fill="#000" stroke="#000" stroke-width="0.12">U5.31</text>
<polyline points="123.63,433.12 124.65,433.12 125.67,433.12 126.69,433.11 127.72,433.11 128.74,433.1 129.76,433.09 130.78,433.07 131.81,433.05 132.83,433.03 133.85,433 134.87,432.95 135.9,432.9 136.92,432.83 137.94,432.73 138.96,432.61 139.99,432.45 141.01,432.25 142.03,431.99 143.05,431.65 144.08,431.22 145.1,430.68 146.12,430 147.14,429.17 148.17,428.2 149.19,427.1 150.21,426 151.23,425.02 152.26,424.3 153.28,423.82 154.3,423.55 155.32,423.39 156.34,423.32 157.37,423.3 158.39,423.32 159.41,423.39 160.43,423.55 161.46,423.82 162.48,424.3 163.5,425.02 164.52,426 165.55,427.1 166.57,428.2 167.59,429.17 168.61,430 169.64,430.68 170.66,431.22 171.68,431.65 172.7,431.99 173.73,432.25 174.75,432.45 175.77,432.61 176.79,432.73 177.82,432.83 178.84,432.9 179.86,432.95 180.88,433 181.91,433.03 182.93,433.05 183.95,433.07 184.97,433.09" fill="none" stroke="#000" stroke-width="1.05" stroke-dasharray="1.9 2.1"/>
<polyline points="123.63,433.12 124.65,433.12 125.67,433.12 126.69,433.11 127.72,433.11 128.74,433.1 129.76,433.09 130.78,433.08 131.81,433.06 132.83,433.03 133.85,433 134.87,432.96 135.9,432.91 136.92,432.85 137.94,432.76 138.96,432.64 139.99,432.5 141.01,432.3 142.03,432.06 143.05,431.74 144.08,431.34 145.1,430.82 146.12,430.18 147.14,429.38 148.17,428.4 149.19,427.23 150.21,425.86 151.23,424.31 152.26,422.63 153.28,420.92 154.3,419.3 155.32,417.93 156.34,416.96 157.37,416.52 158.39,416.67 159.41,417.39 160.43,418.58 161.46,420.09 162.48,421.78 163.5,423.48 164.52,425.1 165.55,426.56 166.57,427.84 167.59,428.91 168.61,429.8 169.64,430.52 170.66,431.1 171.68,431.55 172.7,431.91 173.73,432.19 174.75,432.41 175.77,432.57 176.79,432.7 177.82,432.8 178.84,432.88 179.86,432.94 180.88,432.99 181.91,433.02 182.93,433.05 183.95,433.07 184.97,433.08" fill="none" stroke="#000" stroke-width="0.95"/>
<path d="M119.33 400.77H189.27V433.13H119.33ZM119.33 407.27H189.27" fill="none" stroke="#1a1a1a" stroke-width="0.6"/>
<path d="" fill="none" stroke="#000" stroke-width="0.75"/>
<rect x="189.27" y="407.27" width="69.93" height="25.87" fill="#fff"/>
<path d="M193.56 407.27V433.13M203.78 407.27V433.13M214.01 407.27V433.13M224.23 407.27V433.13M234.46 407.27V433.13M244.68 407.27V433.13M254.91 407.27V433.13M189.27 429.44H259.2M189.27 425.74H259.2M189.27 422.05H259.2M189.27 418.35H259.2M189.27 414.66H259.2M189.27 410.96H259.2" stroke="#e6e6e6" stroke-width="0.6" fill="none"/>
<rect x="189.27" y="400.77" width="69.93" height="6.5" fill="#d9d9d9"/>
<rect x="189.27" y="400.77" width="69.93" height="1.7" fill="#ececec"/>
<text x="224.23" y="405.91" font-size="5.25" text-anchor="middle" fill="#000" stroke="#000" stroke-width="0.12">U5.32</text>
<polyline points="193.56,433.08 194.58,433.07 195.61,433.07 196.63,433.06 197.65,433.05 198.67,433.03 199.7,433.02 200.72,433.01 201.74,432.99 202.76,432.97 203.78,432.95 204.81,432.93 205.83,432.9 206.85,432.87 207.87,432.83 208.9,432.8 209.92,432.75 210.94,432.7 211.96,432.65 212.99,432.59 214.01,432.52 215.03,432.45 216.05,432.37 217.08,432.28 218.1,432.18 219.12,432.07 220.14,431.95 221.17,431.82 222.19,431.68 223.21,431.53 224.23,431.38 225.26,431.21 226.28,431.04 227.3,430.87 228.32,430.69 229.35,430.51 230.37,430.33 231.39,430.16 232.41,430 233.44,429.85 234.46,429.72 235.48,429.61 236.5,429.53 237.52,429.47 238.55,429.44 239.57,429.44 240.59,429.47 241.61,429.53 242.64,429.61 243.66,429.72 244.68,429.85 245.7,430 246.73,430.16 247.75,430.33 248.77,430.51 249.79,430.69 250.82,430.87 251.84,431.04 252.86,431.21 253.88,431.38 254.91,431.53" fill="none" stroke="#000" stroke-width="1.05" stroke-dasharray="1.9 2.1"/>
<polyline points="193.56,433.08 194.58,433.08 195.61,433.07 196.63,433.06 197.65,433.05 198.67,433.04 199.7,433.03 200.72,433.01 201.74,432.99 202.76,432.98 203.78,432.96 204.81,432.93 205.83,432.91 206.85,432.88 207.87,432.84 208.9,432.81 209.92,432.76 210.94,432.72 211.96,432.66 212.99,432.61 214.01,432.54 215.03,432.47 216.05,432.39 217.08,432.3 218.1,432.2 219.12,432.1 220.14,431.98 221.17,431.85 222.19,431.72 223.21,431.57 224.23,431.42 225.26,431.25 226.28,431.08 227.3,430.91 228.32,430.73 229.35,430.55 230.37,430.37 231.39,430.2 232.41,430.04 233.44,429.89 234.46,429.75 235.48,429.64 236.5,429.55 237.52,429.48 238.55,429.45 239.57,429.44 240.59,429.46 241.61,429.51 242.64,429.59 243.66,429.69 244.68,429.82 245.7,429.96 246.73,430.12 247.75,430.29 248.77,430.46 249.79,430.64 250.82,430.82 251.84,431 252.86,431.17 253.88,431.34 254.91,431.5" fill="none" stroke="#000" stroke-width="0.95"/>
<path d="M189.27 400.77H259.2V433.13H189.27ZM189.27 407.27H259.2" fill="none" stroke="#1a1a1a" stroke-width="0.6"/>
<text x="266.9" y="431.81" font-size="6.6" text-anchor="start">0.1</text>
<text x="266.9" y="424.42" font-size="6.6" text-anchor="start">0.3</text>
<text x="266.9" y="417.03" font-size="6.6" text-anchor="start">0.5</text>
<path d="M259.2 433.13h3.9M259.2 429.44h3.9M259.2 425.74h3.9M259.2 422.05h3.9M259.2 418.35h3.9M259.2 414.66h3.9M259.2 410.96h3.9" fill="none" stroke="#000" stroke-width="0.75"/>
<rect x="49.4" y="439.63" width="69.93" height="25.87" fill="#fff"/>
<path d="M53.69 439.63V465.5M63.92 439.63V465.5M74.14 439.63V465.5M84.37 439.63V465.5M94.59 439.63V465.5M104.82 439.63V465.5M115.04 439.63V465.5M49.4 461.8H119.33M49.4 458.11H119.33M49.4 454.41H119.33M49.4 450.72H119.33M49.4 447.02H119.33M49.4 443.33H119.33" stroke="#e6e6e6" stroke-width="0.6" fill="none"/>
<rect x="49.4" y="433.13" width="69.93" height="6.5" fill="#d9d9d9"/>
<rect x="49.4" y="433.13" width="69.93" height="1.7" fill="#ececec"/>
<text x="84.37" y="438.27" font-size="5.25" text-anchor="middle" fill="#000" stroke="#000" stroke-width="0.12">U5.19</text>
<polyline points="53.69,464.4 54.72,464.12 55.74,463.77 56.76,463.34 57.78,462.82 58.81,462.19 59.83,461.44 60.85,460.57 61.87,459.57 62.9,458.45 63.92,457.26 64.94,456.03 65.96,454.85 66.99,453.78 68.01,452.93 69.03,452.39 70.05,452.2 71.08,452.39 72.1,452.93 73.12,453.78 74.14,454.85 75.16,456.03 76.19,457.26 77.21,458.45 78.23,459.57 79.25,460.57 80.28,461.44 81.3,462.19 82.32,462.82 83.34,463.34 84.37,463.77 85.39,464.12 86.41,464.4 87.43,464.63 88.46,464.81 89.48,464.95 90.5,465.07 91.52,465.16 92.55,465.23 93.57,465.29 94.59,465.33 95.61,465.37 96.64,465.4 97.66,465.42 98.68,465.44 99.7,465.45 100.73,465.46 101.75,465.47 102.77,465.48 103.79,465.48 104.82,465.48 105.84,465.49 106.86,465.49 107.88,465.49 108.9,465.49 109.93,465.5 110.95,465.5 111.97,465.5 112.99,465.5 114.02,465.5 115.04,465.5" fill="none" stroke="#000" stroke-width="1.05" stroke-dasharray="1.9 2.1"/>
<polyline points="53.69,464.7 54.72,464.47 55.74,464.17 56.76,463.79 57.78,463.3 58.81,462.7 59.83,461.94 60.85,461.02 61.87,459.91 62.9,458.62 63.92,457.15 64.94,455.55 65.96,453.89 66.99,452.3 68.01,450.91 69.03,449.87 70.05,449.31 71.08,449.31 72.1,449.87 73.12,450.91 74.14,452.3 75.16,453.89 76.19,455.55 77.21,457.15 78.23,458.62 79.25,459.91 80.28,461.02 81.3,461.94 82.32,462.7 83.34,463.3 84.37,463.79 85.39,464.17 86.41,464.47 87.43,464.7 88.46,464.89 89.48,465.03 90.5,465.14 91.52,465.22 92.55,465.28 93.57,465.33 94.59,465.37 95.61,465.4 96.64,465.43 97.66,465.44 98.68,465.46 99.7,465.47 100.73,465.47 101.75,465.48 102.77,465.48 103.79,465.49 104.82,465.49 105.84,465.49 106.86,465.49 107.88,465.5 108.9,465.5 109.93,465.5 110.95,465.5 111.97,465.5 112.99,465.5 114.02,465.5 115.04,465.5" fill="none" stroke="#000" stroke-width="0.95"/>
<path d="M49.4 433.13H119.33V465.5H49.4ZM49.4 439.63H119.33" fill="none" stroke="#1a1a1a" stroke-width="0.6"/>
<text x="53.69" y="478.15" font-size="6.6" text-anchor="middle">−6</text>
<text x="63.92" y="478.15" font-size="6.6" text-anchor="middle">−4</text>
<text x="74.14" y="478.15" font-size="6.6" text-anchor="middle">−2</text>
<text x="84.37" y="478.15" font-size="6.6" text-anchor="middle">0</text>
<text x="94.59" y="478.15" font-size="6.6" text-anchor="middle">2</text>
<text x="104.82" y="478.15" font-size="6.6" text-anchor="middle">4</text>
<text x="115.04" y="478.15" font-size="6.6" text-anchor="middle">6</text>
<text x="41.9" y="464.18" font-size="6.6" text-anchor="end">0.1</text>
<text x="41.9" y="456.79" font-size="6.6" text-anchor="end">0.3</text>
<text x="41.9" y="449.4" font-size="6.6" text-anchor="end">0.5</text>
<path d="M53.69 465.5v3.9M63.92 465.5v3.9M74.14 465.5v3.9M84.37 465.5v3.9M94.59 465.5v3.9M104.82 465.5v3.9M115.04 465.5v3.9M49.4 465.5h-3.9M49.4 461.8h-3.9M49.4 458.11h-3.9M49.4 454.41h-3.9M49.4 450.72h-3.9M49.4 447.02h-3.9M49.4 443.33h-3.9" fill="none" stroke="#000" stroke-width="0.75"/>
<rect x="119.33" y="439.63" width="69.93" height="25.87" fill="#fff"/>
<path d="M123.63 439.63V465.5M133.85 439.63V465.5M144.08 439.63V465.5M154.3 439.63V465.5M164.52 439.63V465.5M174.75 439.63V465.5M184.97 439.63V465.5M119.33 461.8H189.27M119.33 458.11H189.27M119.33 454.41H189.27M119.33 450.72H189.27M119.33 447.02H189.27M119.33 443.33H189.27" stroke="#e6e6e6" stroke-width="0.6" fill="none"/>
<rect x="119.33" y="433.13" width="69.93" height="6.5" fill="#d9d9d9"/>
<rect x="119.33" y="433.13" width="69.93" height="1.7" fill="#ececec"/>
<text x="154.3" y="438.27" font-size="5.25" text-anchor="middle" fill="#000" stroke="#000" stroke-width="0.12">U5.21</text>
<polyline points="123.63,465.02 124.65,464.89 125.67,464.72 126.69,464.5 127.72,464.23 128.74,463.88 129.76,463.45 130.78,462.91 131.81,462.26 132.83,461.46 133.85,460.51 134.87,459.4 135.9,458.15 136.92,456.78 137.94,455.35 138.96,453.94 139.99,452.66 141.01,451.63 142.03,450.95 143.05,450.72 144.08,450.95 145.1,451.63 146.12,452.66 147.14,453.94 148.17,455.35 149.19,456.78 150.21,458.15 151.23,459.4 152.26,460.51 153.28,461.46 154.3,462.26 155.32,462.91 156.34,463.45 157.37,463.88 158.39,464.23 159.41,464.5 160.43,464.72 161.46,464.89 162.48,465.02 163.5,465.13 164.52,465.21 165.55,465.28 166.57,465.33 167.59,465.36 168.61,465.39 169.64,465.42 170.66,465.44 171.68,465.45 172.7,465.46 173.73,465.47 174.75,465.48 175.77,465.48 176.79,465.49 177.82,465.49 178.84,465.49 179.86,465.49 180.88,465.49 181.91,465.5 182.93,465.5 183.95,465.5 184.97,465.5" fill="none" stroke="#000" stroke-width="1.05" stroke-dasharray="1.9 2.1"/>
<polyline points="123.63,465.16 124.65,465.06 125.67,464.94 126.69,464.79 127.72,464.59 128.74,464.35 129.76,464.04 130.78,463.65 131.81,463.17 132.83,462.58 133.85,461.86 134.87,461 135.9,460 136.92,458.85 137.94,457.57 138.96,456.21 139.99,454.83 141.01,453.53 142.03,452.41 143.05,451.58 144.08,451.14 145.1,451.14 146.12,451.58 147.14,452.41 148.17,453.53 149.19,454.83 150.21,456.21 151.23,457.57 152.26,458.85 153.28,460 154.3,461 155.32,461.86 156.34,462.58 157.37,463.17 158.39,463.65 159.41,464.04 160.43,464.35 161.46,464.59 162.48,464.79 163.5,464.94 164.52,465.06 165.55,465.16 166.57,465.23 167.59,465.29 168.61,465.34 169.64,465.37 170.66,465.4 171.68,465.42 172.7,465.44 173.73,465.45 174.75,465.46 175.77,465.47 176.79,465.48 177.82,465.48 178.84,465.49 179.86,465.49 180.88,465.49 181.91,465.49 182.93,465.5 183.95,465.5 184.97,465.5" fill="none" stroke="#000" stroke-width="0.95"/>
<path d="M119.33 433.13H189.27V465.5H119.33ZM119.33 439.63H189.27" fill="none" stroke="#1a1a1a" stroke-width="0.6"/>
<path d="M123.63 465.5v3.9M133.85 465.5v3.9M144.08 465.5v3.9M154.3 465.5v3.9M164.52 465.5v3.9M174.75 465.5v3.9M184.97 465.5v3.9" fill="none" stroke="#000" stroke-width="0.75"/>
<rect x="189.27" y="439.63" width="69.93" height="25.87" fill="#fff"/>
<path d="M193.56 439.63V465.5M203.78 439.63V465.5M214.01 439.63V465.5M224.23 439.63V465.5M234.46 439.63V465.5M244.68 439.63V465.5M254.91 439.63V465.5M189.27 461.8H259.2M189.27 458.11H259.2M189.27 454.41H259.2M189.27 450.72H259.2M189.27 447.02H259.2M189.27 443.33H259.2" stroke="#e6e6e6" stroke-width="0.6" fill="none"/>
<rect x="189.27" y="433.13" width="69.93" height="6.5" fill="#d9d9d9"/>
<rect x="189.27" y="433.13" width="69.93" height="1.7" fill="#ececec"/>
<text x="224.23" y="438.27" font-size="5.25" text-anchor="middle" fill="#000" stroke="#000" stroke-width="0.12">U5.23</text>
<polyline points="193.56,462.89 194.58,462.57 195.61,462.24 196.63,461.9 197.65,461.56 198.67,461.21 199.7,460.88 200.72,460.58 201.74,460.3 202.76,460.08 203.78,459.91 204.81,459.81 205.83,459.77 206.85,459.81 207.87,459.91 208.9,460.08 209.92,460.3 210.94,460.58 211.96,460.88 212.99,461.21 214.01,461.56 215.03,461.9 216.05,462.24 217.08,462.57 218.1,462.89 219.12,463.18 220.14,463.45 221.17,463.7 222.19,463.92 223.21,464.12 224.23,464.3 225.26,464.46 226.28,464.6 227.3,464.72 228.32,464.83 229.35,464.92 230.37,465 231.39,465.07 232.41,465.13 233.44,465.18 234.46,465.23 235.48,465.27 236.5,465.3 237.52,465.33 238.55,465.35 239.57,465.37 240.59,465.39 241.61,465.41 242.64,465.42 243.66,465.43 244.68,465.44 245.7,465.45 246.73,465.46 247.75,465.46 248.77,465.47 249.79,465.47 250.82,465.48 251.84,465.48 252.86,465.48 253.88,465.49 254.91,465.49" fill="none" stroke="#000" stroke-width="1.05" stroke-dasharray="1.9 2.1"/>
<polyline points="193.56,462.91 194.58,462.62 195.61,462.33 196.63,462.04 197.65,461.74 198.67,461.45 199.7,461.18 200.72,460.93 201.74,460.71 202.76,460.54 203.78,460.41 204.81,460.34 205.83,460.33 206.85,460.37 207.87,460.47 208.9,460.62 209.92,460.82 210.94,461.05 211.96,461.31 212.99,461.59 214.01,461.89 215.03,462.19 216.05,462.48 217.08,462.77 218.1,463.04 219.12,463.3 220.14,463.54 221.17,463.76 222.19,463.96 223.21,464.15 224.23,464.31 225.26,464.46 226.28,464.59 227.3,464.71 228.32,464.81 229.35,464.9 230.37,464.98 231.39,465.05 232.41,465.11 233.44,465.16 234.46,465.21 235.48,465.25 236.5,465.28 237.52,465.31 238.55,465.34 239.57,465.36 240.59,465.38 241.61,465.4 242.64,465.41 243.66,465.42 244.68,465.43 245.7,465.44 246.73,465.45 247.75,465.46 248.77,465.46 249.79,465.47 250.82,465.47 251.84,465.48 252.86,465.48 253.88,465.48 254.91,465.48" fill="none" stroke="#000" stroke-width="0.95"/>
<path d="M189.27 433.13H259.2V465.5H189.27ZM189.27 439.63H259.2" fill="none" stroke="#1a1a1a" stroke-width="0.6"/>
<text x="193.56" y="478.15" font-size="6.6" text-anchor="middle">−6</text>
<text x="203.78" y="478.15" font-size="6.6" text-anchor="middle">−4</text>
<text x="214.01" y="478.15" font-size="6.6" text-anchor="middle">−2</text>
<text x="224.23" y="478.15" font-size="6.6" text-anchor="middle">0</text>
<text x="234.46" y="478.15" font-size="6.6" text-anchor="middle">2</text>
<text x="244.68" y="478.15" font-size="6.6" text-anchor="middle">4</text>
<text x="254.91" y="478.15" font-size="6.6" text-anchor="middle">6</text>
<path d="M193.56 465.5v3.9M203.78 465.5v3.9M214.01 465.5v3.9M224.23 465.5v3.9M234.46 465.5v3.9M244.68 465.5v3.9M254.91 465.5v3.9M259.2 465.5h3.9M259.2 461.8h3.9M259.2 458.11h3.9M259.2 454.41h3.9M259.2 450.72h3.9M259.2 447.02h3.9M259.2 443.33h3.9" fill="none" stroke="#000" stroke-width="0.75"/></g>
<text x="319.4" y="342.8" font-size="9" fill="#000" text-anchor="middle"><tspan font-weight="bold">(f)</tspan> 2016</text>
<g><rect x="318.7" y="374.9" width="69.93" height="25.87" fill="#fff"/>
<path d="M322.99 374.9V400.77M333.22 374.9V400.77M343.44 374.9V400.77M353.67 374.9V400.77M363.89 374.9V400.77M374.12 374.9V400.77M384.34 374.9V400.77M318.7 397.07H388.63M318.7 393.38H388.63M318.7 389.68H388.63M318.7 385.99H388.63M318.7 382.29H388.63M318.7 378.6H388.63" stroke="#e6e6e6" stroke-width="0.6" fill="none"/>
<rect x="318.7" y="368.4" width="69.93" height="6.5" fill="#d9d9d9"/>
<rect x="318.7" y="368.4" width="69.93" height="1.7" fill="#ececec"/>
<text x="353.67" y="373.54" font-size="5.25" text-anchor="middle" fill="#000" stroke="#000" stroke-width="0.12">U5.34</text>
<polyline points="322.99,400.65 324.02,400.63 325.04,400.62 326.06,400.6 327.08,400.58 328.11,400.56 329.13,400.54 330.15,400.51 331.17,400.48 332.2,400.45 333.22,400.42 334.24,400.38 335.26,400.34 336.29,400.3 337.31,400.25 338.33,400.19 339.35,400.13 340.38,400.07 341.4,400 342.42,399.93 343.44,399.85 344.46,399.76 345.49,399.67 346.51,399.58 347.53,399.48 348.55,399.37 349.58,399.26 350.6,399.15 351.62,399.03 352.64,398.92 353.67,398.8 354.69,398.68 355.71,398.57 356.73,398.47 357.76,398.37 358.78,398.27 359.8,398.19 360.82,398.12 361.85,398.07 362.87,398.03 363.89,398 364.91,398 365.94,398 366.96,398.03 367.98,398.07 369,398.12 370.03,398.19 371.05,398.27 372.07,398.37 373.09,398.47 374.12,398.57 375.14,398.68 376.16,398.8 377.18,398.92 378.2,399.03 379.23,399.15 380.25,399.26 381.27,399.37 382.29,399.48 383.32,399.58 384.34,399.67" fill="none" stroke="#000" stroke-width="1.05" stroke-dasharray="1.9 2.1"/>
<polyline points="322.99,400.64 324.02,400.62 325.04,400.61 326.06,400.59 327.08,400.58 328.11,400.56 329.13,400.53 330.15,400.51 331.17,400.48 332.2,400.46 333.22,400.43 334.24,400.39 335.26,400.36 336.29,400.32 337.31,400.27 338.33,400.23 339.35,400.18 340.38,400.12 341.4,400.06 342.42,400 343.44,399.93 344.46,399.86 345.49,399.79 346.51,399.71 347.53,399.63 348.55,399.54 349.58,399.45 350.6,399.36 351.62,399.27 352.64,399.17 353.67,399.08 354.69,398.99 355.71,398.9 356.73,398.81 357.76,398.72 358.78,398.65 359.8,398.58 360.82,398.51 361.85,398.46 362.87,398.42 363.89,398.39 364.91,398.37 365.94,398.36 366.96,398.37 367.98,398.39 369,398.42 370.03,398.46 371.05,398.51 372.07,398.58 373.09,398.65 374.12,398.72 375.14,398.81 376.16,398.9 377.18,398.99 378.2,399.08 379.23,399.17 380.25,399.27 381.27,399.36 382.29,399.45 383.32,399.54 384.34,399.63" fill="none" stroke="#000" stroke-width="0.95"/>
<path d="M318.7 368.4H388.63V400.77H318.7ZM318.7 374.9H388.63" fill="none" stroke="#1a1a1a" stroke-width="0.6"/>
<text x="311.2" y="399.45" font-size="6.6" text-anchor="end">0.1</text>
<text x="311.2" y="392.06" font-size="6.6" text-anchor="end">0.3</text>
<text x="311.2" y="384.67" font-size="6.6" text-anchor="end">0.5</text>
<path d="M322.99 368.4v-3.9M333.22 368.4v-3.9M343.44 368.4v-3.9M353.67 368.4v-3.9M363.89 368.4v-3.9M374.12 368.4v-3.9M384.34 368.4v-3.9M318.7 400.77h-3.9M318.7 397.07h-3.9M318.7 393.38h-3.9M318.7 389.68h-3.9M318.7 385.99h-3.9M318.7 382.29h-3.9M318.7 378.6h-3.9M388.63 400.77h3.9M388.63 397.07h3.9M388.63 393.38h3.9M388.63 389.68h3.9M388.63 385.99h3.9M388.63 382.29h3.9M388.63 378.6h3.9" fill="none" stroke="#000" stroke-width="0.75"/>
<rect x="318.7" y="407.27" width="69.93" height="25.87" fill="#fff"/>
<path d="M322.99 407.27V433.13M333.22 407.27V433.13M343.44 407.27V433.13M353.67 407.27V433.13M363.89 407.27V433.13M374.12 407.27V433.13M384.34 407.27V433.13M318.7 429.44H388.63M318.7 425.74H388.63M318.7 422.05H388.63M318.7 418.35H388.63M318.7 414.66H388.63M318.7 410.96H388.63" stroke="#e6e6e6" stroke-width="0.6" fill="none"/>
<rect x="318.7" y="400.77" width="69.93" height="6.5" fill="#d9d9d9"/>
<rect x="318.7" y="400.77" width="69.93" height="1.7" fill="#ececec"/>
<text x="353.67" y="405.91" font-size="5.25" text-anchor="middle" fill="#000" stroke="#000" stroke-width="0.12">U5.30</text>
<polyline points="322.99,432.85 324.02,432.82 325.04,432.8 326.06,432.77 327.08,432.73 328.11,432.7 329.13,432.66 330.15,432.62 331.17,432.58 332.2,432.53 333.22,432.48 334.24,432.43 335.26,432.38 336.29,432.32 337.31,432.26 338.33,432.2 339.35,432.13 340.38,432.06 341.4,431.99 342.42,431.92 343.44,431.85 344.46,431.78 345.49,431.7 346.51,431.63 347.53,431.56 348.55,431.49 349.58,431.42 350.6,431.36 351.62,431.31 352.64,431.25 353.67,431.21 354.69,431.17 355.71,431.14 356.73,431.12 357.76,431.11 358.78,431.1 359.8,431.11 360.82,431.12 361.85,431.14 362.87,431.17 363.89,431.21 364.91,431.25 365.94,431.31 366.96,431.36 367.98,431.42 369,431.49 370.03,431.56 371.05,431.63 372.07,431.7 373.09,431.78 374.12,431.85 375.14,431.92 376.16,431.99 377.18,432.06 378.2,432.13 379.23,432.2 380.25,432.26 381.27,432.32 382.29,432.38 383.32,432.43 384.34,432.48" fill="none" stroke="#000" stroke-width="1.05" stroke-dasharray="1.9 2.1"/>
<polyline points="322.99,432.82 324.02,432.8 325.04,432.77 326.06,432.75 327.08,432.72 328.11,432.68 329.13,432.65 330.15,432.62 331.17,432.58 332.2,432.54 333.22,432.5 334.24,432.45 335.26,432.41 336.29,432.36 337.31,432.31 338.33,432.26 339.35,432.21 340.38,432.16 341.4,432.1 342.42,432.05 343.44,432 344.46,431.94 345.49,431.89 346.51,431.84 347.53,431.79 348.55,431.74 349.58,431.69 350.6,431.65 351.62,431.61 352.64,431.57 353.67,431.54 354.69,431.52 355.71,431.5 356.73,431.48 357.76,431.47 358.78,431.47 359.8,431.47 360.82,431.48 361.85,431.5 362.87,431.52 363.89,431.54 364.91,431.57 365.94,431.61 366.96,431.65 367.98,431.69 369,431.74 370.03,431.79 371.05,431.84 372.07,431.89 373.09,431.94 374.12,432 375.14,432.05 376.16,432.1 377.18,432.16 378.2,432.21 379.23,432.26 380.25,432.31 381.27,432.36 382.29,432.41 383.32,432.45 384.34,432.5" fill="none" stroke="#000" stroke-width="0.95"/>
<path d="M318.7 400.77H388.63V433.13H318.7ZM318.7 407.27H388.63" fill="none" stroke="#1a1a1a" stroke-width="0.6"/>
<path d="M318.7 433.13h-3.9M318.7 429.44h-3.9M318.7 425.74h-3.9M318.7 422.05h-3.9M318.7 418.35h-3.9M318.7 414.66h-3.9M318.7 410.96h-3.9" fill="none" stroke="#000" stroke-width="0.75"/>
<rect x="388.63" y="407.27" width="69.93" height="25.87" fill="#fff"/>
<path d="M392.93 407.27V433.13M403.15 407.27V433.13M413.38 407.27V433.13M423.6 407.27V433.13M433.82 407.27V433.13M444.05 407.27V433.13M454.27 407.27V433.13M388.63 429.44H458.57M388.63 425.74H458.57M388.63 422.05H458.57M388.63 418.35H458.57M388.63 414.66H458.57M388.63 410.96H458.57" stroke="#e6e6e6" stroke-width="0.6" fill="none"/>
<rect x="388.63" y="400.77" width="69.93" height="6.5" fill="#d9d9d9"/>
<rect x="388.63" y="400.77" width="69.93" height="1.7" fill="#ececec"/>
<text x="423.6" y="405.91" font-size="5.25" text-anchor="middle" fill="#000" stroke="#000" stroke-width="0.12">U5.31</text>
<polyline points="392.93,433.12 393.95,433.12 394.97,433.12 395.99,433.11 397.02,433.11 398.04,433.1 399.06,433.09 400.08,433.08 401.11,433.06 402.13,433.04 403.15,433.02 404.17,432.98 405.2,432.94 406.22,432.88 407.24,432.8 408.26,432.7 409.29,432.58 410.31,432.41 411.33,432.21 412.35,431.94 413.38,431.6 414.4,431.17 415.42,430.63 416.44,429.96 417.47,429.14 418.49,428.18 419.51,427.09 420.53,425.95 421.56,424.89 422.58,424.01 423.6,423.4 424.62,423 425.64,422.77 426.67,422.66 427.69,422.62 428.71,422.66 429.73,422.77 430.76,423 431.78,423.4 432.8,424.01 433.82,424.89 434.85,425.95 435.87,427.09 436.89,428.18 437.91,429.14 438.94,429.96 439.96,430.63 440.98,431.17 442,431.6 443.03,431.94 444.05,432.21 445.07,432.41 446.09,432.58 447.12,432.7 448.14,432.8 449.16,432.88 450.18,432.94 451.21,432.98 452.23,433.02 453.25,433.04 454.27,433.06" fill="none" stroke="#000" stroke-width="1.05" stroke-dasharray="1.9 2.1"/>
<polyline points="392.93,433.12 393.95,433.12 394.97,433.12 395.99,433.11 397.02,433.11 398.04,433.1 399.06,433.09 400.08,433.08 401.11,433.06 402.13,433.04 403.15,433.02 404.17,432.98 405.2,432.94 406.22,432.88 407.24,432.8 408.26,432.7 409.29,432.58 410.31,432.41 411.33,432.21 412.35,431.94 413.38,431.6 414.4,431.17 415.42,430.62 416.44,429.95 417.47,429.12 418.49,428.13 419.51,426.95 420.53,425.6 421.56,424.1 422.58,422.51 423.6,420.92 424.62,419.47 425.64,418.29 426.67,417.51 427.69,417.24 428.71,417.51 429.73,418.29 430.76,419.47 431.78,420.92 432.8,422.51 433.82,424.1 434.85,425.6 435.87,426.95 436.89,428.13 437.91,429.12 438.94,429.95 439.96,430.62 440.98,431.17 442,431.6 443.03,431.94 444.05,432.21 445.07,432.41 446.09,432.58 447.12,432.7 448.14,432.8 449.16,432.88 450.18,432.94 451.21,432.98 452.23,433.02 453.25,433.04 454.27,433.06" fill="none" stroke="#000" stroke-width="0.95"/>
<path d="M388.63 400.77H458.57V433.13H388.63ZM388.63 407.27H458.57" fill="none" stroke="#1a1a1a" stroke-width="0.6"/>
<path d="" fill="none" stroke="#000" stroke-width="0.75"/>
<rect x="458.57" y="407.27" width="69.93" height="25.87" fill="#fff"/>
<path d="M462.86 407.27V433.13M473.08 407.27V433.13M483.31 407.27V433.13M493.53 407.27V433.13M503.76 407.27V433.13M513.98 407.27V433.13M524.21 407.27V433.13M458.57 429.44H528.5M458.57 425.74H528.5M458.57 422.05H528.5M458.57 418.35H528.5M458.57 414.66H528.5M458.57 410.96H528.5" stroke="#e6e6e6" stroke-width="0.6" fill="none"/>
<rect x="458.57" y="400.77" width="69.93" height="6.5" fill="#d9d9d9"/>
<rect x="458.57" y="400.77" width="69.93" height="1.7" fill="#ececec"/>
<text x="493.53" y="405.91" font-size="5.25" text-anchor="middle" fill="#000" stroke="#000" stroke-width="0.12">U5.32</text>
<polyline points="462.86,433.08 463.88,433.07 464.91,433.06 465.93,433.05 466.95,433.04 467.97,433.03 469,433.01 470.02,433 471.04,432.98 472.06,432.96 473.08,432.94 474.11,432.91 475.13,432.89 476.15,432.86 477.17,432.82 478.2,432.78 479.22,432.74 480.24,432.69 481.26,432.64 482.29,432.58 483.31,432.51 484.33,432.44 485.35,432.36 486.38,432.27 487.4,432.17 488.42,432.07 489.44,431.95 490.47,431.83 491.49,431.7 492.51,431.56 493.53,431.41 494.56,431.25 495.58,431.09 496.6,430.93 497.62,430.76 498.65,430.6 499.67,430.43 500.69,430.28 501.71,430.13 502.74,430 503.76,429.88 504.78,429.78 505.8,429.7 506.82,429.65 507.85,429.63 508.87,429.63 509.89,429.65 510.91,429.7 511.94,429.78 512.96,429.88 513.98,430 515,430.13 516.03,430.28 517.05,430.43 518.07,430.6 519.09,430.76 520.12,430.93 521.14,431.09 522.16,431.25 523.18,431.41 524.21,431.56" fill="none" stroke="#000" stroke-width="1.05" stroke-dasharray="1.9 2.1"/>
<polyline points="462.86,433.09 463.88,433.08 464.91,433.08 465.93,433.07 466.95,433.06 467.97,433.05 469,433.04 470.02,433.02 471.04,433.01 472.06,432.99 473.08,432.97 474.11,432.95 475.13,432.92 476.15,432.89 477.17,432.86 478.2,432.82 479.22,432.78 480.24,432.73 481.26,432.68 482.29,432.62 483.31,432.55 484.33,432.47 485.35,432.39 486.38,432.29 487.4,432.19 488.42,432.08 489.44,431.95 490.47,431.81 491.49,431.66 492.51,431.5 493.53,431.33 494.56,431.14 495.58,430.95 496.6,430.75 497.62,430.54 498.65,430.33 499.67,430.13 500.69,429.93 501.71,429.74 502.74,429.56 503.76,429.41 504.78,429.28 505.8,429.18 506.82,429.11 507.85,429.07 508.87,429.07 509.89,429.11 510.91,429.18 511.94,429.28 512.96,429.41 513.98,429.56 515,429.74 516.03,429.93 517.05,430.13 518.07,430.33 519.09,430.54 520.12,430.75 521.14,430.95 522.16,431.14 523.18,431.33 524.21,431.5" fill="none" stroke="#000" stroke-width="0.95"/>
<path d="M458.57 400.77H528.5V433.13H458.57ZM458.57 407.27H528.5" fill="none" stroke="#1a1a1a" stroke-width="0.6"/>
<text x="536.2" y="431.81" font-size="6.6" text-anchor="start">0.1</text>
<text x="536.2" y="424.42" font-size="6.6" text-anchor="start">0.3</text>
<text x="536.2" y="417.03" font-size="6.6" text-anchor="start">0.5</text>
<path d="M528.5 433.13h3.9M528.5 429.44h3.9M528.5 425.74h3.9M528.5 422.05h3.9M528.5 418.35h3.9M528.5 414.66h3.9M528.5 410.96h3.9" fill="none" stroke="#000" stroke-width="0.75"/>
<rect x="318.7" y="439.63" width="69.93" height="25.87" fill="#fff"/>
<path d="M322.99 439.63V465.5M333.22 439.63V465.5M343.44 439.63V465.5M353.67 439.63V465.5M363.89 439.63V465.5M374.12 439.63V465.5M384.34 439.63V465.5M318.7 461.8H388.63M318.7 458.11H388.63M318.7 454.41H388.63M318.7 450.72H388.63M318.7 447.02H388.63M318.7 443.33H388.63" stroke="#e6e6e6" stroke-width="0.6" fill="none"/>
<rect x="318.7" y="433.13" width="69.93" height="6.5" fill="#d9d9d9"/>
<rect x="318.7" y="433.13" width="69.93" height="1.7" fill="#ececec"/>
<text x="353.67" y="438.27" font-size="5.25" text-anchor="middle" fill="#000" stroke="#000" stroke-width="0.12">U5.19</text>
<polyline points="322.99,464.93 324.02,464.77 325.04,464.57 326.06,464.32 327.08,464.01 328.11,463.62 329.13,463.15 330.15,462.56 331.17,461.85 332.2,461.01 333.22,460.02 334.24,458.9 335.26,457.66 336.29,456.35 337.31,455.03 338.33,453.78 339.35,452.71 340.38,451.93 341.4,451.51 342.42,451.51 343.44,451.93 344.46,452.71 345.49,453.78 346.51,455.03 347.53,456.35 348.55,457.66 349.58,458.9 350.6,460.02 351.62,461.01 352.64,461.85 353.67,462.56 354.69,463.15 355.71,463.62 356.73,464.01 357.76,464.32 358.78,464.57 359.8,464.77 360.82,464.93 361.85,465.05 362.87,465.15 363.89,465.22 364.91,465.28 365.94,465.33 366.96,465.37 367.98,465.4 369,465.42 370.03,465.44 371.05,465.45 372.07,465.46 373.09,465.47 374.12,465.48 375.14,465.48 376.16,465.49 377.18,465.49 378.2,465.49 379.23,465.49 380.25,465.49 381.27,465.5 382.29,465.5 383.32,465.5 384.34,465.5" fill="none" stroke="#000" stroke-width="1.05" stroke-dasharray="1.9 2.1"/>
<polyline points="322.99,464.36 324.02,464.07 325.04,463.7 326.06,463.25 327.08,462.7 328.11,462.03 329.13,461.23 330.15,460.3 331.17,459.24 332.2,458.07 333.22,456.82 334.24,455.54 335.26,454.32 336.29,453.25 337.31,452.43 338.33,451.94 339.35,451.84 340.38,452.14 341.4,452.8 342.42,453.76 343.44,454.92 344.46,456.18 345.49,457.45 346.51,458.67 347.53,459.79 348.55,460.78 349.58,461.65 350.6,462.38 351.62,462.99 352.64,463.49 353.67,463.9 354.69,464.23 355.71,464.49 356.73,464.7 357.76,464.87 358.78,465 359.8,465.11 360.82,465.19 361.85,465.26 362.87,465.31 363.89,465.35 364.91,465.38 365.94,465.41 366.96,465.43 367.98,465.44 369,465.46 370.03,465.47 371.05,465.47 372.07,465.48 373.09,465.48 374.12,465.49 375.14,465.49 376.16,465.49 377.18,465.49 378.2,465.5 379.23,465.5 380.25,465.5 381.27,465.5 382.29,465.5 383.32,465.5 384.34,465.5" fill="none" stroke="#000" stroke-width="0.95"/>
<path d="M318.7 433.13H388.63V465.5H318.7ZM318.7 439.63H388.63" fill="none" stroke="#1a1a1a" stroke-width="0.6"/>
<text x="322.99" y="478.15" font-size="6.6" text-anchor="middle">−6</text>
<text x="333.22" y="478.15" font-size="6.6" text-anchor="middle">−4</text>
<text x="343.44" y="478.15" font-size="6.6" text-anchor="middle">−2</text>
<text x="353.67" y="478.15" font-size="6.6" text-anchor="middle">0</text>
<text x="363.89" y="478.15" font-size="6.6" text-anchor="middle">2</text>
<text x="374.12" y="478.15" font-size="6.6" text-anchor="middle">4</text>
<text x="384.34" y="478.15" font-size="6.6" text-anchor="middle">6</text>
<text x="311.2" y="464.18" font-size="6.6" text-anchor="end">0.1</text>
<text x="311.2" y="456.79" font-size="6.6" text-anchor="end">0.3</text>
<text x="311.2" y="449.4" font-size="6.6" text-anchor="end">0.5</text>
<path d="M322.99 465.5v3.9M333.22 465.5v3.9M343.44 465.5v3.9M353.67 465.5v3.9M363.89 465.5v3.9M374.12 465.5v3.9M384.34 465.5v3.9M318.7 465.5h-3.9M318.7 461.8h-3.9M318.7 458.11h-3.9M318.7 454.41h-3.9M318.7 450.72h-3.9M318.7 447.02h-3.9M318.7 443.33h-3.9" fill="none" stroke="#000" stroke-width="0.75"/>
<rect x="388.63" y="439.63" width="69.93" height="25.87" fill="#fff"/>
<path d="M392.93 439.63V465.5M403.15 439.63V465.5M413.38 439.63V465.5M423.6 439.63V465.5M433.82 439.63V465.5M444.05 439.63V465.5M454.27 439.63V465.5M388.63 461.8H458.57M388.63 458.11H458.57M388.63 454.41H458.57M388.63 450.72H458.57M388.63 447.02H458.57M388.63 443.33H458.57" stroke="#e6e6e6" stroke-width="0.6" fill="none"/>
<rect x="388.63" y="433.13" width="69.93" height="6.5" fill="#d9d9d9"/>
<rect x="388.63" y="433.13" width="69.93" height="1.7" fill="#ececec"/>
<text x="423.6" y="438.27" font-size="5.25" text-anchor="middle" fill="#000" stroke="#000" stroke-width="0.12">U5.23</text>
<polyline points="392.93,463.71 393.95,463.43 394.97,463.12 395.99,462.77 397.02,462.39 398.04,461.98 399.06,461.55 400.08,461.1 401.11,460.65 402.13,460.2 403.15,459.79 404.17,459.41 405.2,459.1 406.22,458.86 407.24,458.71 408.26,458.66 409.29,458.71 410.31,458.86 411.33,459.1 412.35,459.41 413.38,459.79 414.4,460.2 415.42,460.65 416.44,461.1 417.47,461.55 418.49,461.98 419.51,462.39 420.53,462.77 421.56,463.12 422.58,463.43 423.6,463.71 424.62,463.96 425.64,464.18 426.67,464.37 427.69,464.53 428.71,464.68 429.73,464.8 430.76,464.91 431.78,465 432.8,465.07 433.82,465.14 434.85,465.19 435.87,465.24 436.89,465.28 437.91,465.32 438.94,465.34 439.96,465.37 440.98,465.39 442,465.41 443.03,465.42 444.05,465.43 445.07,465.44 446.09,465.45 447.12,465.46 448.14,465.47 449.16,465.47 450.18,465.48 451.21,465.48 452.23,465.48 453.25,465.49 454.27,465.49" fill="none" stroke="#000" stroke-width="1.05" stroke-dasharray="1.9 2.1"/>
<polyline points="392.93,463.8 393.95,463.51 394.97,463.19 395.99,462.83 397.02,462.43 398.04,461.99 399.06,461.52 400.08,461.02 401.11,460.52 402.13,460.01 403.15,459.53 404.17,459.08 405.2,458.7 406.22,458.4 407.24,458.2 408.26,458.11 409.29,458.14 410.31,458.29 411.33,458.54 412.35,458.88 413.38,459.3 414.4,459.76 415.42,460.26 416.44,460.77 417.47,461.27 418.49,461.76 419.51,462.21 420.53,462.63 421.56,463.01 422.58,463.36 423.6,463.66 424.62,463.93 425.64,464.16 426.67,464.36 427.69,464.54 428.71,464.68 429.73,464.81 430.76,464.92 431.78,465.01 432.8,465.09 433.82,465.16 434.85,465.21 435.87,465.26 436.89,465.3 437.91,465.33 438.94,465.36 439.96,465.38 440.98,465.4 442,465.42 443.03,465.43 444.05,465.44 445.07,465.45 446.09,465.46 447.12,465.47 448.14,465.47 449.16,465.48 450.18,465.48 451.21,465.48 452.23,465.49 453.25,465.49 454.27,465.49" fill="none" stroke="#000" stroke-width="0.95"/>
<path d="M388.63 433.13H458.57V465.5H388.63ZM388.63 439.63H458.57" fill="none" stroke="#1a1a1a" stroke-width="0.6"/>
<path d="M392.93 465.5v3.9M403.15 465.5v3.9M413.38 465.5v3.9M423.6 465.5v3.9M433.82 465.5v3.9M444.05 465.5v3.9M454.27 465.5v3.9" fill="none" stroke="#000" stroke-width="0.75"/>
<rect x="458.57" y="439.63" width="69.93" height="25.87" fill="#fff"/>
<path d="M462.86 439.63V465.5M473.08 439.63V465.5M483.31 439.63V465.5M493.53 439.63V465.5M503.76 439.63V465.5M513.98 439.63V465.5M524.21 439.63V465.5M458.57 461.8H528.5M458.57 458.11H528.5M458.57 454.41H528.5M458.57 450.72H528.5M458.57 447.02H528.5M458.57 443.33H528.5" stroke="#e6e6e6" stroke-width="0.6" fill="none"/>
<rect x="458.57" y="433.13" width="69.93" height="6.5" fill="#d9d9d9"/>
<rect x="458.57" y="433.13" width="69.93" height="1.7" fill="#ececec"/>
<text x="493.53" y="438.27" font-size="5.25" text-anchor="middle" fill="#000" stroke="#000" stroke-width="0.12">U5.29</text>
<polyline points="462.86,465.38 463.88,465.36 464.91,465.33 465.93,465.29 466.95,465.25 467.97,465.21 469,465.15 470.02,465.08 471.04,465 472.06,464.91 473.08,464.8 474.11,464.66 475.13,464.51 476.15,464.33 477.17,464.12 478.2,463.87 479.22,463.59 480.24,463.27 481.26,462.92 482.29,462.51 483.31,462.07 484.33,461.6 485.35,461.09 486.38,460.57 487.4,460.04 488.42,459.53 489.44,459.06 490.47,458.64 491.49,458.3 492.51,458.06 493.53,457.94 494.56,457.94 495.58,458.06 496.6,458.3 497.62,458.64 498.65,459.06 499.67,459.53 500.69,460.04 501.71,460.57 502.74,461.09 503.76,461.6 504.78,462.07 505.8,462.51 506.82,462.92 507.85,463.27 508.87,463.59 509.89,463.87 510.91,464.12 511.94,464.33 512.96,464.51 513.98,464.66 515,464.8 516.03,464.91 517.05,465 518.07,465.08 519.09,465.15 520.12,465.21 521.14,465.25 522.16,465.29 523.18,465.33 524.21,465.36" fill="none" stroke="#000" stroke-width="1.05" stroke-dasharray="1.9 2.1"/>
<polyline points="462.86,465.39 463.88,465.36 464.91,465.33 465.93,465.3 466.95,465.26 467.97,465.22 469,465.16 470.02,465.09 471.04,465.01 472.06,464.92 473.08,464.81 474.11,464.68 475.13,464.52 476.15,464.34 477.17,464.13 478.2,463.88 479.22,463.6 480.24,463.28 481.26,462.91 482.29,462.5 483.31,462.05 484.33,461.56 485.35,461.04 486.38,460.5 487.4,459.95 488.42,459.42 489.44,458.92 490.47,458.49 491.49,458.13 492.51,457.88 493.53,457.76 494.56,457.76 495.58,457.88 496.6,458.13 497.62,458.49 498.65,458.92 499.67,459.42 500.69,459.95 501.71,460.5 502.74,461.04 503.76,461.56 504.78,462.05 505.8,462.5 506.82,462.91 507.85,463.28 508.87,463.6 509.89,463.88 510.91,464.13 511.94,464.34 512.96,464.52 513.98,464.68 515,464.81 516.03,464.92 517.05,465.01 518.07,465.09 519.09,465.16 520.12,465.22 521.14,465.26 522.16,465.3 523.18,465.33 524.21,465.36" fill="none" stroke="#000" stroke-width="0.95"/>
<path d="M458.57 433.13H528.5V465.5H458.57ZM458.57 439.63H528.5" fill="none" stroke="#1a1a1a" stroke-width="0.6"/>
<text x="462.86" y="478.15" font-size="6.6" text-anchor="middle">−6</text>
<text x="473.08" y="478.15" font-size="6.6" text-anchor="middle">−4</text>
<text x="483.31" y="478.15" font-size="6.6" text-anchor="middle">−2</text>
<text x="493.53" y="478.15" font-size="6.6" text-anchor="middle">0</text>
<text x="503.76" y="478.15" font-size="6.6" text-anchor="middle">2</text>
<text x="513.98" y="478.15" font-size="6.6" text-anchor="middle">4</text>
<text x="524.21" y="478.15" font-size="6.6" text-anchor="middle">6</text>
<path d="M462.86 465.5v3.9M473.08 465.5v3.9M483.31 465.5v3.9M493.53 465.5v3.9M503.76 465.5v3.9M513.98 465.5v3.9M524.21 465.5v3.9M528.5 465.5h3.9M528.5 461.8h3.9M528.5 458.11h3.9M528.5 454.41h3.9M528.5 450.72h3.9M528.5 447.02h3.9M528.5 443.33h3.9" fill="none" stroke="#000" stroke-width="0.75"/></g>
<text x="49.6" y="507.6" font-size="9" fill="#000" text-anchor="middle"><tspan font-weight="bold">(g)</tspan> 2017</text>
<g><rect x="49.4" y="539.9" width="69.93" height="25.87" fill="#fff"/>
<path d="M53.69 539.9V565.77M63.92 539.9V565.77M74.14 539.9V565.77M84.37 539.9V565.77M94.59 539.9V565.77M104.82 539.9V565.77M115.04 539.9V565.77M49.4 562.07H119.33M49.4 558.38H119.33M49.4 554.68H119.33M49.4 550.99H119.33M49.4 547.29H119.33M49.4 543.6H119.33" stroke="#e6e6e6" stroke-width="0.6" fill="none"/>
<rect x="49.4" y="533.4" width="69.93" height="6.5" fill="#d9d9d9"/>
<rect x="49.4" y="533.4" width="69.93" height="1.7" fill="#ececec"/>
<text x="84.37" y="538.54" font-size="5.25" text-anchor="middle" fill="#000" stroke="#000" stroke-width="0.12">U5.31</text>
<polyline points="53.69,565.75 54.72,565.75 55.74,565.74 56.76,565.73 57.78,565.73 58.81,565.71 59.83,565.7 60.85,565.68 61.87,565.66 62.9,565.64 63.92,565.6 64.94,565.56 65.96,565.51 66.99,565.44 68.01,565.36 69.03,565.26 70.05,565.13 71.08,564.97 72.1,564.77 73.12,564.53 74.14,564.23 75.16,563.86 76.19,563.42 77.21,562.89 78.23,562.26 79.25,561.53 80.28,560.69 81.3,559.75 82.32,558.73 83.34,557.66 84.37,556.59 85.39,555.58 86.41,554.71 87.43,554.05 88.46,553.66 89.48,553.58 90.5,553.82 91.52,554.35 92.55,555.13 93.57,556.07 94.59,557.12 95.61,558.2 96.64,559.25 97.66,560.23 98.68,561.12 99.7,561.91 100.73,562.59 101.75,563.17 102.77,563.65 103.79,564.05 104.82,564.38 105.84,564.65 106.86,564.87 107.88,565.05 108.9,565.2 109.93,565.31 110.95,565.4 111.97,565.48 112.99,565.54 114.02,565.58 115.04,565.62" fill="none" stroke="#000" stroke-width="1.05" stroke-dasharray="1.9 2.1"/>
<polyline points="53.69,565.75 54.72,565.75 55.74,565.74 56.76,565.73 57.78,565.72 58.81,565.71 59.83,565.7 60.85,565.68 61.87,565.66 62.9,565.63 63.92,565.59 64.94,565.54 65.96,565.49 66.99,565.41 68.01,565.32 69.03,565.2 70.05,565.06 71.08,564.87 72.1,564.64 73.12,564.36 74.14,564.01 75.16,563.59 76.19,563.07 77.21,562.45 78.23,561.71 79.25,560.85 80.28,559.88 81.3,558.81 82.32,557.66 83.34,556.48 84.37,555.35 85.39,554.34 86.41,553.53 87.43,553.01 88.46,552.83 89.48,553.01 90.5,553.53 91.52,554.34 92.55,555.35 93.57,556.48 94.59,557.66 95.61,558.81 96.64,559.88 97.66,560.85 98.68,561.71 99.7,562.45 100.73,563.07 101.75,563.59 102.77,564.01 103.79,564.36 104.82,564.64 105.84,564.87 106.86,565.06 107.88,565.2 108.9,565.32 109.93,565.41 110.95,565.49 111.97,565.54 112.99,565.59 114.02,565.63 115.04,565.66" fill="none" stroke="#000" stroke-width="0.95"/>
<path d="M49.4 533.4H119.33V565.77H49.4ZM49.4 539.9H119.33" fill="none" stroke="#1a1a1a" stroke-width="0.6"/>
<text x="41.9" y="564.45" font-size="6.6" text-anchor="end">0.1</text>
<text x="41.9" y="557.06" font-size="6.6" text-anchor="end">0.3</text>
<text x="41.9" y="549.67" font-size="6.6" text-anchor="end">0.5</text>
<path d="M53.69 533.4v-3.9M63.92 533.4v-3.9M74.14 533.4v-3.9M84.37 533.4v-3.9M94.59 533.4v-3.9M104.82 533.4v-3.9M115.04 533.4v-3.9M49.4 565.77h-3.9M49.4 562.07h-3.9M49.4 558.38h-3.9M49.4 554.68h-3.9M49.4 550.99h-3.9M49.4 547.29h-3.9M49.4 543.6h-3.9" fill="none" stroke="#000" stroke-width="0.75"/>
<rect x="119.33" y="539.9" width="69.93" height="25.87" fill="#fff"/>
<path d="M123.63 539.9V565.77M133.85 539.9V565.77M144.08 539.9V565.77M154.3 539.9V565.77M164.52 539.9V565.77M174.75 539.9V565.77M184.97 539.9V565.77M119.33 562.07H189.27M119.33 558.38H189.27M119.33 554.68H189.27M119.33 550.99H189.27M119.33 547.29H189.27M119.33 543.6H189.27" stroke="#e6e6e6" stroke-width="0.6" fill="none"/>
<rect x="119.33" y="533.4" width="69.93" height="6.5" fill="#d9d9d9"/>
<rect x="119.33" y="533.4" width="69.93" height="1.7" fill="#ececec"/>
<text x="154.3" y="538.54" font-size="5.25" text-anchor="middle" fill="#000" stroke="#000" stroke-width="0.12">U5.32</text>
<polyline points="123.63,565.64 124.65,565.63 125.67,565.61 126.69,565.59 127.72,565.57 128.74,565.55 129.76,565.53 130.78,565.51 131.81,565.48 132.83,565.45 133.85,565.42 134.87,565.38 135.9,565.34 136.92,565.3 137.94,565.25 138.96,565.2 139.99,565.14 141.01,565.08 142.03,565.01 143.05,564.94 144.08,564.86 145.1,564.78 146.12,564.69 147.14,564.59 148.17,564.49 149.19,564.38 150.21,564.27 151.23,564.14 152.26,564.02 153.28,563.89 154.3,563.75 155.32,563.61 156.34,563.47 157.37,563.33 158.39,563.19 159.41,563.06 160.43,562.93 161.46,562.8 162.48,562.68 163.5,562.58 164.52,562.48 165.55,562.4 166.57,562.34 167.59,562.29 168.61,562.27 169.64,562.26 170.66,562.27 171.68,562.29 172.7,562.34 173.73,562.4 174.75,562.48 175.77,562.58 176.79,562.68 177.82,562.8 178.84,562.93 179.86,563.06 180.88,563.19 181.91,563.33 182.93,563.47 183.95,563.61 184.97,563.75" fill="none" stroke="#000" stroke-width="1.05" stroke-dasharray="1.9 2.1"/>
<polyline points="123.63,565.66 124.65,565.65 125.67,565.64 126.69,565.63 127.72,565.61 128.74,565.59 129.76,565.58 130.78,565.56 131.81,565.54 132.83,565.51 133.85,565.49 134.87,565.46 135.9,565.43 136.92,565.4 137.94,565.36 138.96,565.32 139.99,565.28 141.01,565.23 142.03,565.18 143.05,565.12 144.08,565.06 145.1,565 146.12,564.93 147.14,564.85 148.17,564.77 149.19,564.69 150.21,564.6 151.23,564.5 152.26,564.4 153.28,564.29 154.3,564.18 155.32,564.07 156.34,563.95 157.37,563.83 158.39,563.7 159.41,563.58 160.43,563.45 161.46,563.33 162.48,563.21 163.5,563.09 164.52,562.98 165.55,562.88 166.57,562.79 167.59,562.71 168.61,562.64 169.64,562.59 170.66,562.55 171.68,562.52 172.7,562.51 173.73,562.52 174.75,562.55 175.77,562.59 176.79,562.64 177.82,562.71 178.84,562.79 179.86,562.88 180.88,562.98 181.91,563.09 182.93,563.21 183.95,563.33 184.97,563.45" fill="none" stroke="#000" stroke-width="0.95"/>
<path d="M119.33 533.4H189.27V565.77H119.33ZM119.33 539.9H189.27" fill="none" stroke="#1a1a1a" stroke-width="0.6"/>
<text x="123.63" y="526.3" font-size="6.6" text-anchor="middle">−6</text>
<text x="133.85" y="526.3" font-size="6.6" text-anchor="middle">−4</text>
<text x="144.08" y="526.3" font-size="6.6" text-anchor="middle">−2</text>
<text x="154.3" y="526.3" font-size="6.6" text-anchor="middle">0</text>
<text x="164.52" y="526.3" font-size="6.6" text-anchor="middle">2</text>
<text x="174.75" y="526.3" font-size="6.6" text-anchor="middle">4</text>
<text x="184.97" y="526.3" font-size="6.6" text-anchor="middle">6</text>
<path d="M123.63 533.4v-3.9M133.85 533.4v-3.9M144.08 533.4v-3.9M154.3 533.4v-3.9M164.52 533.4v-3.9M174.75 533.4v-3.9M184.97 533.4v-3.9" fill="none" stroke="#000" stroke-width="0.75"/>
<rect x="189.27" y="539.9" width="69.93" height="25.87" fill="#fff"/>
<path d="M193.56 539.9V565.77M203.78 539.9V565.77M214.01 539.9V565.77M224.23 539.9V565.77M234.46 539.9V565.77M244.68 539.9V565.77M254.91 539.9V565.77M189.27 562.07H259.2M189.27 558.38H259.2M189.27 554.68H259.2M189.27 550.99H259.2M189.27 547.29H259.2M189.27 543.6H259.2" stroke="#e6e6e6" stroke-width="0.6" fill="none"/>
<rect x="189.27" y="533.4" width="69.93" height="6.5" fill="#d9d9d9"/>
<rect x="189.27" y="533.4" width="69.93" height="1.7" fill="#ececec"/>
<text x="224.23" y="538.54" font-size="5.25" text-anchor="middle" fill="#000" stroke="#000" stroke-width="0.12">U5.34</text>
<polyline points="193.56,565.57 194.58,565.56 195.61,565.54 196.63,565.52 197.65,565.5 198.67,565.48 199.7,565.46 200.72,565.43 201.74,565.4 202.76,565.37 203.78,565.34 204.81,565.31 205.83,565.28 206.85,565.24 207.87,565.2 208.9,565.16 209.92,565.11 210.94,565.06 211.96,565.01 212.99,564.96 214.01,564.9 215.03,564.85 216.05,564.79 217.08,564.72 218.1,564.66 219.12,564.59 220.14,564.52 221.17,564.45 222.19,564.38 223.21,564.31 224.23,564.24 225.26,564.17 226.28,564.1 227.3,564.03 228.32,563.96 229.35,563.9 230.37,563.84 231.39,563.78 232.41,563.73 233.44,563.68 234.46,563.64 235.48,563.61 236.5,563.58 237.52,563.57 238.55,563.55 239.57,563.55 240.59,563.55 241.61,563.57 242.64,563.58 243.66,563.61 244.68,563.64 245.7,563.68 246.73,563.73 247.75,563.78 248.77,563.84 249.79,563.9 250.82,563.96 251.84,564.03 252.86,564.1 253.88,564.17 254.91,564.24" fill="none" stroke="#000" stroke-width="1.05" stroke-dasharray="1.9 2.1"/>
<polyline points="193.56,565.61 194.58,565.6 195.61,565.58 196.63,565.57 197.65,565.55 198.67,565.54 199.7,565.52 200.72,565.5 201.74,565.48 202.76,565.46 203.78,565.43 204.81,565.41 205.83,565.38 206.85,565.35 207.87,565.32 208.9,565.29 209.92,565.26 210.94,565.22 211.96,565.18 212.99,565.14 214.01,565.1 215.03,565.06 216.05,565.01 217.08,564.97 218.1,564.92 219.12,564.87 220.14,564.81 221.17,564.76 222.19,564.71 223.21,564.65 224.23,564.59 225.26,564.54 226.28,564.48 227.3,564.42 228.32,564.37 229.35,564.31 230.37,564.26 231.39,564.21 232.41,564.16 233.44,564.12 234.46,564.08 235.48,564.04 236.5,564.01 237.52,563.98 238.55,563.95 239.57,563.94 240.59,563.93 241.61,563.92 242.64,563.92 243.66,563.93 244.68,563.94 245.7,563.95 246.73,563.98 247.75,564.01 248.77,564.04 249.79,564.08 250.82,564.12 251.84,564.16 252.86,564.21 253.88,564.26 254.91,564.31" fill="none" stroke="#000" stroke-width="0.95"/>
<path d="M189.27 533.4H259.2V565.77H189.27ZM189.27 539.9H259.2" fill="none" stroke="#1a1a1a" stroke-width="0.6"/>
<path d="M193.56 533.4v-3.9M203.78 533.4v-3.9M214.01 533.4v-3.9M224.23 533.4v-3.9M234.46 533.4v-3.9M244.68 533.4v-3.9M254.91 533.4v-3.9M259.2 565.77h3.9M259.2 562.07h3.9M259.2 558.38h3.9M259.2 554.68h3.9M259.2 550.99h3.9M259.2 547.29h3.9M259.2 543.6h3.9" fill="none" stroke="#000" stroke-width="0.75"/>
<rect x="49.4" y="572.27" width="69.93" height="25.87" fill="#fff"/>
<path d="M53.69 572.27V598.13M63.92 572.27V598.13M74.14 572.27V598.13M84.37 572.27V598.13M94.59 572.27V598.13M104.82 572.27V598.13M115.04 572.27V598.13M49.4 594.44H119.33M49.4 590.74H119.33M49.4 587.05H119.33M49.4 583.35H119.33M49.4 579.66H119.33M49.4 575.96H119.33" stroke="#e6e6e6" stroke-width="0.6" fill="none"/>
<rect x="49.4" y="565.77" width="69.93" height="6.5" fill="#d9d9d9"/>
<rect x="49.4" y="565.77" width="69.93" height="1.7" fill="#ececec"/>
<text x="84.37" y="570.91" font-size="5.25" text-anchor="middle" fill="#000" stroke="#000" stroke-width="0.12">U5.23</text>
<polyline points="53.69,596.67 54.72,596.4 55.74,596.09 56.76,595.73 57.78,595.33 58.81,594.88 59.83,594.39 60.85,593.85 61.87,593.29 62.9,592.7 63.92,592.12 64.94,591.56 65.96,591.05 66.99,590.62 68.01,590.28 69.03,590.07 70.05,590 71.08,590.07 72.1,590.28 73.12,590.62 74.14,591.05 75.16,591.56 76.19,592.12 77.21,592.7 78.23,593.29 79.25,593.85 80.28,594.39 81.3,594.88 82.32,595.33 83.34,595.73 84.37,596.09 85.39,596.4 86.41,596.67 87.43,596.9 88.46,597.1 89.48,597.26 90.5,597.4 91.52,597.52 92.55,597.63 93.57,597.71 94.59,597.78 95.61,597.84 96.64,597.89 97.66,597.93 98.68,597.97 99.7,597.99 100.73,598.02 101.75,598.04 102.77,598.05 103.79,598.07 104.82,598.08 105.84,598.09 106.86,598.1 107.88,598.1 108.9,598.11 109.93,598.11 110.95,598.12 111.97,598.12 112.99,598.12 114.02,598.12 115.04,598.12" fill="none" stroke="#000" stroke-width="1.05" stroke-dasharray="1.9 2.1"/>
<polyline points="53.69,596.7 54.72,596.43 55.74,596.11 56.76,595.74 57.78,595.32 58.81,594.84 59.83,594.31 60.85,593.74 61.87,593.12 62.9,592.48 63.92,591.83 64.94,591.21 65.96,590.63 66.99,590.14 68.01,589.77 69.03,589.53 70.05,589.45 71.08,589.53 72.1,589.77 73.12,590.14 74.14,590.63 75.16,591.21 76.19,591.83 77.21,592.48 78.23,593.12 79.25,593.74 80.28,594.31 81.3,594.84 82.32,595.32 83.34,595.74 84.37,596.11 85.39,596.43 86.41,596.7 87.43,596.94 88.46,597.14 89.48,597.3 90.5,597.44 91.52,597.56 92.55,597.66 93.57,597.74 94.59,597.81 95.61,597.87 96.64,597.91 97.66,597.95 98.68,597.98 99.7,598.01 100.73,598.03 101.75,598.05 102.77,598.06 103.79,598.08 104.82,598.09 105.84,598.09 106.86,598.1 107.88,598.11 108.9,598.11 109.93,598.12 110.95,598.12 111.97,598.12 112.99,598.12 114.02,598.13 115.04,598.13" fill="none" stroke="#000" stroke-width="0.95"/>
<path d="M49.4 565.77H119.33V598.13H49.4ZM49.4 572.27H119.33" fill="none" stroke="#1a1a1a" stroke-width="0.6"/>
<path d="M49.4 598.13h-3.9M49.4 594.44h-3.9M49.4 590.74h-3.9M49.4 587.05h-3.9M49.4 583.35h-3.9M49.4 579.66h-3.9M49.4 575.96h-3.9" fill="none" stroke="#000" stroke-width="0.75"/>
<rect x="119.33" y="572.27" width="69.93" height="25.87" fill="#fff"/>
<path d="M123.63 572.27V598.13M133.85 572.27V598.13M144.08 572.27V598.13M154.3 572.27V598.13M164.52 572.27V598.13M174.75 572.27V598.13M184.97 572.27V598.13M119.33 594.44H189.27M119.33 590.74H189.27M119.33 587.05H189.27M119.33 583.35H189.27M119.33 579.66H189.27M119.33 575.96H189.27" stroke="#e6e6e6" stroke-width="0.6" fill="none"/>
<rect x="119.33" y="565.77" width="69.93" height="6.5" fill="#d9d9d9"/>
<rect x="119.33" y="565.77" width="69.93" height="1.7" fill="#ececec"/>
<text x="154.3" y="570.91" font-size="5.25" text-anchor="middle" fill="#000" stroke="#000" stroke-width="0.12">U5.25</text>
<polyline points="123.63,598.09 124.65,598.08 125.67,598.06 126.69,598.04 127.72,598.01 128.74,597.97 129.76,597.91 130.78,597.84 131.81,597.74 132.83,597.62 133.85,597.45 134.87,597.23 135.9,596.95 136.92,596.58 137.94,596.1 138.96,595.48 139.99,594.7 141.01,593.72 142.03,592.52 143.05,591.07 144.08,589.38 145.1,587.5 146.12,585.5 147.14,583.54 148.17,581.79 149.19,580.46 150.21,579.75 151.23,579.75 152.26,580.46 153.28,581.79 154.3,583.54 155.32,585.5 156.34,587.5 157.37,589.38 158.39,591.07 159.41,592.52 160.43,593.72 161.46,594.7 162.48,595.48 163.5,596.1 164.52,596.58 165.55,596.95 166.57,597.23 167.59,597.45 168.61,597.62 169.64,597.74 170.66,597.84 171.68,597.91 172.7,597.97 173.73,598.01 174.75,598.04 175.77,598.06 176.79,598.08 177.82,598.09 178.84,598.1 179.86,598.11 180.88,598.12 181.91,598.12 182.93,598.12 183.95,598.13 184.97,598.13" fill="none" stroke="#000" stroke-width="1.05" stroke-dasharray="1.9 2.1"/>
<polyline points="123.63,598.09 124.65,598.08 125.67,598.06 126.69,598.04 127.72,598 128.74,597.96 129.76,597.9 130.78,597.82 131.81,597.7 132.83,597.56 133.85,597.36 134.87,597.09 135.9,596.74 136.92,596.27 137.94,595.66 138.96,594.86 139.99,593.84 141.01,592.55 142.03,590.96 143.05,589.06 144.08,586.87 145.1,584.5 146.12,582.11 147.14,579.95 148.17,578.28 149.19,577.37 150.21,577.37 151.23,578.28 152.26,579.95 153.28,582.11 154.3,584.5 155.32,586.87 156.34,589.06 157.37,590.96 158.39,592.55 159.41,593.84 160.43,594.86 161.46,595.66 162.48,596.27 163.5,596.74 164.52,597.09 165.55,597.36 166.57,597.56 167.59,597.7 168.61,597.82 169.64,597.9 170.66,597.96 171.68,598 172.7,598.04 173.73,598.06 174.75,598.08 175.77,598.09 176.79,598.1 177.82,598.11 178.84,598.12 179.86,598.12 180.88,598.12 181.91,598.13 182.93,598.13 183.95,598.13 184.97,598.13" fill="none" stroke="#000" stroke-width="0.95"/>
<path d="M119.33 565.77H189.27V598.13H119.33ZM119.33 572.27H189.27" fill="none" stroke="#1a1a1a" stroke-width="0.6"/>
<path d="" fill="none" stroke="#000" stroke-width="0.75"/>
<rect x="189.27" y="572.27" width="69.93" height="25.87" fill="#fff"/>
<path d="M193.56 572.27V598.13M203.78 572.27V598.13M214.01 572.27V598.13M224.23 572.27V598.13M234.46 572.27V598.13M244.68 572.27V598.13M254.91 572.27V598.13M189.27 594.44H259.2M189.27 590.74H259.2M189.27 587.05H259.2M189.27 583.35H259.2M189.27 579.66H259.2M189.27 575.96H259.2" stroke="#e6e6e6" stroke-width="0.6" fill="none"/>
<rect x="189.27" y="565.77" width="69.93" height="6.5" fill="#d9d9d9"/>
<rect x="189.27" y="565.77" width="69.93" height="1.7" fill="#ececec"/>
<text x="224.23" y="570.91" font-size="5.25" text-anchor="middle" fill="#000" stroke="#000" stroke-width="0.12">U5.29</text>
<polyline points="193.56,598.06 194.58,598.04 195.61,598.02 196.63,597.99 197.65,597.96 198.67,597.91 199.7,597.86 200.72,597.8 201.74,597.73 202.76,597.64 203.78,597.53 204.81,597.39 205.83,597.23 206.85,597.03 207.87,596.8 208.9,596.51 209.92,596.18 210.94,595.78 211.96,595.32 212.99,594.79 214.01,594.19 215.03,593.52 216.05,592.79 217.08,592.01 218.1,591.21 219.12,590.43 220.14,589.7 221.17,589.07 222.19,588.58 223.21,588.26 224.23,588.16 225.26,588.26 226.28,588.58 227.3,589.07 228.32,589.7 229.35,590.43 230.37,591.21 231.39,592.01 232.41,592.79 233.44,593.52 234.46,594.19 235.48,594.79 236.5,595.32 237.52,595.78 238.55,596.18 239.57,596.51 240.59,596.8 241.61,597.03 242.64,597.23 243.66,597.39 244.68,597.53 245.7,597.64 246.73,597.73 247.75,597.8 248.77,597.86 249.79,597.91 250.82,597.96 251.84,597.99 252.86,598.02 253.88,598.04 254.91,598.06" fill="none" stroke="#000" stroke-width="1.05" stroke-dasharray="1.9 2.1"/>
<polyline points="193.56,598.1 194.58,598.09 195.61,598.07 196.63,598.06 197.65,598.04 198.67,598.02 199.7,597.99 200.72,597.96 201.74,597.92 202.76,597.86 203.78,597.8 204.81,597.72 205.83,597.62 206.85,597.5 207.87,597.35 208.9,597.17 209.92,596.94 210.94,596.67 211.96,596.34 212.99,595.95 214.01,595.48 215.03,594.93 216.05,594.29 217.08,593.57 218.1,592.76 219.12,591.89 220.14,590.97 221.17,590.03 222.19,589.14 223.21,588.34 224.23,587.69 225.26,587.25 226.28,587.06 227.3,587.12 228.32,587.45 229.35,588 230.37,588.73 231.39,589.58 232.41,590.5 233.44,591.43 234.46,592.33 235.48,593.18 236.5,593.94 237.52,594.62 238.55,595.22 239.57,595.72 240.59,596.15 241.61,596.51 242.64,596.81 243.66,597.06 244.68,597.26 245.7,597.43 246.73,597.56 247.75,597.67 248.77,597.76 249.79,597.83 250.82,597.89 251.84,597.94 252.86,597.98 253.88,598.01 254.91,598.03" fill="none" stroke="#000" stroke-width="0.95"/>
<path d="M189.27 565.77H259.2V598.13H189.27ZM189.27 572.27H259.2" fill="none" stroke="#1a1a1a" stroke-width="0.6"/>
<text x="266.9" y="596.81" font-size="6.6" text-anchor="start">0.1</text>
<text x="266.9" y="589.42" font-size="6.6" text-anchor="start">0.3</text>
<text x="266.9" y="582.03" font-size="6.6" text-anchor="start">0.5</text>
<path d="M259.2 598.13h3.9M259.2 594.44h3.9M259.2 590.74h3.9M259.2 587.05h3.9M259.2 583.35h3.9M259.2 579.66h3.9M259.2 575.96h3.9" fill="none" stroke="#000" stroke-width="0.75"/>
<rect x="49.4" y="604.63" width="69.93" height="25.87" fill="#fff"/>
<path d="M53.69 604.63V630.5M63.92 604.63V630.5M74.14 604.63V630.5M84.37 604.63V630.5M94.59 604.63V630.5M104.82 604.63V630.5M115.04 604.63V630.5M49.4 626.8H119.33M49.4 623.11H119.33M49.4 619.41H119.33M49.4 615.72H119.33M49.4 612.02H119.33M49.4 608.33H119.33" stroke="#e6e6e6" stroke-width="0.6" fill="none"/>
<rect x="49.4" y="598.13" width="69.93" height="6.5" fill="#d9d9d9"/>
<rect x="49.4" y="598.13" width="69.93" height="1.7" fill="#ececec"/>
<text x="84.37" y="603.27" font-size="5.25" text-anchor="middle" fill="#000" stroke="#000" stroke-width="0.12">U5.17</text>
<polyline points="53.69,627.5 54.72,627.15 55.74,626.78 56.76,626.4 57.78,626.02 58.81,625.65 59.83,625.31 60.85,625 61.87,624.75 62.9,624.56 63.92,624.44 64.94,624.4 65.96,624.44 66.99,624.56 68.01,624.75 69.03,625 70.05,625.31 71.08,625.65 72.1,626.02 73.12,626.4 74.14,626.78 75.16,627.15 76.19,627.5 77.21,627.84 78.23,628.15 79.25,628.44 80.28,628.7 81.3,628.93 82.32,629.14 83.34,629.32 84.37,629.48 85.39,629.62 86.41,629.75 87.43,629.85 88.46,629.95 89.48,630.03 90.5,630.09 91.52,630.15 92.55,630.2 93.57,630.25 94.59,630.28 95.61,630.32 96.64,630.34 97.66,630.37 98.68,630.39 99.7,630.4 100.73,630.42 101.75,630.43 102.77,630.44 103.79,630.45 104.82,630.46 105.84,630.46 106.86,630.47 107.88,630.47 108.9,630.48 109.93,630.48 110.95,630.48 111.97,630.49 112.99,630.49 114.02,630.49 115.04,630.49" fill="none" stroke="#000" stroke-width="1.05" stroke-dasharray="1.9 2.1"/>
<polyline points="53.69,627.41 54.72,627.02 55.74,626.6 56.76,626.17 57.78,625.74 58.81,625.31 59.83,624.92 60.85,624.56 61.87,624.26 62.9,624.04 63.92,623.9 64.94,623.85 65.96,623.9 66.99,624.04 68.01,624.26 69.03,624.56 70.05,624.92 71.08,625.31 72.1,625.74 73.12,626.17 74.14,626.6 75.16,627.02 76.19,627.41 77.21,627.78 78.23,628.12 79.25,628.43 80.28,628.71 81.3,628.95 82.32,629.17 83.34,629.36 84.37,629.52 85.39,629.66 86.41,629.79 87.43,629.89 88.46,629.98 89.48,630.06 90.5,630.13 91.52,630.19 92.55,630.23 93.57,630.27 94.59,630.31 95.61,630.34 96.64,630.36 97.66,630.38 98.68,630.4 99.7,630.42 100.73,630.43 101.75,630.44 102.77,630.45 103.79,630.46 104.82,630.46 105.84,630.47 106.86,630.47 107.88,630.48 108.9,630.48 109.93,630.48 110.95,630.49 111.97,630.49 112.99,630.49 114.02,630.49 115.04,630.49" fill="none" stroke="#000" stroke-width="0.95"/>
<path d="M49.4 598.13H119.33V630.5H49.4ZM49.4 604.63H119.33" fill="none" stroke="#1a1a1a" stroke-width="0.6"/>
<text x="53.69" y="643.15" font-size="6.6" text-anchor="middle">−6</text>
<text x="63.92" y="643.15" font-size="6.6" text-anchor="middle">−4</text>
<text x="74.14" y="643.15" font-size="6.6" text-anchor="middle">−2</text>
<text x="84.37" y="643.15" font-size="6.6" text-anchor="middle">0</text>
<text x="94.59" y="643.15" font-size="6.6" text-anchor="middle">2</text>
<text x="104.82" y="643.15" font-size="6.6" text-anchor="middle">4</text>
<text x="115.04" y="643.15" font-size="6.6" text-anchor="middle">6</text>
<text x="41.9" y="629.18" font-size="6.6" text-anchor="end">0.1</text>
<text x="41.9" y="621.79" font-size="6.6" text-anchor="end">0.3</text>
<text x="41.9" y="614.4" font-size="6.6" text-anchor="end">0.5</text>
<path d="M53.69 630.5v3.9M63.92 630.5v3.9M74.14 630.5v3.9M84.37 630.5v3.9M94.59 630.5v3.9M104.82 630.5v3.9M115.04 630.5v3.9M49.4 630.5h-3.9M49.4 626.8h-3.9M49.4 623.11h-3.9M49.4 619.41h-3.9M49.4 615.72h-3.9M49.4 612.02h-3.9M49.4 608.33h-3.9" fill="none" stroke="#000" stroke-width="0.75"/>
<rect x="119.33" y="604.63" width="69.93" height="25.87" fill="#fff"/>
<path d="M123.63 604.63V630.5M133.85 604.63V630.5M144.08 604.63V630.5M154.3 604.63V630.5M164.52 604.63V630.5M174.75 604.63V630.5M184.97 604.63V630.5M119.33 626.8H189.27M119.33 623.11H189.27M119.33 619.41H189.27M119.33 615.72H189.27M119.33 612.02H189.27M119.33 608.33H189.27" stroke="#e6e6e6" stroke-width="0.6" fill="none"/>
<rect x="119.33" y="598.13" width="69.93" height="6.5" fill="#d9d9d9"/>
<rect x="119.33" y="598.13" width="69.93" height="1.7" fill="#ececec"/>
<text x="154.3" y="603.27" font-size="5.25" text-anchor="middle" fill="#000" stroke="#000" stroke-width="0.12">U5.19</text>
<polyline points="123.63,630.16 124.65,630.06 125.67,629.92 126.69,629.74 127.72,629.52 128.74,629.22 129.76,628.84 130.78,628.36 131.81,627.75 132.83,626.98 133.85,626.04 134.87,624.9 135.9,623.55 136.92,622 137.94,620.31 138.96,618.54 139.99,616.82 141.01,615.32 142.03,614.19 143.05,613.58 144.08,613.58 145.1,614.19 146.12,615.32 147.14,616.82 148.17,618.54 149.19,620.31 150.21,622 151.23,623.55 152.26,624.9 153.28,626.04 154.3,626.98 155.32,627.75 156.34,628.36 157.37,628.84 158.39,629.22 159.41,629.52 160.43,629.74 161.46,629.92 162.48,630.06 163.5,630.16 164.52,630.24 165.55,630.3 166.57,630.35 167.59,630.38 168.61,630.41 169.64,630.43 170.66,630.45 171.68,630.46 172.7,630.47 173.73,630.48 174.75,630.48 175.77,630.49 176.79,630.49 177.82,630.49 178.84,630.49 179.86,630.5 180.88,630.5 181.91,630.5 182.93,630.5 183.95,630.5 184.97,630.5" fill="none" stroke="#000" stroke-width="1.05" stroke-dasharray="1.9 2.1"/>
<polyline points="123.63,630.08 124.65,629.95 125.67,629.77 126.69,629.53 127.72,629.22 128.74,628.82 129.76,628.3 130.78,627.62 131.81,626.77 132.83,625.71 133.85,624.4 134.87,622.84 135.9,621.04 136.92,619.05 137.94,616.99 138.96,615.01 139.99,613.33 141.01,612.15 142.03,611.66 143.05,611.93 144.08,612.91 145.1,614.46 146.12,616.37 147.14,618.43 148.17,620.46 149.19,622.32 150.21,623.96 151.23,625.34 152.26,626.48 153.28,627.39 154.3,628.11 155.32,628.67 156.34,629.11 157.37,629.45 158.39,629.7 159.41,629.9 160.43,630.05 161.46,630.16 162.48,630.24 163.5,630.31 164.52,630.35 165.55,630.39 166.57,630.42 167.59,630.44 168.61,630.45 169.64,630.46 170.66,630.47 171.68,630.48 172.7,630.49 173.73,630.49 174.75,630.49 175.77,630.49 176.79,630.5 177.82,630.5 178.84,630.5 179.86,630.5 180.88,630.5 181.91,630.5 182.93,630.5 183.95,630.5 184.97,630.5" fill="none" stroke="#000" stroke-width="0.95"/>
<path d="M119.33 598.13H189.27V630.5H119.33ZM119.33 604.63H189.27" fill="none" stroke="#1a1a1a" stroke-width="0.6"/>
<path d="M123.63 630.5v3.9M133.85 630.5v3.9M144.08 630.5v3.9M154.3 630.5v3.9M164.52 630.5v3.9M174.75 630.5v3.9M184.97 630.5v3.9" fill="none" stroke="#000" stroke-width="0.75"/>
<rect x="189.27" y="604.63" width="69.93" height="25.87" fill="#fff"/>
<path d="M193.56 604.63V630.5M203.78 604.63V630.5M214.01 604.63V630.5M224.23 604.63V630.5M234.46 604.63V630.5M244.68 604.63V630.5M254.91 604.63V630.5M189.27 626.8H259.2M189.27 623.11H259.2M189.27 619.41H259.2M189.27 615.72H259.2M189.27 612.02H259.2M189.27 608.33H259.2" stroke="#e6e6e6" stroke-width="0.6" fill="none"/>
<rect x="189.27" y="598.13" width="69.93" height="6.5" fill="#d9d9d9"/>
<rect x="189.27" y="598.13" width="69.93" height="1.7" fill="#ececec"/>
<text x="224.23" y="603.27" font-size="5.25" text-anchor="middle" fill="#000" stroke="#000" stroke-width="0.12">U5.21</text>
<polyline points="193.56,630.16 194.58,630.06 195.61,629.92 196.63,629.74 197.65,629.52 198.67,629.22 199.7,628.84 200.72,628.36 201.74,627.75 202.76,626.98 203.78,626.04 204.81,624.9 205.83,623.55 206.85,622 207.87,620.31 208.9,618.54 209.92,616.82 210.94,615.32 211.96,614.19 212.99,613.58 214.01,613.58 215.03,614.19 216.05,615.32 217.08,616.82 218.1,618.54 219.12,620.31 220.14,622 221.17,623.55 222.19,624.9 223.21,626.04 224.23,626.98 225.26,627.75 226.28,628.36 227.3,628.84 228.32,629.22 229.35,629.52 230.37,629.74 231.39,629.92 232.41,630.06 233.44,630.16 234.46,630.24 235.48,630.3 236.5,630.35 237.52,630.38 238.55,630.41 239.57,630.43 240.59,630.45 241.61,630.46 242.64,630.47 243.66,630.48 244.68,630.48 245.7,630.49 246.73,630.49 247.75,630.49 248.77,630.49 249.79,630.5 250.82,630.5 251.84,630.5 252.86,630.5 253.88,630.5 254.91,630.5" fill="none" stroke="#000" stroke-width="1.05" stroke-dasharray="1.9 2.1"/>
<polyline points="193.56,630.32 194.58,630.26 195.61,630.19 196.63,630.08 197.65,629.95 198.67,629.77 199.7,629.53 200.72,629.22 201.74,628.82 202.76,628.3 203.78,627.62 204.81,626.77 205.83,625.71 206.85,624.4 207.87,622.84 208.9,621.04 209.92,619.05 210.94,616.99 211.96,615.01 212.99,613.33 214.01,612.15 215.03,611.66 216.05,611.93 217.08,612.91 218.1,614.46 219.12,616.37 220.14,618.43 221.17,620.46 222.19,622.32 223.21,623.96 224.23,625.34 225.26,626.48 226.28,627.39 227.3,628.11 228.32,628.67 229.35,629.11 230.37,629.45 231.39,629.7 232.41,629.9 233.44,630.05 234.46,630.16 235.48,630.24 236.5,630.31 237.52,630.35 238.55,630.39 239.57,630.42 240.59,630.44 241.61,630.45 242.64,630.46 243.66,630.47 244.68,630.48 245.7,630.49 246.73,630.49 247.75,630.49 248.77,630.49 249.79,630.5 250.82,630.5 251.84,630.5 252.86,630.5 253.88,630.5 254.91,630.5" fill="none" stroke="#000" stroke-width="0.95"/>
<path d="M189.27 598.13H259.2V630.5H189.27ZM189.27 604.63H259.2" fill="none" stroke="#1a1a1a" stroke-width="0.6"/>
<text x="193.56" y="643.15" font-size="6.6" text-anchor="middle">−6</text>
<text x="203.78" y="643.15" font-size="6.6" text-anchor="middle">−4</text>
<text x="214.01" y="643.15" font-size="6.6" text-anchor="middle">−2</text>
<text x="224.23" y="643.15" font-size="6.6" text-anchor="middle">0</text>
<text x="234.46" y="643.15" font-size="6.6" text-anchor="middle">2</text>
<text x="244.68" y="643.15" font-size="6.6" text-anchor="middle">4</text>
<text x="254.91" y="643.15" font-size="6.6" text-anchor="middle">6</text>
<path d="M193.56 630.5v3.9M203.78 630.5v3.9M214.01 630.5v3.9M224.23 630.5v3.9M234.46 630.5v3.9M244.68 630.5v3.9M254.91 630.5v3.9M259.2 630.5h3.9M259.2 626.8h3.9M259.2 623.11h3.9M259.2 619.41h3.9M259.2 615.72h3.9M259.2 612.02h3.9M259.2 608.33h3.9" fill="none" stroke="#000" stroke-width="0.75"/></g>
<text transform="translate(16.1 385.1) rotate(-90)" font-size="13.9" textLength="92" lengthAdjust="spacingAndGlyphs">Item information</text>
<text x="286.6" y="673" font-size="12.75" text-anchor="middle">Person ability</text>
<text x="28.3" y="683.1" font-size="7.15" font-style="italic" textLength="502" lengthAdjust="spacingAndGlyphs">Notes. On the x−axis: person ability level. On the y−axis: item information for a given level of ability. Solid line for the female group, and dotted line for the male.</text>
</svg>
</body>
</html>
